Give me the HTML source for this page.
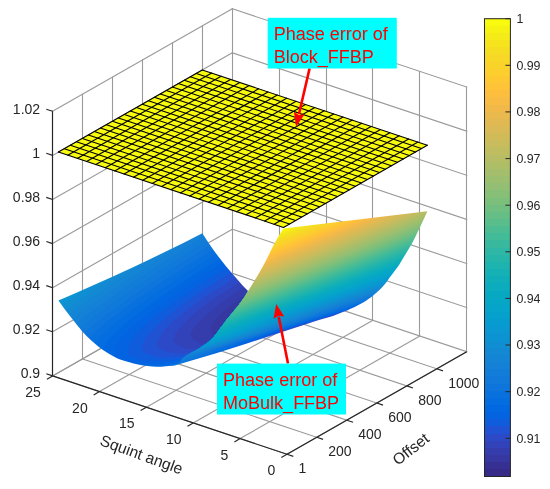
<!DOCTYPE html><html><head><meta charset="utf-8"><style>html,body{margin:0;padding:0;background:#fff;overflow:hidden}svg{display:block}text{font-family:"Liberation Sans",Arial,Helvetica,sans-serif}</style></head><body>
<svg width="550" height="489" viewBox="0 0 550 489">
<rect width="550" height="489" fill="#fff"/>
<g stroke-linecap="square"><line x1="52.5" y1="375.9" x2="52.5" y2="111.3" stroke="#999999" stroke-width="1.1"/><line x1="82.5" y1="358.9" x2="82.5" y2="94.3" stroke="#999999" stroke-width="1.1"/><line x1="112.5" y1="341.8" x2="112.5" y2="77.2" stroke="#999999" stroke-width="1.1"/><line x1="142.5" y1="324.6" x2="142.5" y2="60.1" stroke="#999999" stroke-width="1.1"/><line x1="172.5" y1="307.5" x2="172.5" y2="43" stroke="#999999" stroke-width="1.1"/><line x1="202.5" y1="290.4" x2="202.5" y2="25.9" stroke="#999999" stroke-width="1.1"/><line x1="52.6" y1="375.9" x2="232.3" y2="273.3" stroke="#999999" stroke-width="1.1"/><line x1="52.6" y1="331.8" x2="232.3" y2="229.2" stroke="#999999" stroke-width="1.1"/><line x1="52.6" y1="287.7" x2="232.3" y2="185.1" stroke="#999999" stroke-width="1.1"/><line x1="52.6" y1="243.6" x2="232.3" y2="141" stroke="#999999" stroke-width="1.1"/><line x1="52.6" y1="199.5" x2="232.3" y2="96.9" stroke="#999999" stroke-width="1.1"/><line x1="52.6" y1="155.4" x2="232.3" y2="52.8" stroke="#999999" stroke-width="1.1"/><line x1="52.6" y1="111.3" x2="232.3" y2="8.7" stroke="#999999" stroke-width="1.1"/><line x1="466.5" y1="351.7" x2="466.5" y2="87.1" stroke="#999999" stroke-width="1.1"/><line x1="419.5" y1="336" x2="419.5" y2="71.5" stroke="#999999" stroke-width="1.1"/><line x1="372.5" y1="320.3" x2="372.5" y2="55.8" stroke="#999999" stroke-width="1.1"/><line x1="326.5" y1="304.7" x2="326.5" y2="40.1" stroke="#999999" stroke-width="1.1"/><line x1="279.5" y1="289" x2="279.5" y2="24.4" stroke="#999999" stroke-width="1.1"/><line x1="232.5" y1="273.3" x2="232.5" y2="8.7" stroke="#999999" stroke-width="1.1"/><line x1="466.7" y1="351.7" x2="232.3" y2="273.3" stroke="#999999" stroke-width="1.1"/><line x1="466.7" y1="307.6" x2="232.3" y2="229.2" stroke="#999999" stroke-width="1.1"/><line x1="466.7" y1="263.5" x2="232.3" y2="185.1" stroke="#999999" stroke-width="1.1"/><line x1="466.7" y1="219.4" x2="232.3" y2="141" stroke="#999999" stroke-width="1.1"/><line x1="466.7" y1="175.3" x2="232.3" y2="96.9" stroke="#999999" stroke-width="1.1"/><line x1="466.7" y1="131.2" x2="232.3" y2="52.8" stroke="#999999" stroke-width="1.1"/><line x1="466.7" y1="87.1" x2="232.3" y2="8.7" stroke="#999999" stroke-width="1.1"/><line x1="287" y1="454.3" x2="466.7" y2="351.7" stroke="#999999" stroke-width="1.1"/><line x1="240.1" y1="438.6" x2="419.8" y2="336" stroke="#999999" stroke-width="1.1"/><line x1="193.2" y1="422.9" x2="372.9" y2="320.3" stroke="#999999" stroke-width="1.1"/><line x1="146.4" y1="407.3" x2="326.1" y2="304.7" stroke="#999999" stroke-width="1.1"/><line x1="99.5" y1="391.6" x2="279.2" y2="289" stroke="#999999" stroke-width="1.1"/><line x1="52.6" y1="375.9" x2="232.3" y2="273.3" stroke="#999999" stroke-width="1.1"/><line x1="287" y1="454.3" x2="52.6" y2="375.9" stroke="#999999" stroke-width="1.1"/><line x1="316.8" y1="437.3" x2="82.4" y2="358.9" stroke="#999999" stroke-width="1.1"/><line x1="346.8" y1="420.2" x2="112.4" y2="341.8" stroke="#999999" stroke-width="1.1"/><line x1="376.8" y1="403" x2="142.4" y2="324.6" stroke="#999999" stroke-width="1.1"/><line x1="406.8" y1="385.9" x2="172.4" y2="307.5" stroke="#999999" stroke-width="1.1"/><line x1="436.7" y1="368.8" x2="202.3" y2="290.4" stroke="#999999" stroke-width="1.1"/></g>
<defs><mask id="sil" maskUnits="userSpaceOnUse" x="0" y="0" width="550" height="489"><path d="M58.45 300.47 60.79 303.77 65.48 310.18 67.82 313.30 72.51 319.35 77.20 325.23 79.54 328.11 81.89 330.88 84.23 333.51 86.57 335.94 88.92 338.27 91.26 340.50 93.60 342.62 95.95 344.60 98.29 346.44 100.64 348.20 102.98 349.90 105.32 351.49 107.67 352.96 112.36 355.64 114.70 356.94 117.04 358.13 119.39 359.17 121.73 360.00 124.08 360.74 131.11 362.79 133.45 363.43 135.80 364.01 140.49 364.96 145.17 365.76 147.52 366.09 149.86 366.34 152.21 366.54 156.89 366.77 159.24 366.76 161.58 366.66 163.93 366.49 168.61 366.04 173.30 365.69 175.64 365.21 189.13 361.28 202.62 357.26 216.11 353.16 229.60 348.97 246.09 343.75 272.41 335.24 287.40 330.33 303.70 324.90 312.69 322.00 319.75 319.83 331.25 316.46 333.59 315.64 342.96 312.05 347.65 310.13 350.00 309.10 354.68 306.93 357.03 305.78 359.37 304.55 361.72 303.26 364.06 301.89 366.41 300.43 368.75 298.85 371.09 297.14 373.44 295.23 375.78 293.18 380.47 288.88 382.81 286.53 385.16 283.84 387.50 280.68 389.84 277.34 392.19 274.17 396.88 268.06 399.22 264.63 401.56 260.82 406.25 252.93 410.94 245.19 413.28 240.95 415.63 236.32 420.32 226.57 425.00 216.53 427.35 211.36 283.47 228.47 281.13 232.05 278.78 235.87 276.44 239.91 274.09 244.14 271.75 248.70 267.06 258.53 264.72 263.01 262.37 267.26 257.69 275.39 255.34 279.30 248.15 290.98 246.86 289.80 244.52 287.45 242.17 284.94 239.83 282.31 230.45 271.48 225.77 265.91 223.42 263.03 218.73 257.03 214.04 250.67 209.36 243.97 207.01 240.49 202.33 233.32 184.34 242.39 166.36 251.26 148.37 259.95 130.39 268.44 112.40 276.74 94.42 284.84 76.43 292.75Z" fill="#fff"/></mask></defs><g mask="url(#sil)"><rect x="54" y="204" width="378" height="170" fill="#352a87"/><path fill-rule="evenodd" fill="#363093" d="M431.6 373.6 54.0 373.6 54.0 204.0 431.6 204.0 431.6 373.6Z"/><path fill-rule="evenodd" fill="#3637a0" d="M431.6 373.6 54.0 373.6 54.0 204.0 431.6 204.0 431.6 373.6Z"/><path fill-rule="evenodd" fill="#353dad" d="M431.6 373.6 54.0 373.6 54.0 204.0 431.6 204.0 431.6 373.6ZM214.4 335.6 216.0 334.0 216.0 333.6 217.2 332.4 217.2 332.0 218.4 330.8 218.4 330.4 219.6 329.2 219.6 328.8 220.4 328.0 220.4 327.6 221.6 326.4 221.6 326.0 222.8 324.8 222.8 324.4 224.0 323.2 224.0 322.8 225.2 321.6 225.2 321.2 226.4 320.0 226.4 319.6 228.4 317.6 228.4 317.2 230.4 315.2 230.4 314.8 232.4 312.8 232.4 312.4 234.4 310.4 234.4 310.0 236.4 308.0 236.4 307.6 238.0 306.0 238.0 305.6 239.2 304.4 239.2 304.0 240.4 302.8 240.4 302.4 241.6 301.2 241.6 300.8 242.4 300.0 242.4 299.6 243.2 298.8 243.2 298.4 244.0 297.6 244.0 297.2 244.8 296.4 244.8 296.0 245.6 295.2 245.6 294.8 246.0 294.4 246.0 294.2 235.3 302.0 226.3 309.2 222.2 312.8 218.8 316.0 216.1 318.8 213.8 321.6 212.4 323.6 211.3 325.6 210.9 327.2 210.9 328.8 211.2 330.8 211.9 332.8 213.2 334.7 214.2 335.6 214.4 335.6Z"/><path fill-rule="evenodd" fill="#3243ba" d="M431.6 373.6 54.0 373.6 54.0 204.0 431.6 204.0 431.6 373.6ZM206.0 343.6 206.8 342.8 207.2 342.8 208.4 341.6 208.8 341.6 214.0 336.4 214.0 336.0 216.0 334.0 216.0 333.6 217.2 332.4 217.2 332.0 218.4 330.8 218.4 330.4 219.6 329.2 219.6 328.8 220.4 328.0 220.4 327.6 221.6 326.4 221.6 326.0 222.8 324.8 222.8 324.4 224.0 323.2 224.0 322.8 225.2 321.6 225.2 321.2 226.4 320.0 226.4 319.6 228.4 317.6 228.4 317.2 230.4 315.2 230.4 314.8 232.4 312.8 232.4 312.4 234.4 310.4 234.4 310.0 236.4 308.0 236.4 307.6 238.0 306.0 238.0 305.6 239.2 304.4 239.2 304.0 240.4 302.8 240.4 302.4 241.6 301.2 241.6 300.8 242.4 300.0 242.4 299.6 243.2 298.8 243.2 298.4 244.0 297.6 244.0 297.2 244.8 296.4 244.8 296.0 245.6 295.2 245.6 294.8 246.0 294.4 246.0 294.0 246.8 293.2 246.8 292.8 247.2 292.4 247.2 292.0 248.0 291.2 248.0 290.4 247.6 290.0 247.6 287.6 247.2 287.2 247.2 283.7 244.0 286.9 243.6 287.0 237.9 290.8 226.8 298.4 218.6 304.4 211.6 310.0 205.6 315.2 201.0 319.6 196.6 324.4 193.5 328.4 192.5 330.0 191.6 331.6 191.2 332.8 191.0 334.0 191.1 335.2 191.4 336.0 192.1 337.2 192.9 338.4 194.0 339.6 195.5 340.8 197.4 342.0 199.1 342.8 200.8 343.3 202.8 343.6 205.6 343.8 206.0 343.6Z"/><path fill-rule="evenodd" fill="#2c4ac7" d="M431.6 373.6 357.2 373.6 357.2 372.8 356.8 372.4 356.8 371.6 356.4 371.2 356.4 370.8 356.0 370.4 356.0 369.6 355.6 369.2 355.6 368.4 355.2 368.0 355.2 367.6 354.8 367.2 354.8 366.4 354.4 366.0 354.4 365.2 354.0 364.8 354.0 364.4 353.6 364.0 353.6 363.2 353.2 362.8 353.2 362.0 352.8 361.6 352.8 361.2 352.4 360.8 352.4 360.0 352.0 359.6 352.0 358.8 351.6 358.4 351.6 358.0 351.2 357.6 351.2 356.8 350.8 356.4 350.8 355.6 350.4 355.2 350.4 354.8 350.0 354.4 350.0 353.6 349.6 353.2 349.6 352.4 349.2 352.0 349.2 351.6 348.8 351.2 348.8 350.4 348.4 350.0 348.4 349.2 348.0 348.8 348.0 348.4 347.6 348.0 347.6 347.2 347.2 346.8 347.2 346.0 346.8 345.6 346.8 345.2 346.4 344.8 346.4 344.0 346.0 343.6 346.0 342.8 345.6 342.4 345.6 342.0 345.2 341.5 345.2 340.8 344.5 339.6 344.5 339.2 344.1 338.4 344.1 338.0 343.7 337.6 343.7 336.8 343.3 336.4 343.3 335.6 342.9 335.2 342.9 334.4 342.5 334.0 342.5 333.2 342.1 332.8 342.1 332.0 341.7 331.6 341.7 330.8 341.3 330.4 341.3 329.6 340.9 329.2 340.9 328.4 340.5 328.0 340.5 327.2 340.1 326.8 340.1 326.0 339.7 325.6 339.7 324.8 339.3 324.4 339.3 323.6 338.9 323.2 338.9 322.4 338.5 322.0 338.5 321.2 338.1 320.8 338.1 320.0 337.7 319.6 337.7 318.8 337.3 318.4 337.3 317.6 336.9 317.2 336.9 316.4 336.5 316.0 336.5 315.6 336.0 315.2 336.0 314.8 335.6 314.8 335.6 315.6 335.2 315.9 334.9 315.6 334.9 315.2 334.4 315.2 326.6 317.6 326.6 318.4 326.4 318.6 326.2 318.4 326.2 318.0 326.0 317.9 325.4 318.0 325.4 318.8 325.2 318.9 325.1 318.8 325.1 318.4 324.8 318.2 324.1 318.4 324.0 319.3 323.9 318.8 323.6 318.6 322.8 318.8 322.8 320.4 322.8 320.0 322.4 319.9 322.1 319.6 322.0 319.2 321.5 319.2 321.5 320.0 321.2 320.2 321.0 320.0 321.0 319.6 320.8 319.5 320.2 319.6 320.1 322.8 320.5 323.2 320.5 324.4 320.9 324.8 320.9 326.0 321.3 326.4 321.3 327.6 321.7 328.0 321.7 329.2 322.1 329.6 322.1 330.8 322.5 331.2 322.5 332.4 322.9 332.8 322.8 334.0 323.3 334.4 323.2 335.6 323.7 336.0 323.6 337.2 324.0 337.6 324.0 338.8 324.4 339.2 324.4 340.0 324.8 340.4 324.8 341.6 325.2 342.0 325.2 342.8 325.6 343.2 325.6 344.4 326.0 344.8 326.0 345.6 326.4 346.0 326.4 347.2 326.8 347.6 326.8 348.4 327.2 348.8 327.2 350.0 327.6 350.4 327.6 351.2 328.0 351.6 328.0 352.8 328.4 353.2 328.4 354.0 328.8 354.4 328.8 355.6 328.8 354.8 328.4 354.4 328.4 353.6 328.0 353.2 328.0 352.4 327.6 352.0 327.6 351.2 327.2 350.8 327.2 350.0 326.8 349.6 326.8 348.8 326.4 348.4 326.4 347.6 326.0 347.2 326.0 346.4 325.6 346.0 325.6 345.2 325.2 344.8 325.2 344.0 324.8 343.6 324.8 342.8 324.4 342.4 324.4 341.6 324.0 341.2 324.0 340.4 323.6 340.0 323.6 339.2 323.2 338.8 323.2 338.0 322.8 337.6 322.8 336.8 322.4 336.4 322.4 335.6 322.0 335.2 322.0 334.4 321.6 334.0 321.6 333.2 321.2 332.8 321.2 332.0 320.8 331.6 320.8 330.8 320.4 330.4 320.4 329.6 320.0 329.2 320.0 328.4 319.6 328.0 319.6 327.2 319.2 326.8 319.2 326.0 318.8 325.6 318.8 324.8 318.4 324.4 318.4 323.6 318.0 323.2 318.0 322.4 317.6 322.0 317.6 321.6 317.2 321.5 316.9 321.2 316.9 320.8 316.8 320.7 316.2 320.8 316.2 321.6 316.0 321.7 315.9 321.6 315.9 321.2 315.6 321.0 315.2 321.0 314.9 321.2 314.8 324.4 315.2 324.8 315.2 326.0 315.6 326.4 315.6 327.6 316.0 328.0 316.0 329.2 316.4 329.6 316.4 330.8 316.8 331.2 316.8 332.4 317.2 332.8 317.2 334.1 317.1 334.0 317.1 333.2 316.7 332.8 316.7 332.0 316.3 331.6 316.3 330.8 315.9 330.4 315.9 329.6 315.5 329.2 315.5 328.4 315.1 328.0 315.1 327.2 314.7 326.8 314.7 326.0 314.3 325.6 314.3 324.8 313.9 324.4 313.9 323.6 313.5 323.2 313.5 322.8 312.9 322.4 312.9 322.0 312.8 321.9 312.3 322.0 312.3 322.8 312.0 323.0 311.8 322.8 311.8 322.4 311.6 322.2 311.2 322.3 311.0 322.4 311.0 323.2 310.8 323.3 310.7 323.2 310.7 322.8 310.4 322.6 310.0 322.6 309.7 322.8 309.6 323.7 309.5 323.2 309.2 323.0 308.8 323.0 299.2 326.1 289.6 329.4 289.2 329.6 289.2 330.4 289.2 330.0 288.8 329.8 288.4 329.8 288.1 330.0 288.0 330.9 287.9 330.4 287.6 330.2 287.2 330.3 286.9 330.4 286.9 331.2 286.8 331.3 286.7 331.2 286.7 330.8 286.4 330.6 286.0 330.7 285.8 330.8 285.8 331.6 285.6 331.8 285.4 331.6 285.4 331.2 285.2 331.1 284.6 331.2 284.6 334.4 285.0 334.8 285.0 336.0 285.4 336.4 285.4 337.6 285.8 338.0 285.8 339.2 286.2 339.6 286.2 340.8 286.6 341.2 286.6 342.4 287.0 342.8 287.0 344.0 287.4 344.4 287.4 345.6 287.8 346.0 287.8 347.2 288.2 347.6 288.2 348.8 288.6 349.2 288.6 350.4 289.0 350.8 289.0 351.6 289.4 352.0 289.4 353.2 289.8 353.6 289.8 354.4 290.2 354.8 290.2 356.0 290.6 356.4 290.6 357.2 291.0 357.6 291.0 358.8 291.4 359.2 291.4 360.0 291.8 360.4 291.8 361.6 292.2 362.0 292.2 362.8 292.6 363.2 292.6 364.4 293.0 364.8 293.0 365.6 293.4 366.0 293.4 367.2 293.8 367.6 293.8 368.4 294.2 368.8 294.2 370.0 294.6 370.4 294.6 371.2 295.0 371.6 295.0 372.8 295.4 373.2 295.4 373.6 54.0 373.6 54.0 204.0 431.6 204.0 431.6 373.6ZM198.4 348.8 199.2 348.0 199.6 348.0 200.4 347.2 200.8 347.2 201.6 346.4 202.0 346.4 202.8 345.6 203.2 345.6 204.0 344.8 204.4 344.8 205.2 344.0 205.6 344.0 206.8 342.8 207.2 342.8 208.4 341.6 208.8 341.6 214.0 336.4 214.0 336.0 216.0 334.0 216.0 333.6 217.2 332.4 217.2 332.0 218.4 330.8 218.4 330.4 219.6 329.2 219.6 328.8 220.4 328.0 220.4 327.6 221.6 326.4 221.6 326.0 222.8 324.8 222.8 324.4 224.0 323.2 224.0 322.8 225.2 321.6 225.2 321.2 226.4 320.0 226.4 319.6 228.4 317.6 228.4 317.2 230.4 315.2 230.4 314.8 232.4 312.8 232.4 312.4 234.4 310.4 234.4 310.0 236.4 308.0 236.4 307.6 238.0 306.0 238.0 305.6 239.2 304.4 239.2 304.0 240.4 302.8 240.4 302.4 241.6 301.2 241.6 300.8 242.4 300.0 242.4 299.6 243.2 298.8 243.2 298.4 244.0 297.6 244.0 297.2 244.8 296.4 244.8 296.0 245.6 295.2 245.6 294.8 246.0 294.4 246.0 294.0 246.8 293.2 246.8 292.8 247.2 292.4 247.2 292.0 248.0 291.2 248.0 290.4 247.6 290.0 247.6 287.6 247.2 287.2 247.2 283.6 246.8 283.2 246.8 279.6 246.4 279.2 246.4 277.3 245.6 278.1 245.2 278.1 244.0 279.3 243.6 279.3 242.8 280.1 242.4 280.1 241.6 280.9 241.2 281.0 240.8 281.4 240.4 281.4 239.6 282.1 239.2 282.2 232.6 286.4 216.8 296.8 207.2 303.6 198.8 310.0 191.5 316.0 185.5 321.6 180.6 326.8 178.7 329.2 176.7 332.0 175.1 334.4 174.1 336.4 173.5 338.0 173.2 339.6 173.3 340.8 173.7 341.6 174.7 342.8 176.0 344.0 178.0 345.4 180.4 346.7 183.2 347.8 185.2 348.4 187.6 348.8 190.4 348.9 194.8 349.0 198.4 348.8ZM317.6 335.3 317.5 335.2 317.5 334.4 317.6 334.4 317.6 335.3ZM318.0 336.5 317.9 336.4 317.9 336.0 318.0 336.0 318.0 336.5ZM318.4 337.7 318.3 337.6 318.4 337.6 318.4 337.7ZM329.2 356.8 329.2 356.0 329.2 356.8ZM329.6 358.0 329.6 357.2 329.6 358.0ZM330.0 359.2 330.0 358.8 330.0 359.2ZM330.4 360.4 330.4 360.0 330.4 360.4Z"/><path fill-rule="evenodd" fill="#2053d4" d="M431.6 373.6 365.4 373.6 365.0 373.2 365.0 372.4 364.6 372.0 364.6 371.6 364.2 371.2 364.2 370.4 363.8 370.0 363.8 369.6 363.4 369.2 363.4 368.4 363.0 368.0 363.0 367.6 362.6 367.2 362.6 366.4 362.2 366.0 362.2 365.6 361.8 365.2 361.8 364.4 361.4 364.0 361.4 363.6 361.0 363.2 361.0 362.4 360.6 362.0 360.6 361.6 360.2 361.2 360.2 360.4 359.8 360.0 359.8 359.6 359.4 359.2 359.4 358.4 359.0 358.0 359.0 357.6 358.6 357.2 358.6 356.4 358.2 356.0 358.2 355.6 357.8 355.2 357.8 354.4 357.4 354.0 357.4 353.6 357.0 353.2 357.0 352.4 356.6 352.0 356.6 351.6 356.2 351.2 356.2 350.4 355.8 350.0 355.8 349.6 355.4 349.2 355.4 348.4 355.0 348.0 355.0 347.6 354.6 347.2 354.6 346.4 354.2 346.0 354.2 345.6 353.8 345.2 353.8 344.4 353.4 344.0 353.4 343.6 353.0 343.2 353.0 342.4 352.6 342.0 352.6 341.6 352.2 341.2 352.2 340.4 351.8 340.0 351.8 339.6 351.4 339.2 351.4 338.4 351.0 338.0 351.0 337.6 350.6 337.2 350.6 336.4 350.2 336.0 350.2 335.6 349.8 335.2 349.8 334.4 349.4 334.0 349.4 333.6 349.0 333.2 349.0 332.4 348.6 332.0 348.6 331.6 348.2 331.2 348.2 330.4 347.8 330.0 347.8 329.6 347.4 329.2 347.4 328.4 347.0 328.0 347.0 327.6 346.6 327.2 346.6 326.4 346.2 326.0 346.2 325.6 345.8 325.2 345.8 324.4 345.4 324.0 345.4 323.6 345.0 323.2 345.0 322.4 344.6 322.0 344.6 321.6 344.2 321.2 344.2 320.4 343.8 320.0 343.8 319.6 343.5 319.2 343.4 318.8 343.1 318.4 343.1 318.0 342.7 317.6 342.7 317.2 342.3 316.8 342.3 316.4 341.9 316.0 341.9 315.6 341.5 315.2 341.5 314.8 341.1 314.4 341.1 314.0 340.7 313.6 340.7 313.2 340.4 313.0 339.7 313.2 339.6 314.0 339.6 313.6 339.2 313.4 338.8 313.5 301.6 325.0 289.9 328.8 273.6 334.7 273.3 334.8 273.2 335.7 273.1 335.2 272.8 335.0 272.4 335.1 272.2 335.2 272.2 336.0 272.0 336.2 271.8 336.0 271.8 335.6 271.2 335.5 271.1 335.6 271.1 336.4 270.8 336.7 270.5 336.4 270.5 336.0 270.0 336.0 269.8 337.6 270.2 338.0 270.2 338.8 270.6 339.2 270.6 340.0 271.0 340.4 271.0 341.2 271.4 341.6 271.4 342.4 271.8 342.8 271.8 343.6 272.2 344.0 272.2 344.8 272.6 345.2 272.6 346.0 273.0 346.4 273.0 347.2 273.4 347.6 273.4 348.4 273.8 348.8 273.8 349.6 274.2 350.0 274.2 350.8 274.6 351.2 274.6 352.0 275.0 352.4 275.0 353.2 275.4 353.6 275.4 354.4 275.8 354.8 275.8 355.6 276.2 356.0 276.2 356.8 276.6 357.2 276.6 358.0 277.0 358.4 277.0 359.2 277.4 359.6 277.4 360.4 277.8 360.8 277.8 361.6 278.2 362.0 278.2 362.8 278.6 363.2 278.6 364.0 279.0 364.4 279.0 365.2 279.4 365.6 279.4 366.4 279.8 366.8 279.8 367.6 280.2 368.0 280.2 368.8 280.6 369.2 280.6 370.0 281.0 370.4 281.0 371.2 281.4 371.6 281.4 372.4 281.8 372.8 281.8 373.6 54.0 373.6 54.0 204.0 431.6 204.0 431.6 373.6ZM188.8 353.2 190.0 353.1 190.4 352.8 190.8 352.8 191.2 352.4 191.6 352.4 192.0 352.0 192.4 352.0 192.8 351.6 193.2 351.6 193.6 351.2 194.0 351.2 194.4 350.8 194.8 350.8 195.2 350.4 195.6 350.4 196.0 350.0 196.4 350.0 197.2 349.2 197.6 349.2 198.0 348.8 198.4 348.8 199.2 348.0 199.6 348.0 200.4 347.2 200.8 347.2 201.6 346.4 202.0 346.4 202.8 345.6 203.2 345.6 204.0 344.8 204.4 344.8 205.2 344.0 205.6 344.0 206.8 342.8 207.2 342.8 208.4 341.6 208.8 341.7 214.1 336.4 214.1 336.0 216.1 334.0 216.1 333.6 217.3 332.4 217.3 332.0 218.5 330.8 218.5 330.4 219.7 329.2 219.7 328.8 220.5 328.0 220.5 327.6 221.7 326.4 221.7 326.0 222.9 324.8 222.9 324.4 224.1 323.2 224.1 322.8 225.3 321.6 225.3 321.2 226.5 320.0 226.5 319.6 228.5 317.6 228.4 317.2 230.4 315.2 230.4 314.8 232.4 312.8 232.4 312.4 234.4 310.4 234.4 310.0 236.4 308.0 236.4 307.6 238.0 306.0 238.0 305.6 239.2 304.4 239.2 304.0 240.4 302.8 240.4 302.4 241.6 301.2 241.6 300.8 242.4 300.0 242.4 299.6 243.2 298.8 243.2 298.4 244.0 297.6 244.0 297.2 244.8 296.4 244.8 296.0 245.6 295.2 245.6 294.8 246.0 294.4 246.0 294.0 246.8 293.2 246.8 292.8 247.2 292.4 247.2 292.0 248.0 291.2 248.0 290.4 247.6 290.0 247.6 287.6 247.2 287.2 247.2 283.6 246.8 283.2 246.8 279.6 246.4 279.2 246.4 274.4 246.0 274.0 246.0 269.6 245.6 269.2 245.6 267.9 244.0 269.5 243.6 269.5 242.0 271.1 241.7 271.2 235.6 277.3 235.2 277.4 224.0 284.4 207.5 295.2 194.9 304.0 183.7 312.4 175.9 318.8 169.8 324.4 167.1 327.2 164.9 329.6 163.0 332.0 161.2 334.4 159.8 336.8 158.4 339.6 157.6 341.6 157.1 343.6 157.0 344.8 157.2 346.0 158.0 347.2 159.0 348.0 161.6 349.5 164.4 350.8 169.0 352.4 171.6 353.0 174.4 353.3 178.4 353.5 183.2 353.4 188.8 353.2Z"/><path fill-rule="evenodd" fill="#0f5cdd" d="M431.6 373.6 370.0 373.6 370.0 372.8 369.6 372.4 369.6 372.0 369.2 371.6 369.2 370.8 368.8 370.4 368.8 370.0 368.4 369.6 368.4 368.8 368.0 368.4 368.0 368.0 367.6 367.6 367.6 366.8 367.2 366.4 367.2 366.0 366.8 365.6 366.8 364.8 366.4 364.4 366.4 364.0 366.0 363.6 366.0 362.8 365.6 362.4 365.6 362.0 365.2 361.6 365.2 360.8 364.8 360.4 364.8 360.0 364.4 359.6 364.4 358.8 364.0 358.4 364.0 358.0 363.6 357.6 363.6 356.8 363.2 356.4 363.2 356.0 362.8 355.6 362.8 354.8 362.4 354.4 362.4 354.0 362.0 353.6 362.0 352.8 361.6 352.4 361.6 352.0 361.2 351.6 361.2 350.8 360.8 350.4 360.8 350.0 360.4 349.6 360.4 348.8 360.0 348.4 360.0 348.0 359.6 347.6 359.6 346.8 359.2 346.4 359.2 346.0 358.8 345.6 358.8 344.8 358.4 344.4 358.4 344.0 358.0 343.6 358.0 342.8 357.6 342.4 357.6 342.0 357.2 341.6 357.2 340.8 356.8 340.4 356.8 340.0 356.4 339.6 356.4 338.8 356.0 338.4 356.0 338.0 355.6 337.6 355.6 336.8 355.2 336.4 355.2 336.0 354.8 335.6 354.8 334.8 354.4 334.4 354.4 334.0 354.0 333.6 354.0 332.8 353.6 332.4 353.6 332.0 353.2 331.6 353.2 330.8 352.8 330.4 352.8 330.0 352.4 329.6 352.4 328.8 352.0 328.4 352.0 328.0 351.6 327.6 351.6 326.8 351.2 326.4 351.2 326.0 350.8 325.6 350.8 324.8 350.4 324.4 350.4 324.0 350.0 323.6 350.0 322.8 349.6 322.4 349.6 322.0 349.2 321.6 349.2 320.8 348.8 320.4 348.8 320.0 348.4 319.6 348.4 318.8 348.0 318.4 348.0 318.0 347.3 316.8 347.3 316.4 346.9 316.0 346.9 315.2 346.5 314.8 346.5 314.0 346.1 313.6 346.1 312.8 345.7 312.4 345.7 312.0 345.2 311.6 345.2 311.2 344.0 311.4 319.6 319.0 282.3 330.8 273.2 334.0 257.6 339.9 257.3 340.0 257.2 340.9 257.1 340.8 257.1 340.4 256.8 340.3 256.4 340.3 256.2 340.4 256.2 341.2 256.0 341.5 255.7 341.2 255.7 340.8 255.1 340.8 255.1 341.6 254.9 342.0 254.9 342.4 255.3 342.8 255.3 343.6 255.7 344.0 255.7 344.8 256.1 345.2 256.1 346.0 256.5 346.4 256.5 347.2 256.9 347.6 256.9 348.4 257.3 348.8 257.3 349.6 257.7 350.0 257.7 350.8 258.1 351.2 258.1 352.0 258.5 352.4 258.5 353.2 258.9 353.6 258.9 354.4 259.3 354.8 259.3 355.6 259.7 356.0 259.7 356.8 260.1 357.2 260.1 358.0 260.5 358.4 260.5 359.2 260.9 359.6 260.9 360.4 261.3 360.8 261.3 361.6 261.7 362.0 261.7 362.8 262.1 363.2 262.1 364.0 262.5 364.4 262.5 365.2 262.9 365.6 262.9 366.4 263.3 366.8 263.3 367.6 263.7 368.0 263.7 368.8 264.1 369.2 264.1 370.0 264.5 370.4 264.5 371.2 264.9 371.6 264.9 372.4 265.3 372.8 265.3 373.6 54.0 373.6 54.0 204.0 431.6 204.0 431.6 373.6ZM177.4 357.2 184.4 356.5 184.8 356.4 185.2 356.0 185.6 356.0 186.4 355.2 186.8 355.2 187.6 354.4 188.0 354.4 188.4 354.0 188.8 354.0 189.2 353.6 189.6 353.6 190.4 352.8 190.8 352.8 191.2 352.4 191.6 352.4 192.0 352.0 192.4 352.0 192.8 351.6 193.2 351.6 193.6 351.2 194.0 351.2 194.4 350.8 194.8 350.8 195.2 350.4 195.6 350.5 196.0 350.1 196.4 350.1 197.2 349.3 197.6 349.3 198.0 348.9 198.4 348.9 199.2 348.1 199.6 348.1 200.4 347.3 200.8 347.3 201.6 346.5 202.0 346.5 202.8 345.7 203.2 345.7 204.0 344.9 204.4 344.9 205.2 344.1 205.6 344.1 206.8 342.9 207.2 342.9 208.4 341.7 208.8 341.7 214.1 336.4 214.1 336.0 216.1 334.0 216.1 333.6 217.3 332.4 217.3 332.0 218.5 330.8 218.5 330.4 219.7 329.2 219.7 328.8 220.5 328.0 220.5 327.6 221.7 326.4 221.7 326.0 222.9 324.8 222.9 324.4 224.1 323.2 224.1 322.8 225.3 321.6 225.3 321.2 226.5 320.0 226.5 319.6 228.5 317.6 228.5 317.2 230.5 315.2 230.5 314.8 232.5 312.8 232.5 312.4 234.5 310.4 234.5 310.0 236.5 308.0 236.5 307.6 238.1 306.0 238.1 305.6 239.3 304.4 239.3 304.0 240.5 302.8 240.5 302.4 241.6 301.2 241.6 300.8 242.4 300.0 242.4 299.6 243.2 298.8 243.2 298.4 244.0 297.6 244.0 297.2 244.8 296.4 244.8 296.0 245.6 295.2 245.6 294.8 246.0 294.4 246.0 294.0 246.8 293.2 246.8 292.8 247.2 292.4 247.2 292.0 248.0 291.2 248.0 290.4 247.6 290.0 247.6 287.6 247.2 287.2 247.2 283.6 246.8 283.2 246.8 279.6 246.4 279.2 246.4 274.4 246.0 274.0 246.0 269.6 245.6 269.2 245.6 265.2 245.2 264.8 245.2 262.4 243.2 264.4 242.8 264.4 241.2 266.0 240.8 266.0 239.2 267.6 238.8 267.6 237.6 268.8 237.2 268.8 236.0 270.0 235.6 270.0 234.8 270.8 234.4 270.8 233.6 271.6 233.2 271.6 232.8 272.0 232.4 272.0 232.0 272.4 231.2 272.5 226.8 275.2 214.8 282.8 203.7 290.0 186.8 301.6 179.0 307.2 172.1 312.4 167.1 316.4 162.3 320.4 157.8 324.4 154.0 328.0 151.0 331.2 148.3 334.4 145.9 337.6 144.3 340.4 143.6 342.0 142.6 344.8 142.1 346.8 142.0 348.4 142.1 349.6 142.5 350.8 143.2 351.7 144.4 352.6 147.7 354.0 151.2 355.2 156.0 356.5 158.8 357.1 162.0 357.4 166.4 357.5 172.4 357.4 177.4 357.2Z"/><path fill-rule="evenodd" fill="#0363e1" d="M431.6 373.6 379.4 373.6 379.4 373.2 379.0 372.8 379.0 372.4 378.6 372.0 378.6 371.6 378.2 371.2 378.2 370.8 377.8 370.4 377.8 369.6 377.4 369.2 377.4 368.8 377.0 368.4 377.0 368.0 376.6 367.6 376.6 367.2 376.2 366.8 376.2 366.0 375.8 365.6 375.8 365.2 375.4 364.8 375.4 364.4 375.0 364.0 375.0 363.6 374.6 363.2 374.6 362.4 374.2 362.0 374.2 361.6 373.8 361.2 373.8 360.8 373.4 360.4 373.4 360.0 373.0 359.6 373.0 358.8 372.6 358.4 372.6 358.0 372.2 357.6 372.2 357.2 371.8 356.8 371.8 356.4 371.4 356.0 371.4 355.2 371.0 354.8 371.0 354.4 370.6 354.0 370.6 353.6 370.2 353.2 370.2 352.8 369.8 352.4 369.8 351.6 369.4 351.2 369.4 350.8 369.0 350.4 369.0 350.0 368.6 349.6 368.6 349.2 368.2 348.8 368.2 348.0 367.8 347.6 367.8 347.2 367.4 346.8 367.4 346.4 367.0 346.0 367.0 345.6 366.6 345.2 366.6 344.4 366.2 344.0 366.2 343.6 365.8 343.2 365.8 342.8 365.4 342.4 365.4 342.0 365.0 341.6 365.0 340.8 364.6 340.4 364.6 340.0 364.2 339.6 364.2 339.2 363.8 338.8 363.6 338.0 362.6 336.0 362.4 335.2 362.0 334.8 362.0 334.4 361.6 334.0 361.6 333.6 361.2 333.2 361.2 332.4 360.8 332.0 360.8 331.6 360.4 331.2 360.4 330.8 360.0 330.4 360.0 329.6 359.6 329.2 359.6 328.8 359.2 328.4 359.2 328.0 358.8 327.6 358.8 326.8 358.4 326.4 358.4 326.0 358.0 325.6 358.0 325.2 357.6 324.8 357.6 324.3 357.3 324.0 357.2 323.5 356.9 323.2 356.8 322.7 356.5 322.4 356.5 322.0 356.1 321.6 356.1 321.2 355.7 320.8 355.7 320.4 355.3 320.0 355.3 319.6 354.9 319.2 354.9 318.8 354.5 318.4 354.5 318.0 354.1 317.6 354.1 317.2 353.7 316.8 353.7 316.4 353.3 316.0 353.3 315.6 352.9 315.2 352.9 314.8 352.5 314.4 352.5 314.0 352.1 313.6 352.1 313.2 351.7 312.8 351.7 312.4 351.3 312.0 351.3 311.6 350.9 311.2 350.9 310.8 350.5 310.4 350.5 310.0 350.1 309.6 350.1 309.2 350.0 309.1 348.8 309.4 306.4 322.7 272.2 333.6 262.0 337.2 241.6 345.0 241.3 345.2 241.2 346.1 241.1 345.6 240.8 345.4 240.1 345.6 240.2 348.8 240.6 349.2 240.6 350.4 241.0 350.8 241.0 352.0 241.4 352.4 241.4 353.6 241.8 354.0 241.8 355.2 242.2 355.6 242.2 356.8 242.6 357.2 242.6 358.4 243.0 358.8 243.0 360.0 243.4 360.4 243.4 361.6 243.8 362.0 243.8 363.2 244.2 363.6 244.2 364.8 244.6 365.2 244.6 366.0 245.0 366.4 245.0 367.6 245.4 368.0 245.4 368.8 245.8 369.2 245.8 370.4 246.2 370.8 246.2 371.6 246.6 372.0 246.6 373.2 247.0 373.6 54.0 373.6 54.0 204.0 431.6 204.0 431.6 373.6ZM167.2 360.8 174.0 360.1 181.6 359.1 183.6 357.2 184.0 357.2 185.2 356.1 185.6 356.1 186.4 355.3 186.8 355.3 187.6 354.5 188.0 354.5 188.4 354.1 188.8 354.1 189.2 353.7 189.6 353.7 190.4 352.9 190.8 352.9 191.2 352.5 191.6 352.5 192.0 352.1 192.4 352.1 192.8 351.7 193.2 351.7 193.6 351.3 194.0 351.3 194.4 350.9 194.8 350.9 195.2 350.5 195.6 350.5 196.0 350.1 196.4 350.1 197.2 349.3 197.6 349.3 198.0 348.9 198.4 348.9 199.2 348.1 199.6 348.1 200.4 347.3 200.8 347.3 201.6 346.5 202.0 346.5 202.8 345.7 203.2 345.7 204.0 344.9 204.4 344.9 205.2 344.1 205.6 344.1 206.8 342.9 207.2 342.9 208.4 341.7 208.8 341.7 214.1 336.4 214.1 336.0 216.1 334.0 216.1 333.6 217.3 332.4 217.3 332.0 218.5 330.8 218.5 330.4 219.7 329.2 219.7 328.8 220.5 328.0 220.5 327.6 221.7 326.4 221.7 326.0 222.9 324.8 222.9 324.4 224.1 323.2 224.1 322.8 225.3 321.6 225.3 321.2 226.5 320.0 226.5 319.6 228.5 317.6 228.5 317.2 230.5 315.2 230.5 314.8 232.5 312.8 232.5 312.4 234.5 310.4 234.5 310.0 236.5 308.0 236.5 307.6 238.1 306.0 238.1 305.6 239.3 304.4 239.3 304.0 240.5 302.8 240.5 302.4 241.7 301.2 241.7 300.8 242.5 300.0 242.5 299.6 243.3 298.8 243.3 298.4 244.1 297.6 244.1 297.2 244.9 296.4 244.9 296.0 245.7 295.2 245.7 294.8 246.1 294.4 246.1 294.0 246.9 293.2 246.9 292.8 247.3 292.4 247.3 292.0 248.1 291.2 248.0 290.4 247.6 290.0 247.6 287.6 247.2 287.2 247.2 283.6 246.8 283.2 246.8 279.6 246.4 279.2 246.4 274.4 246.0 274.0 246.0 269.6 245.6 269.2 245.6 265.2 245.2 264.8 245.2 260.8 244.8 260.4 244.8 256.4 244.4 256.0 244.4 254.5 243.6 255.3 243.2 255.3 241.2 257.3 240.8 257.3 238.8 259.3 238.4 259.3 236.8 260.9 236.4 260.9 234.8 262.5 234.4 262.5 233.2 263.7 232.8 263.7 231.6 264.9 231.2 265.0 230.4 265.8 230.0 265.8 229.2 266.6 228.8 266.7 228.4 267.1 228.0 267.1 227.2 267.9 221.0 271.6 208.9 279.2 189.9 291.6 181.2 297.6 172.7 303.6 165.1 309.2 158.3 314.4 152.3 319.2 147.2 323.6 142.8 327.6 139.1 331.2 135.5 335.2 132.6 338.8 130.5 342.0 129.1 344.8 128.4 346.8 128.0 349.2 127.8 351.6 128.0 353.2 128.4 354.4 129.2 355.6 130.0 356.2 131.2 356.8 134.7 358.0 138.4 359.0 144.0 360.3 147.2 360.7 151.2 361.0 156.4 361.1 162.0 361.1 167.2 360.8Z"/><path fill-rule="evenodd" fill="#0268e1" d="M431.6 373.6 387.7 373.6 387.3 373.2 387.3 372.8 386.9 372.4 386.9 372.0 386.5 371.6 386.5 371.2 386.1 370.8 386.1 370.4 385.7 370.0 385.7 369.6 385.3 369.2 385.3 368.8 384.9 368.4 384.9 368.0 384.5 367.6 384.5 367.2 384.1 366.8 384.1 366.4 383.7 366.0 383.7 365.6 383.3 365.2 383.3 364.8 382.9 364.4 382.9 364.0 382.5 363.6 382.5 363.2 382.1 362.8 382.1 362.4 381.7 362.0 381.7 361.6 381.3 361.2 381.3 360.8 380.9 360.4 380.9 360.0 380.5 359.6 380.5 359.2 380.1 358.8 380.1 358.4 379.7 358.0 379.7 357.6 379.3 357.2 379.3 356.8 378.9 356.4 378.9 356.0 378.5 355.6 378.5 355.2 378.1 354.8 378.1 354.4 377.7 354.0 377.7 353.6 377.3 353.2 377.3 352.8 376.9 352.4 376.9 352.0 376.5 351.6 376.5 351.2 376.1 350.8 376.1 350.4 375.7 350.0 375.7 349.6 375.3 349.2 375.3 348.8 374.9 348.4 374.9 348.0 374.5 347.6 374.5 347.2 374.1 346.8 374.1 346.4 373.7 346.0 373.7 345.6 373.3 345.2 373.3 344.8 372.9 344.4 372.9 344.0 372.5 343.6 372.5 343.2 372.1 342.8 372.1 342.4 371.7 342.0 371.7 341.6 371.3 341.2 371.3 340.8 370.9 340.4 370.9 340.0 370.5 339.6 370.5 339.2 370.1 338.8 370.1 338.4 369.7 338.0 369.7 337.6 369.3 337.2 369.3 336.8 368.9 336.4 368.9 336.0 368.5 335.6 368.5 335.2 368.1 334.8 368.1 334.4 367.7 334.0 367.7 333.6 367.3 333.2 367.3 332.8 366.9 332.4 366.9 332.0 366.5 331.6 366.5 331.2 366.1 330.8 366.1 330.4 365.7 330.0 365.7 329.6 365.3 329.2 365.3 328.8 364.9 328.4 364.9 328.0 364.5 327.6 364.5 327.2 364.1 326.8 364.1 326.4 363.7 326.0 363.7 325.6 363.3 325.2 363.3 324.8 362.9 324.4 362.9 324.0 362.5 323.6 362.5 323.2 362.1 322.8 362.1 322.4 361.7 322.0 361.7 321.6 361.3 321.2 361.3 320.8 360.9 320.4 360.9 320.0 360.5 319.6 360.5 319.2 360.1 318.8 360.1 318.4 359.7 318.0 359.7 317.6 359.3 317.2 359.3 316.8 358.9 316.4 358.9 316.0 358.5 315.6 358.5 315.2 358.1 314.8 358.1 314.4 357.7 314.0 357.7 313.6 357.3 313.2 357.3 312.8 356.9 312.4 356.9 312.0 356.5 311.6 356.5 311.2 356.1 310.8 356.1 310.4 355.7 310.0 355.7 309.6 355.3 309.2 355.3 308.8 354.9 308.4 354.9 308.0 354.5 307.6 354.5 307.2 354.4 307.1 354.0 307.1 352.0 307.8 318.8 318.2 286.4 328.5 263.1 336.0 251.7 340.0 229.2 348.9 227.6 349.4 227.2 349.6 227.2 350.4 227.2 350.0 226.8 349.8 226.1 350.0 226.1 353.2 226.5 353.6 226.5 354.8 226.9 355.2 226.9 356.4 227.3 356.8 227.3 358.0 227.7 358.4 227.7 359.6 228.1 360.0 228.1 361.2 228.5 361.6 228.5 362.8 228.9 363.2 229.0 364.4 229.3 364.8 229.4 366.0 229.7 366.4 229.8 367.6 230.2 368.0 230.2 369.2 230.6 369.6 230.6 370.4 231.0 370.8 231.0 372.0 231.4 372.4 231.4 373.2 231.8 373.6 134.4 373.6 134.4 372.4 134.8 372.0 134.8 370.8 135.2 370.4 135.2 369.2 135.6 368.8 135.6 367.6 136.0 367.2 136.0 366.4 136.5 366.0 136.5 365.2 137.6 364.1 142.4 364.4 148.8 364.5 152.8 364.4 157.2 364.1 162.7 363.6 169.2 362.8 174.7 362.0 180.4 360.9 180.4 360.8 181.6 359.6 181.7 359.2 183.6 357.3 184.0 357.3 185.2 356.1 185.6 356.1 186.4 355.3 186.8 355.3 187.6 354.5 188.0 354.5 188.4 354.1 188.8 354.1 189.2 353.7 189.6 353.7 190.4 352.9 190.8 352.9 191.2 352.5 191.6 352.5 192.0 352.1 192.4 352.1 192.8 351.7 193.2 351.7 193.6 351.3 194.0 351.3 194.4 350.9 194.8 350.9 195.2 350.5 195.6 350.5 196.0 350.1 196.4 350.1 197.2 349.3 197.6 349.3 198.0 348.9 198.4 348.9 199.2 348.1 199.6 348.1 200.4 347.3 200.8 347.3 201.6 346.5 202.0 346.5 202.8 345.7 203.2 345.7 204.0 344.9 204.4 344.9 205.2 344.1 205.6 344.1 206.8 342.9 207.2 342.9 208.4 341.7 208.8 341.7 214.1 336.4 214.1 336.0 216.1 334.0 216.1 333.6 217.3 332.4 217.3 332.0 218.5 330.8 218.5 330.4 219.7 329.2 219.7 328.8 220.5 328.0 220.5 327.6 221.7 326.4 221.7 326.0 222.9 324.8 222.9 324.4 224.1 323.2 224.1 322.8 225.3 321.6 225.3 321.2 226.5 320.0 226.5 319.6 228.5 317.6 228.5 317.2 230.5 315.2 230.5 314.8 232.5 312.8 232.5 312.4 234.5 310.4 234.5 310.0 236.5 308.0 236.5 307.6 238.1 306.0 238.1 305.6 239.3 304.4 239.3 304.0 240.5 302.8 240.5 302.4 241.7 301.2 241.7 300.8 242.5 300.0 242.5 299.6 243.3 298.8 243.3 298.4 244.1 297.6 244.1 297.2 244.9 296.4 244.9 296.0 245.7 295.2 245.7 294.8 246.1 294.4 246.1 294.0 246.9 293.2 246.9 292.8 247.3 292.4 247.3 292.0 248.1 291.2 248.1 290.4 247.7 290.0 247.7 287.6 247.3 287.2 247.3 283.6 246.8 283.2 246.8 279.6 246.4 279.2 246.4 274.4 246.0 274.0 246.0 269.6 245.6 269.2 245.6 265.2 245.2 264.8 245.2 260.8 244.8 260.4 244.8 256.4 244.4 256.0 244.4 253.2 244.0 252.8 244.0 248.8 243.6 248.4 243.6 248.1 243.2 248.5 242.8 248.5 241.2 250.1 240.8 250.1 239.2 251.7 238.8 251.7 237.2 253.3 236.8 253.3 235.2 254.9 234.8 254.9 233.2 256.5 232.8 256.5 231.2 258.1 230.8 258.1 229.6 259.3 229.2 259.3 228.0 260.5 227.6 260.5 226.8 261.3 226.4 261.3 225.6 262.1 225.2 262.2 224.8 262.6 224.4 262.6 223.6 263.2 223.2 263.2 219.3 265.6 197.1 279.6 180.7 290.4 166.2 300.4 156.3 307.6 146.9 314.8 138.9 321.2 132.0 327.2 126.9 332.0 123.2 336.0 119.6 340.4 116.9 344.4 115.2 347.6 114.4 350.4 114.2 351.6 114.3 353.6 114.4 355.2 114.8 356.8 114.0 357.6 114.0 358.0 113.6 358.4 113.5 358.8 112.7 359.6 112.7 360.0 111.9 360.8 111.9 361.2 111.1 362.0 111.1 362.4 110.4 363.1 110.3 363.6 109.5 364.4 109.5 364.8 109.1 365.2 109.1 365.6 108.3 366.4 108.3 366.8 107.9 367.2 107.9 367.6 107.1 368.4 107.1 368.8 106.7 369.2 106.7 369.6 105.9 370.4 105.9 370.8 105.5 371.2 105.5 371.6 104.8 372.4 104.7 372.8 104.4 373.2 104.3 373.6 54.0 373.6 54.0 204.0 431.6 204.0 431.6 373.6Z"/><path fill-rule="evenodd" fill="#046de0" d="M431.6 373.6 392.6 373.6 392.6 373.2 392.2 372.8 392.2 372.4 391.8 372.0 391.8 371.6 391.4 371.2 391.4 370.8 391.0 370.4 391.0 370.0 390.6 369.6 390.6 369.2 390.2 368.8 390.2 368.4 389.8 368.0 389.8 367.6 389.4 367.2 389.4 366.8 389.0 366.4 389.0 366.0 388.6 365.6 388.6 365.2 388.2 364.8 388.2 364.4 387.8 364.0 387.8 363.6 387.4 363.2 387.4 362.8 387.0 362.4 387.0 362.0 386.6 361.6 386.6 361.2 386.2 360.8 386.2 360.4 385.8 360.0 385.8 359.6 385.4 359.2 385.4 358.8 385.0 358.4 385.0 358.0 384.6 357.6 384.6 357.2 384.2 356.8 384.2 356.4 383.8 356.0 383.8 355.6 383.4 355.2 383.4 354.8 383.0 354.4 383.0 354.0 382.6 353.6 382.6 353.2 382.2 352.8 382.2 352.4 381.8 352.0 381.8 351.6 381.4 351.2 381.4 350.8 381.0 350.4 381.0 350.0 380.6 349.6 380.6 349.2 380.2 348.8 380.2 348.4 379.8 348.0 379.8 347.6 379.4 347.2 379.4 346.8 379.0 346.4 379.0 346.0 378.6 345.6 378.6 345.2 378.2 344.8 378.2 344.4 377.8 344.0 377.8 343.6 377.4 343.2 377.4 342.8 377.0 342.4 377.0 342.0 376.6 341.6 376.6 341.2 376.2 340.8 376.2 340.4 375.8 340.0 375.8 339.6 375.4 339.2 375.4 338.8 375.0 338.4 375.0 338.0 374.6 337.6 374.6 337.2 374.2 336.8 374.2 336.4 373.8 336.0 373.8 335.6 373.4 335.2 373.4 334.8 373.0 334.4 373.0 334.0 372.6 333.6 372.6 333.2 372.2 332.8 372.2 332.4 371.8 332.0 371.8 331.6 371.4 331.2 371.4 330.8 371.0 330.4 371.0 330.0 370.6 329.6 370.6 329.2 370.2 328.8 370.2 328.4 369.8 328.0 369.8 327.6 369.4 327.2 369.4 326.8 369.0 326.4 369.0 326.0 368.6 325.6 368.6 325.2 368.2 324.8 368.2 324.4 367.8 324.0 367.8 323.6 367.4 323.2 367.4 322.8 367.0 322.4 367.0 322.0 366.6 321.6 366.6 321.2 366.2 320.8 366.2 320.4 365.8 320.0 365.8 319.6 365.4 319.2 365.4 318.8 365.0 318.4 365.0 318.0 364.6 317.6 364.6 317.2 364.2 316.8 364.2 316.4 363.8 316.0 363.8 315.6 363.4 315.2 363.4 314.8 363.0 314.4 363.0 314.0 362.6 313.6 362.6 313.2 362.2 312.8 362.2 312.4 361.8 312.0 361.8 311.6 361.4 311.2 361.4 310.8 361.0 310.4 361.0 310.0 360.6 309.6 360.6 309.2 360.2 308.8 360.2 308.4 359.8 308.0 359.8 307.6 359.4 307.2 359.4 306.8 359.0 306.4 359.0 306.0 358.6 305.6 358.6 305.2 358.4 305.1 358.0 305.1 354.4 306.3 329.2 314.2 274.8 331.6 252.7 338.8 240.3 343.2 216.0 352.9 215.3 353.2 215.2 354.1 215.1 353.6 214.8 353.5 214.4 353.5 214.2 353.6 214.2 354.4 214.0 354.6 213.8 354.4 213.8 354.0 213.2 353.9 213.1 354.0 213.1 354.8 212.8 355.1 212.5 354.8 212.5 354.4 211.9 354.4 211.9 357.6 212.3 358.0 212.3 359.2 212.7 359.6 212.7 360.8 213.1 361.2 213.1 362.4 213.5 362.8 213.5 364.0 213.9 364.4 213.9 365.6 214.3 366.0 214.3 367.2 214.7 367.6 214.8 368.8 215.1 369.2 215.2 370.4 215.5 370.8 215.6 372.0 216.0 372.4 216.0 373.6 155.8 373.6 155.8 366.4 161.9 365.6 166.7 364.8 179.2 362.3 180.5 361.2 180.5 360.8 181.7 359.6 181.7 359.2 183.6 357.3 184.0 357.3 185.2 356.1 185.6 356.1 186.4 355.3 186.8 355.3 187.6 354.5 188.0 354.5 188.4 354.1 188.8 354.1 189.2 353.7 189.6 353.7 190.4 352.9 190.8 352.9 191.2 352.5 191.6 352.5 192.0 352.1 192.4 352.1 192.8 351.7 193.2 351.7 193.6 351.3 194.0 351.3 194.4 350.9 194.8 350.9 195.2 350.5 195.6 350.5 196.0 350.1 196.4 350.1 197.2 349.3 197.6 349.3 198.0 348.9 198.4 348.9 199.2 348.1 199.6 348.1 200.4 347.3 200.8 347.3 201.6 346.5 202.0 346.5 202.8 345.7 203.2 345.7 204.0 344.9 204.4 344.9 205.2 344.1 205.6 344.1 206.8 342.9 207.2 342.9 208.4 341.7 208.8 341.7 214.1 336.4 214.1 336.0 216.1 334.0 216.1 333.6 217.3 332.4 217.3 332.0 218.5 330.8 218.5 330.4 219.7 329.2 219.7 328.8 220.5 328.0 220.5 327.6 221.7 326.4 221.7 326.0 222.9 324.8 222.9 324.4 224.1 323.2 224.1 322.8 225.3 321.6 225.3 321.2 226.5 320.0 226.5 319.6 228.5 317.6 228.5 317.2 230.5 315.2 230.5 314.8 232.5 312.8 232.5 312.4 234.5 310.4 234.5 310.0 236.5 308.0 236.5 307.6 238.1 306.0 238.1 305.6 239.3 304.4 239.3 304.0 240.5 302.8 240.5 302.4 241.7 301.2 241.7 300.8 242.5 300.0 242.5 299.6 243.3 298.8 243.3 298.4 244.1 297.6 244.1 297.2 244.9 296.4 244.9 296.0 245.7 295.2 245.7 294.8 246.1 294.4 246.1 294.0 246.9 293.2 246.9 292.8 247.3 292.4 247.3 292.0 248.1 291.2 248.1 290.4 247.7 290.0 247.7 287.6 247.3 287.2 247.3 283.6 246.9 283.2 246.9 279.6 246.5 279.2 246.4 274.4 246.0 274.0 246.0 269.6 245.6 269.2 245.6 265.2 245.2 264.8 245.2 260.8 244.8 260.4 244.8 256.4 244.4 256.0 244.4 253.2 244.0 252.8 244.0 248.8 243.6 248.4 243.6 245.2 243.2 244.8 243.2 241.6 242.8 241.2 242.8 240.7 242.4 240.7 241.2 241.9 240.8 241.9 239.6 243.1 239.2 243.1 238.0 244.3 237.6 244.3 236.4 245.5 236.0 245.5 234.8 246.7 234.4 246.7 233.2 247.9 232.8 247.9 231.6 249.1 231.2 249.1 230.0 250.3 229.6 250.3 228.4 251.5 228.0 251.5 226.8 252.7 226.4 252.7 225.2 253.9 224.8 253.9 223.6 255.1 223.3 255.2 220.0 258.5 219.6 258.6 212.2 263.2 193.8 274.8 179.7 284.0 166.0 293.2 154.6 301.2 144.1 308.8 135.2 315.6 126.8 322.4 121.2 327.2 116.0 332.0 111.6 336.4 108.4 340.0 106.6 342.4 104.4 345.6 102.9 348.4 102.5 349.2 102.5 349.6 101.2 350.9 101.1 351.2 100.3 352.0 100.3 352.4 99.5 353.2 99.4 353.6 98.2 354.8 98.2 355.2 97.0 356.4 97.0 356.8 95.8 358.0 95.8 358.4 94.6 359.6 94.6 360.0 93.4 361.2 93.4 361.6 92.2 362.8 92.2 363.2 91.0 364.4 91.0 364.8 89.8 366.0 89.8 366.4 88.6 367.6 88.6 368.0 87.4 369.2 87.4 369.6 86.4 370.6 86.2 371.2 85.1 372.4 85.0 372.8 84.3 373.6 54.0 373.6 54.0 204.0 431.6 204.0 431.6 373.6Z"/><path fill-rule="evenodd" fill="#0871de" d="M431.6 373.6 401.2 373.6 400.8 373.2 400.8 372.8 400.4 372.4 400.4 372.0 400.0 371.6 400.0 371.2 399.2 370.4 399.2 370.0 398.8 369.6 398.8 369.2 398.4 368.8 398.4 368.4 397.6 367.6 397.6 367.2 397.2 366.8 397.2 366.4 396.8 366.0 396.8 365.6 396.0 364.8 396.0 364.4 395.6 364.0 395.6 363.6 395.2 363.2 395.2 362.8 394.4 362.0 394.4 361.6 394.0 361.2 394.0 360.8 393.6 360.4 393.6 360.0 392.8 359.2 392.8 358.8 392.4 358.4 392.4 358.0 392.0 357.6 392.0 357.2 391.2 356.4 391.2 356.0 390.8 355.6 390.8 355.2 390.4 354.8 390.4 354.4 389.6 353.6 389.6 353.2 389.2 352.8 389.2 352.4 388.8 352.0 388.8 351.6 388.0 350.8 388.0 350.4 387.6 350.0 387.6 349.6 387.2 349.2 387.2 348.8 386.4 348.0 386.4 347.6 386.0 347.2 386.0 346.8 385.6 346.4 385.6 346.0 384.8 345.2 384.8 344.8 384.4 344.4 384.4 344.0 384.0 343.6 384.0 343.2 383.2 342.4 383.2 342.0 382.8 341.6 382.8 341.2 382.4 340.8 382.4 340.4 381.6 339.6 381.6 339.2 381.2 338.8 381.2 338.4 380.8 338.0 380.8 337.6 380.0 336.8 380.0 336.4 379.6 336.0 379.6 335.6 379.2 335.2 379.2 334.8 378.4 334.0 378.4 333.6 378.0 333.2 378.0 332.8 377.6 332.4 377.6 332.0 376.8 331.2 376.8 330.8 376.4 330.4 376.4 330.0 376.0 329.6 376.0 329.2 375.2 328.4 375.2 328.0 374.8 327.6 374.8 327.2 374.4 326.8 374.4 326.4 373.6 325.6 373.6 325.2 373.2 324.8 373.2 324.4 372.8 324.0 372.8 323.6 372.0 322.8 372.0 322.4 371.6 322.0 371.6 321.6 371.2 321.2 371.2 320.8 370.8 320.4 370.7 320.0 370.4 319.7 370.3 319.2 370.0 318.9 369.9 318.4 369.5 318.0 369.5 317.6 369.1 317.2 369.1 316.8 368.7 316.4 368.7 316.0 368.3 315.6 368.3 315.2 367.9 314.8 367.9 314.4 367.5 314.0 367.5 313.6 367.1 313.2 367.1 312.8 366.7 312.4 366.7 312.0 366.3 311.6 366.3 311.2 365.9 310.8 365.9 310.4 365.5 310.0 365.5 309.6 365.1 309.2 365.1 308.8 364.7 308.4 364.7 308.0 364.3 307.6 364.3 307.2 363.9 306.8 363.9 306.4 363.5 306.0 363.5 305.6 363.1 305.2 363.1 304.8 362.7 304.4 362.7 304.0 362.3 303.6 362.3 303.2 362.0 303.0 345.6 308.2 259.1 336.0 242.1 341.6 234.0 344.4 228.7 346.4 202.8 356.9 202.1 357.2 202.0 358.1 201.9 358.0 201.9 357.6 201.6 357.5 201.2 357.5 201.0 357.6 201.0 358.4 200.8 358.6 200.6 358.4 200.6 358.0 200.4 357.9 199.9 358.0 199.9 358.8 199.6 359.0 199.4 358.8 199.4 358.4 199.2 358.3 198.8 358.3 198.6 358.4 198.7 361.6 199.1 362.0 199.1 363.2 199.5 363.6 199.5 364.8 199.9 365.2 199.9 366.4 200.3 366.8 200.3 368.0 200.7 368.4 200.7 369.6 201.1 370.0 201.1 371.2 201.5 371.6 201.5 372.8 201.9 373.2 201.9 373.6 164.1 373.6 164.1 366.4 165.2 366.2 165.4 366.4 165.4 366.8 166.0 367.2 166.0 367.6 166.0 366.0 178.0 363.5 178.4 363.2 180.5 361.2 180.6 360.8 181.8 359.6 181.8 359.2 183.6 357.4 184.0 357.4 185.2 356.2 185.6 356.2 186.4 355.4 186.8 355.4 187.6 354.6 188.0 354.6 188.4 354.2 188.8 354.2 189.2 353.8 189.6 353.8 190.4 353.0 190.8 353.0 191.2 352.6 191.6 352.6 192.0 352.2 192.4 352.2 192.8 351.8 193.2 351.8 193.6 351.4 194.0 351.4 194.4 351.0 194.8 351.0 195.2 350.6 195.6 350.6 196.0 350.2 196.4 350.2 197.2 349.4 197.6 349.4 198.0 349.0 198.4 349.0 199.2 348.2 199.6 348.2 200.4 347.4 200.8 347.4 201.6 346.6 202.0 346.6 202.8 345.8 203.2 345.8 204.0 345.0 204.4 345.0 205.2 344.2 205.6 344.2 206.8 343.0 207.2 343.0 208.4 341.8 208.8 341.8 214.1 336.4 214.1 336.0 216.1 334.0 216.1 333.6 217.3 332.4 217.3 332.0 218.5 330.8 218.5 330.4 219.7 329.2 219.7 328.8 220.5 328.0 220.5 327.6 221.7 326.4 221.7 326.0 222.9 324.8 222.9 324.4 224.1 323.2 224.1 322.8 225.3 321.6 225.3 321.2 226.5 320.0 226.5 319.6 228.5 317.6 228.5 317.2 230.5 315.2 230.5 314.8 232.5 312.8 232.5 312.4 234.5 310.4 234.5 310.0 236.5 308.0 236.5 307.6 238.1 306.0 238.1 305.6 239.3 304.4 239.3 304.0 240.5 302.8 240.5 302.4 241.7 301.2 241.7 300.8 242.5 300.0 242.5 299.6 243.3 298.8 243.3 298.4 244.1 297.6 244.1 297.2 244.9 296.4 244.9 296.0 245.7 295.2 245.7 294.8 246.1 294.4 246.1 294.0 246.9 293.2 246.9 292.8 247.3 292.4 247.3 292.0 248.1 291.2 248.1 290.4 247.7 290.0 247.7 287.6 247.3 287.2 247.3 283.6 246.9 283.2 246.9 279.6 246.5 279.2 246.5 274.4 246.1 274.0 246.1 269.6 245.7 269.2 245.6 265.2 245.2 264.8 245.2 260.8 244.8 260.4 244.8 256.4 244.4 256.0 244.4 253.2 244.0 252.8 244.0 248.8 243.6 248.4 243.6 245.2 243.2 244.8 243.2 241.6 242.8 241.2 242.8 238.0 242.4 237.6 242.4 233.6 242.0 234.0 241.6 234.0 240.8 234.8 240.4 234.8 239.2 236.0 238.8 236.0 237.6 237.2 237.2 237.2 236.0 238.4 235.6 238.4 234.4 239.6 234.0 239.6 232.8 240.8 232.4 240.8 231.2 242.0 230.8 242.0 229.6 243.2 229.2 243.2 228.0 244.4 227.6 244.4 226.4 245.6 226.0 245.6 224.8 246.8 224.4 246.8 223.2 248.0 222.8 248.0 221.6 249.2 221.2 249.2 216.4 254.0 202.2 262.8 188.4 271.6 174.8 280.4 162.3 288.8 150.0 297.2 139.3 304.8 129.6 312.0 121.3 318.4 115.9 322.8 110.7 327.2 105.9 331.6 101.7 335.6 97.2 340.4 94.8 343.2 94.6 343.6 75.2 363.0 75.2 363.2 72.4 366.0 72.4 366.4 69.6 369.2 69.6 369.6 66.8 372.4 66.8 372.8 66.0 373.6 54.0 373.6 54.0 204.0 431.6 204.0 431.6 373.6Z"/><path fill-rule="evenodd" fill="#0d75dc" d="M431.6 373.6 409.1 373.6 408.7 373.2 408.7 372.8 408.3 372.4 408.3 372.0 407.5 371.2 407.5 370.8 407.1 370.4 407.1 370.0 406.3 369.2 406.3 368.8 405.9 368.4 405.9 368.0 405.1 367.2 405.1 366.8 404.7 366.4 404.7 366.0 403.9 365.2 403.9 364.8 403.5 364.4 403.5 364.0 402.7 363.2 402.7 362.8 402.3 362.4 402.3 362.0 401.5 361.2 401.5 360.8 401.1 360.4 401.1 360.0 400.3 359.2 400.3 358.8 399.9 358.4 399.9 358.0 399.1 357.2 399.1 356.8 398.7 356.4 398.7 356.0 397.9 355.2 397.9 354.8 397.5 354.4 397.5 354.0 396.7 353.2 396.7 352.8 396.3 352.4 396.3 352.0 395.5 351.2 395.5 350.8 395.1 350.4 395.1 350.0 394.3 349.2 394.3 348.8 393.9 348.4 393.9 348.0 393.1 347.2 393.1 346.8 392.7 346.4 392.7 346.0 391.9 345.2 391.9 344.8 391.5 344.4 391.5 344.0 390.7 343.2 390.7 342.8 390.3 342.4 390.3 342.0 389.5 341.2 389.5 340.8 389.1 340.4 389.1 340.0 388.3 339.2 388.3 338.8 387.9 338.4 387.9 338.0 387.1 337.2 387.1 336.8 386.7 336.4 386.7 336.0 385.9 335.2 385.9 334.8 385.5 334.4 385.5 334.0 384.7 333.2 384.7 332.8 384.3 332.4 384.3 332.0 383.5 331.2 383.5 330.8 383.1 330.4 383.1 330.0 382.3 329.2 382.3 328.8 381.9 328.4 381.9 328.0 381.1 327.2 381.1 326.8 380.7 326.4 380.7 326.0 379.9 325.2 379.9 324.8 379.5 324.4 379.5 324.0 378.7 323.2 378.7 322.8 378.3 322.4 378.3 322.0 377.5 321.2 377.5 320.8 377.1 320.4 377.1 320.0 376.3 319.2 376.3 318.8 375.9 318.4 375.9 318.0 375.1 317.2 375.1 316.8 374.7 316.4 374.7 316.0 373.9 315.2 373.9 314.8 373.5 314.4 373.5 314.0 372.7 313.2 372.7 312.8 372.3 312.4 372.3 312.0 371.5 311.2 371.5 310.8 371.1 310.4 371.1 310.0 370.3 309.2 370.3 308.8 369.6 308.0 369.2 307.2 368.8 306.8 368.8 306.4 368.4 306.0 368.4 305.6 368.0 305.2 368.0 304.8 367.6 304.4 367.6 304.0 367.2 303.6 367.2 303.2 366.8 302.8 366.8 302.4 366.4 302.0 366.4 301.6 366.0 301.2 366.0 300.8 364.8 301.0 348.4 306.2 277.0 329.6 244.6 340.0 231.4 344.4 221.2 348.0 213.2 351.2 193.9 359.2 187.6 361.6 187.7 364.8 188.1 365.2 188.1 366.4 188.5 366.8 188.5 368.0 188.9 368.4 188.9 369.6 189.3 370.0 189.3 371.2 189.7 371.6 189.7 372.8 190.1 373.2 190.1 373.6 172.8 373.6 172.8 365.6 174.0 365.4 174.3 365.6 174.3 366.0 174.4 366.1 174.7 366.0 174.7 365.2 176.0 364.9 176.4 365.2 176.4 365.6 176.5 365.6 176.5 364.8 177.2 364.7 177.3 364.4 180.6 361.2 180.6 360.8 181.8 359.6 181.8 359.2 183.6 357.4 184.0 357.4 185.2 356.2 185.6 356.2 186.4 355.4 186.8 355.4 187.6 354.6 188.0 354.6 188.4 354.2 188.8 354.2 189.2 353.8 189.6 353.8 190.4 353.0 190.8 353.0 191.2 352.6 191.6 352.6 192.0 352.2 192.4 352.2 192.8 351.8 193.2 351.8 193.6 351.4 194.0 351.4 194.4 351.0 194.8 351.0 195.2 350.6 195.6 350.6 196.0 350.2 196.4 350.2 197.2 349.4 197.6 349.4 198.0 349.0 198.4 349.0 199.2 348.2 199.6 348.2 200.4 347.4 200.8 347.4 201.6 346.6 202.0 346.6 202.8 345.8 203.2 345.8 204.0 345.0 204.4 345.0 205.2 344.2 205.6 344.2 206.8 343.0 207.2 343.0 208.4 341.8 208.8 341.8 214.2 336.4 214.2 336.0 216.2 334.0 216.2 333.6 217.4 332.4 217.4 332.0 218.6 330.8 218.6 330.4 219.8 329.2 219.7 328.8 220.5 328.0 220.5 327.6 221.7 326.4 221.7 326.0 222.9 324.8 222.9 324.4 224.1 323.2 224.1 322.8 225.3 321.6 225.3 321.2 226.5 320.0 226.5 319.6 228.5 317.6 228.5 317.2 230.5 315.2 230.5 314.8 232.5 312.8 232.5 312.4 234.5 310.4 234.5 310.0 236.5 308.0 236.5 307.6 238.1 306.0 238.1 305.6 239.3 304.4 239.3 304.0 240.5 302.8 240.5 302.4 241.7 301.2 241.7 300.8 242.5 300.0 242.5 299.6 243.3 298.8 243.3 298.4 244.1 297.6 244.1 297.2 244.9 296.4 244.9 296.0 245.7 295.2 245.7 294.8 246.1 294.4 246.1 294.0 246.9 293.2 246.9 292.8 247.3 292.4 247.3 292.0 248.1 291.2 248.1 290.4 247.7 290.0 247.7 287.6 247.3 287.2 247.3 283.6 246.9 283.2 246.9 279.6 246.5 279.2 246.5 274.4 246.1 274.0 246.1 269.6 245.7 269.2 245.7 265.2 245.3 264.8 245.2 260.8 244.8 260.4 244.8 256.4 244.4 256.0 244.4 253.2 244.0 252.8 244.0 248.8 243.6 248.4 243.6 245.2 243.2 244.8 243.2 241.6 242.8 241.2 242.8 238.0 242.4 237.6 242.4 233.6 242.0 233.2 242.0 229.4 241.6 229.8 241.2 229.8 240.0 231.0 239.6 231.0 238.8 231.8 238.4 231.8 237.6 232.6 236.8 233.0 235.6 234.0 234.8 234.4 234.0 235.2 233.6 235.2 232.8 236.0 232.4 236.0 231.6 236.8 231.2 236.8 230.4 237.6 230.0 237.6 229.2 238.4 228.8 238.4 228.0 239.2 227.6 239.2 226.8 240.0 226.4 240.0 225.6 240.8 225.2 240.8 224.4 241.6 224.0 241.6 223.2 242.4 222.8 242.4 222.0 243.2 221.6 243.2 220.8 244.0 220.4 244.0 219.6 244.8 219.2 244.8 218.4 245.6 218.0 245.6 217.2 246.4 216.8 246.4 216.0 247.2 215.6 247.2 213.2 249.5 199.5 258.0 183.1 268.4 168.4 278.0 154.6 287.2 143.5 294.8 133.3 302.0 124.0 308.8 115.5 315.2 108.8 320.4 102.9 325.2 98.2 329.2 93.9 333.2 89.0 338.0 88.9 338.4 54.0 373.3 54.0 204.0 431.6 204.0 431.6 373.6Z"/><path fill-rule="evenodd" fill="#1079da" d="M431.6 373.6 426.1 373.6 425.3 372.8 425.3 372.4 424.1 371.2 424.1 370.8 422.9 369.6 422.9 369.2 421.7 368.0 421.7 367.6 420.5 366.4 420.5 366.0 419.3 364.8 419.3 364.4 418.1 363.2 418.1 362.8 416.9 361.6 416.9 361.2 415.7 360.0 415.7 359.6 414.5 358.4 414.5 358.0 413.3 356.8 413.3 356.4 412.1 355.2 412.1 354.8 410.9 353.6 410.9 353.2 409.7 352.0 409.7 351.6 408.5 350.4 408.5 350.0 407.3 348.8 407.3 348.4 406.1 347.2 406.1 346.8 404.9 345.6 404.9 345.2 403.7 344.0 403.7 343.6 402.5 342.4 402.5 342.0 401.3 340.8 401.3 340.4 400.1 339.2 400.1 338.8 398.9 337.6 398.9 337.2 397.7 336.0 397.7 335.6 396.5 334.4 396.5 334.0 395.3 332.8 395.3 332.4 394.1 331.2 394.1 330.8 392.9 329.6 392.9 329.2 391.7 328.0 391.7 327.6 390.5 326.4 390.5 326.0 389.3 324.8 389.3 324.4 388.1 323.2 388.1 322.8 386.9 321.6 386.9 321.2 385.7 320.0 385.7 319.6 384.5 318.4 384.5 318.0 383.3 316.8 383.3 316.4 382.1 315.2 382.1 314.8 380.9 313.6 380.9 313.2 379.7 312.0 379.7 311.6 378.5 310.4 378.5 310.0 377.3 308.8 377.3 308.4 376.1 307.2 376.1 306.8 374.9 305.6 374.9 305.2 373.7 304.0 373.7 303.6 372.5 302.4 372.5 302.0 371.7 301.2 371.6 300.9 369.2 298.5 345.2 306.1 295.3 322.8 263.6 333.2 233.8 342.8 220.6 347.2 211.6 350.4 206.4 352.4 183.5 362.0 178.0 364.2 178.0 364.0 180.7 361.2 180.7 360.8 181.9 359.6 181.9 359.2 183.6 357.5 184.0 357.5 185.2 356.3 185.6 356.3 186.4 355.5 186.8 355.5 187.6 354.7 188.0 354.7 188.4 354.3 188.8 354.3 189.2 353.9 189.6 353.9 190.4 353.0 190.8 353.0 191.2 352.6 191.6 352.6 192.0 352.2 192.4 352.2 192.8 351.8 193.2 351.8 193.6 351.4 194.0 351.4 194.4 351.0 194.8 351.0 195.2 350.6 195.6 350.6 196.0 350.2 196.4 350.2 197.2 349.4 197.6 349.4 198.0 349.0 198.4 349.0 199.2 348.2 199.6 348.2 200.4 347.4 200.8 347.4 201.6 346.6 202.0 346.6 202.8 345.8 203.2 345.8 204.0 345.0 204.4 345.0 205.2 344.2 205.6 344.2 206.8 343.0 207.2 343.0 208.4 341.8 208.8 341.8 214.2 336.4 214.2 336.0 216.2 334.0 216.2 333.6 217.4 332.4 217.4 332.0 218.6 330.8 218.6 330.4 219.8 329.2 219.8 328.8 220.6 328.0 220.6 327.6 221.8 326.4 221.8 326.0 223.0 324.8 223.0 324.4 224.2 323.2 224.2 322.8 225.4 321.6 225.4 321.2 226.5 320.0 226.5 319.6 228.5 317.6 228.5 317.2 230.5 315.2 230.5 314.8 232.5 312.8 232.5 312.4 234.5 310.4 234.5 310.0 236.5 308.0 236.5 307.6 238.1 306.0 238.1 305.6 239.3 304.4 239.3 304.0 240.5 302.8 240.5 302.4 241.7 301.2 241.7 300.8 242.5 300.0 242.5 299.6 243.3 298.8 243.3 298.4 244.1 297.6 244.1 297.2 244.9 296.4 244.9 296.0 245.7 295.2 245.7 294.8 246.1 294.4 246.1 294.0 246.9 293.2 246.9 292.8 247.3 292.4 247.3 292.0 248.1 291.2 248.1 290.4 247.7 290.0 247.7 287.6 247.3 287.2 247.3 283.6 246.9 283.2 246.9 279.6 246.5 279.2 246.5 274.4 246.1 274.0 246.1 269.6 245.7 269.2 245.7 265.2 245.3 264.8 245.3 260.8 244.9 260.4 244.8 256.4 244.4 256.0 244.4 253.2 244.0 252.8 244.0 248.8 243.6 248.4 243.6 245.2 243.2 244.8 243.2 241.6 242.8 241.2 242.8 238.0 242.4 237.6 242.4 233.6 242.0 233.2 242.0 228.0 241.6 227.6 241.6 223.8 240.8 224.6 240.4 224.6 239.6 225.4 239.2 225.4 238.4 226.2 238.0 226.2 237.2 227.0 236.8 227.0 236.0 227.8 235.6 227.8 234.8 228.6 234.4 228.6 233.6 229.4 233.2 229.4 232.4 230.2 232.0 230.2 231.2 231.0 230.8 231.0 230.0 231.8 229.6 231.8 228.8 232.6 228.4 232.6 227.6 233.4 227.2 233.4 226.4 234.2 226.0 234.2 225.2 235.0 224.8 235.0 224.0 235.8 223.6 235.8 222.8 236.6 222.4 236.6 221.6 237.4 221.2 237.4 220.4 238.2 220.0 238.2 219.2 239.0 218.8 239.0 218.0 239.8 217.6 239.8 216.8 240.6 216.4 240.6 215.6 241.4 215.2 241.4 214.4 242.2 214.0 242.2 213.2 243.0 212.8 243.0 212.0 243.8 211.6 244.0 211.2 244.4 210.8 244.4 210.0 245.2 181.2 263.2 167.6 272.0 154.3 280.8 133.2 295.2 113.7 309.2 104.7 316.0 97.1 322.0 90.2 327.6 84.2 332.8 54.0 363.1 54.0 204.0 431.6 204.0 431.6 373.6Z"/><path fill-rule="evenodd" fill="#127dd8" d="M431.6 363.1 429.7 361.2 429.7 360.8 427.3 358.4 427.3 358.0 424.9 355.6 424.9 355.2 422.5 352.8 422.5 352.4 420.1 350.0 420.1 349.6 417.7 347.2 417.7 346.8 415.3 344.4 415.3 344.0 412.9 341.6 412.9 341.2 410.5 338.8 410.5 338.4 408.1 336.0 408.1 335.6 405.7 333.2 405.7 332.8 403.3 330.4 403.3 330.0 400.9 327.6 400.9 327.2 398.5 324.8 398.5 324.4 396.1 322.0 396.1 321.6 393.7 319.2 393.7 318.8 391.3 316.4 391.3 316.0 388.9 313.6 388.9 313.2 386.5 310.8 386.5 310.4 384.5 308.4 384.4 308.1 372.4 296.1 338.8 307.0 302.0 319.6 281.7 326.4 253.9 335.6 226.5 344.4 213.2 348.8 198.7 354.0 191.8 356.8 180.8 361.5 180.8 360.8 182.0 359.6 181.9 359.2 183.6 357.5 184.0 357.5 185.2 356.3 185.6 356.3 186.4 355.5 186.8 355.5 187.6 354.7 188.0 354.7 188.4 354.3 188.8 354.3 189.2 353.9 189.6 353.9 190.4 353.1 190.8 353.1 191.2 352.7 191.6 352.7 192.0 352.3 192.4 352.3 192.8 351.9 193.2 351.9 193.6 351.5 194.0 351.5 194.4 351.1 194.8 351.1 195.2 350.7 195.6 350.7 196.0 350.3 196.4 350.3 197.2 349.5 197.6 349.5 198.0 349.0 198.4 349.1 199.2 348.2 199.6 348.2 200.4 347.4 200.8 347.4 201.6 346.6 202.0 346.6 202.8 345.8 203.2 345.8 204.0 345.0 204.4 345.0 205.2 344.2 205.6 344.2 206.8 343.0 207.2 343.0 208.4 341.8 208.8 341.8 214.2 336.4 214.2 336.0 216.2 334.0 216.2 333.6 217.4 332.4 217.4 332.0 218.6 330.8 218.6 330.4 219.8 329.2 219.8 328.8 220.6 328.0 220.6 327.6 221.8 326.4 221.8 326.0 223.0 324.8 223.0 324.4 224.2 323.2 224.2 322.8 225.4 321.6 225.4 321.2 226.6 320.0 226.6 319.6 228.6 317.6 228.6 317.2 230.6 315.2 230.6 314.8 232.5 312.8 232.5 312.4 234.5 310.4 234.5 310.0 236.5 308.0 236.5 307.6 238.1 306.0 238.1 305.6 239.3 304.4 239.3 304.0 240.5 302.8 240.5 302.4 241.7 301.2 241.7 300.8 242.5 300.0 242.5 299.6 243.3 298.8 243.3 298.4 244.1 297.6 244.1 297.2 244.9 296.4 244.9 296.0 245.7 295.2 245.7 294.8 246.1 294.4 246.1 294.0 246.9 293.2 246.9 292.8 247.3 292.4 247.3 292.0 248.1 291.2 248.1 290.4 247.7 290.0 247.7 287.6 247.3 287.2 247.3 283.6 246.9 283.2 246.9 279.6 246.5 279.2 246.5 274.4 246.1 274.0 246.1 269.6 245.7 269.2 245.7 265.2 245.3 264.8 245.3 260.8 244.9 260.4 244.9 256.4 244.5 256.0 244.5 253.2 244.1 252.8 244.0 248.8 243.6 248.4 243.6 245.2 243.2 244.8 243.2 241.6 242.8 241.2 242.8 238.0 242.4 237.6 242.4 233.6 242.0 233.2 242.0 228.0 241.6 227.6 241.6 220.8 241.2 220.4 241.2 217.6 240.8 217.6 240.0 218.4 239.6 218.4 238.8 219.2 238.4 219.2 237.6 220.0 237.2 220.0 236.4 220.8 236.0 220.8 235.2 221.6 234.8 221.6 234.0 222.4 233.6 222.4 232.8 223.2 232.4 223.2 231.6 224.0 231.2 224.0 230.4 224.8 230.0 224.8 229.2 225.6 228.8 225.6 228.0 226.4 227.6 226.4 226.8 227.2 226.4 227.2 225.6 228.0 225.2 228.0 224.4 228.8 224.0 228.8 223.2 229.6 222.8 229.6 222.0 230.4 221.6 230.4 220.8 231.2 220.4 231.2 219.6 232.0 219.2 232.0 218.4 232.8 218.0 232.8 217.2 233.6 216.8 233.6 216.0 234.4 215.6 234.4 214.8 235.2 214.4 235.2 213.6 236.0 213.2 236.0 212.4 236.8 212.0 236.8 211.2 237.6 210.8 237.6 210.0 238.4 209.6 238.4 207.2 240.7 183.9 255.2 160.3 270.4 139.8 284.0 121.2 296.8 105.2 308.4 90.1 320.0 80.0 328.2 77.5 330.8 77.2 330.9 76.4 331.7 76.0 331.7 74.8 332.9 74.4 332.9 73.2 334.1 72.8 334.1 71.2 335.7 70.8 335.8 69.2 337.4 68.8 337.4 66.8 339.4 66.4 339.4 64.4 341.4 64.0 341.4 62.0 343.4 61.6 343.4 59.6 345.4 59.2 345.4 57.2 347.4 56.8 347.4 54.8 349.4 54.4 349.4 54.0 349.8 54.0 204.0 431.6 204.0 431.6 363.1ZM180.4 361.6 180.5 361.6 180.4 361.6Z"/><path fill-rule="evenodd" fill="#1481d6" d="M182.8 358.9 182.4 359.0 182.4 358.8 183.6 357.6 184.0 357.6 185.2 356.4 185.6 356.4 186.4 355.5 186.8 355.5 187.6 354.7 188.0 354.7 188.4 354.3 188.8 354.3 189.2 353.9 189.6 353.9 190.4 353.1 190.8 353.1 191.2 352.7 191.6 352.7 192.0 352.3 192.4 352.3 192.8 351.9 193.2 351.9 193.6 351.5 194.0 351.5 194.4 351.1 194.8 351.1 195.2 350.7 195.6 350.7 196.0 350.3 196.4 350.3 197.2 349.5 197.6 349.5 198.0 349.1 198.4 349.1 199.2 348.3 199.6 348.3 200.4 347.5 200.8 347.5 201.6 346.7 202.0 346.7 202.8 345.9 203.2 345.9 204.0 345.1 204.4 345.1 205.2 344.2 205.6 344.3 206.8 343.0 207.2 343.0 208.4 341.8 208.8 341.8 214.2 336.4 214.2 336.0 216.2 334.0 216.2 333.6 217.4 332.4 217.4 332.0 218.6 330.8 218.6 330.4 219.8 329.2 219.8 328.8 220.6 328.0 220.6 327.6 221.8 326.4 221.8 326.0 223.0 324.8 223.0 324.4 224.2 323.2 224.2 322.8 225.4 321.6 225.4 321.2 226.6 320.0 226.6 319.6 228.6 317.6 228.6 317.2 230.6 315.2 230.6 314.8 232.6 312.8 232.6 312.4 234.6 310.4 234.6 310.0 236.6 308.0 236.6 307.6 238.1 306.0 238.1 305.6 239.3 304.4 239.3 304.0 240.5 302.8 240.5 302.4 241.7 301.2 241.7 300.8 242.5 300.0 242.5 299.6 243.3 298.8 243.3 298.4 244.1 297.6 244.1 297.2 244.9 296.4 244.9 296.0 245.7 295.2 245.7 294.8 246.1 294.4 246.1 294.0 246.9 293.2 246.9 292.8 247.3 292.4 247.3 292.0 248.1 291.2 248.1 290.4 247.7 290.0 247.7 287.6 247.3 287.2 247.3 283.6 246.9 283.2 246.9 279.6 246.5 279.2 246.5 274.4 246.1 274.0 246.1 269.6 245.7 269.2 245.7 265.2 245.3 264.8 245.3 260.8 244.9 260.4 244.9 256.4 244.5 256.0 244.5 253.2 244.1 252.8 244.1 248.8 243.7 248.4 243.7 245.2 243.2 244.8 243.2 241.6 242.8 241.2 242.8 238.0 242.4 237.6 242.4 233.6 242.0 233.2 242.0 228.0 241.6 227.6 241.6 220.8 241.2 220.4 241.2 212.1 240.8 212.1 240.0 212.9 239.6 212.9 238.8 213.7 238.4 213.7 237.6 214.5 237.2 214.5 236.4 215.3 236.0 215.3 235.2 216.1 234.8 216.1 234.0 216.9 233.6 216.9 232.8 217.7 232.4 217.7 231.6 218.5 231.2 218.5 230.4 219.3 230.0 219.3 229.2 220.1 228.8 220.1 228.0 220.9 227.6 220.9 226.8 221.7 226.4 221.7 225.6 222.5 225.2 222.5 224.4 223.3 224.0 223.3 223.2 224.1 222.8 224.1 222.0 224.9 221.6 224.9 220.8 225.7 220.4 225.7 219.6 226.5 219.2 226.5 218.4 227.3 218.0 227.3 217.2 228.1 216.8 228.1 216.0 228.9 215.6 228.9 214.8 229.7 214.4 229.7 213.6 230.5 213.2 230.5 212.4 231.3 212.0 231.3 211.2 232.1 210.8 232.1 210.0 232.9 209.6 232.9 208.8 233.7 208.4 233.7 207.6 234.5 207.2 234.5 206.4 235.3 206.0 235.4 205.6 235.8 205.2 235.8 204.4 236.5 204.0 236.5 187.6 246.8 170.5 257.6 154.9 267.6 136.2 280.0 119.1 291.6 101.7 304.0 86.2 315.6 76.1 323.6 76.1 324.0 72.8 327.2 72.4 327.2 71.2 328.4 70.8 328.5 69.6 329.7 69.2 329.7 67.6 331.3 67.2 331.3 65.6 332.9 65.2 332.9 63.6 334.5 63.2 334.5 61.6 336.1 61.2 336.1 59.6 337.7 59.2 337.7 57.6 339.3 57.2 339.3 55.6 340.9 55.2 340.9 54.0 342.1 54.0 204.0 431.6 204.0 431.6 354.3 429.3 352.0 429.3 351.6 426.1 348.4 426.1 348.0 422.9 344.8 422.9 344.4 419.7 341.2 419.7 340.8 416.5 337.6 416.5 337.2 413.3 334.0 413.3 333.6 410.1 330.4 410.1 330.0 406.9 326.8 406.9 326.4 403.7 323.2 403.7 322.8 400.5 319.6 400.5 319.2 397.7 316.4 397.6 316.0 375.2 293.6 332.8 307.8 294.1 321.2 275.3 327.6 242.8 338.4 204.6 350.8 191.0 355.6 182.8 358.9Z"/><path fill-rule="evenodd" fill="#1485d4" d="M54.0 332.0 54.0 204.0 166.3 204.0 166.3 204.4 166.7 204.8 166.7 205.2 167.1 205.6 167.1 206.0 167.5 206.4 167.5 206.8 167.9 207.2 167.9 207.6 168.3 208.0 168.3 208.4 168.7 208.8 168.7 209.2 169.1 209.6 169.1 210.0 169.5 210.4 169.5 210.8 169.9 211.2 169.9 211.6 170.3 212.0 170.3 212.4 170.7 212.8 170.7 213.2 171.1 213.6 171.1 214.0 171.5 214.4 171.5 214.8 171.9 215.2 171.9 215.6 172.3 216.0 172.3 216.4 172.7 216.8 172.7 217.2 173.1 217.6 173.1 218.0 173.5 218.4 173.5 218.8 173.9 219.2 173.9 219.6 174.3 220.0 174.3 220.4 174.7 220.8 174.7 221.2 175.1 221.6 175.1 222.0 175.5 222.4 175.5 222.8 175.9 223.2 175.9 223.6 176.3 224.0 176.3 224.4 176.7 224.8 176.7 225.2 177.1 225.6 177.1 226.0 177.5 226.4 177.5 226.8 177.9 227.2 177.9 227.6 178.3 228.0 178.3 228.4 178.7 228.8 178.7 229.2 179.1 229.6 179.1 230.0 179.5 230.4 179.5 230.8 179.9 231.2 179.9 231.6 180.3 232.0 180.3 232.4 180.7 232.8 180.7 233.2 181.1 233.6 181.1 234.0 181.5 234.4 181.5 234.8 181.9 235.2 181.9 235.6 182.3 236.0 182.3 236.4 182.7 236.8 182.7 237.2 183.1 237.6 183.1 238.0 183.5 238.4 183.5 238.8 183.9 239.2 183.9 239.6 184.3 240.0 184.3 240.4 184.7 240.8 184.7 241.2 185.1 241.6 184.9 242.4 184.6 242.4 184.4 242.2 184.3 242.4 184.3 242.8 183.6 243.2 183.2 242.8 183.0 243.2 183.0 243.6 164.7 255.2 147.3 266.4 131.5 276.8 116.6 286.8 104.0 295.6 92.2 304.0 82.0 311.6 72.4 319.1 71.6 319.1 71.2 319.5 70.8 319.6 70.4 320.0 70.0 320.0 69.2 320.8 68.8 320.8 68.0 321.6 67.6 321.6 66.4 322.8 66.0 322.8 64.8 324.0 64.4 324.0 63.2 325.2 62.8 325.2 61.6 326.4 61.2 326.4 60.0 327.6 59.6 327.6 58.4 328.8 58.0 328.8 56.8 330.0 56.4 330.0 55.2 331.2 54.8 331.2 54.0 332.0ZM186.4 356.1 186.0 356.2 186.0 356.0 186.4 355.6 186.8 355.6 187.6 354.8 188.0 354.8 188.4 354.4 188.8 354.4 189.2 354.0 189.6 354.0 190.4 353.1 190.8 353.1 191.2 352.7 191.6 352.7 192.0 352.3 192.4 352.3 192.8 351.9 193.2 351.9 193.6 351.5 194.0 351.5 194.4 351.1 194.8 351.1 195.2 350.7 195.6 350.7 196.0 350.3 196.4 350.3 197.2 349.5 197.6 349.5 198.0 349.1 198.4 349.1 199.2 348.3 199.6 348.3 200.4 347.5 200.8 347.5 201.6 346.7 202.0 346.7 202.8 345.9 203.2 345.9 204.0 345.1 204.4 345.1 205.2 344.3 205.6 344.3 206.8 343.1 207.2 343.1 208.4 341.9 208.8 341.9 214.2 336.4 214.2 336.0 216.2 334.0 216.2 333.6 217.4 332.4 217.4 332.0 218.6 330.8 218.6 330.4 219.8 329.2 219.8 328.8 220.6 328.0 220.6 327.6 221.8 326.4 221.8 326.0 223.0 324.8 223.0 324.4 224.2 323.2 224.2 322.8 225.4 321.6 225.4 321.2 226.6 320.0 226.6 319.6 228.6 317.6 228.6 317.2 230.6 315.2 230.6 314.8 232.6 312.8 232.6 312.4 234.6 310.4 234.6 310.0 236.6 308.0 236.6 307.6 238.2 306.0 238.2 305.6 239.4 304.4 239.4 304.0 240.6 302.8 240.6 302.4 241.8 301.2 241.8 300.8 242.5 300.0 242.5 299.6 243.3 298.8 243.3 298.4 244.1 297.6 244.1 297.2 244.9 296.4 244.9 296.0 245.7 295.2 245.7 294.8 246.1 294.4 246.1 294.0 246.9 293.2 246.9 292.8 247.3 292.4 247.3 292.0 248.1 291.2 248.1 290.4 247.7 290.0 247.7 287.6 247.3 287.2 247.3 283.6 246.9 283.2 246.9 279.6 246.5 279.2 246.5 274.4 246.1 274.0 246.1 269.6 245.7 269.2 245.7 265.2 245.3 264.8 245.3 260.8 244.9 260.4 244.9 256.4 244.5 256.0 244.5 253.2 244.1 252.8 244.1 248.8 243.7 248.4 243.7 245.2 243.3 244.8 243.3 241.6 242.9 241.2 242.9 238.0 242.4 237.6 242.4 233.6 242.0 233.2 242.0 228.0 241.6 227.6 241.6 220.8 241.2 220.4 241.2 204.0 431.6 204.0 431.6 354.0 429.6 352.0 429.6 351.6 426.4 348.4 426.4 348.0 423.2 344.8 423.2 344.4 420.0 341.2 420.0 340.8 416.8 337.6 416.8 337.2 413.6 334.0 413.6 333.6 410.4 330.4 410.4 330.0 407.2 326.8 407.2 326.4 404.0 323.2 404.0 322.8 400.8 319.6 400.8 319.2 398.0 316.4 398.0 316.0 395.2 313.2 395.2 312.8 392.8 310.4 392.7 310.0 390.3 307.6 390.3 307.2 388.3 305.2 388.3 304.8 386.3 302.8 386.3 302.4 384.7 300.8 384.7 300.4 383.1 298.8 383.1 298.4 381.9 297.2 381.9 296.8 380.7 295.6 380.7 295.2 379.9 294.4 379.8 294.0 379.0 293.2 379.0 292.8 377.6 291.3 327.6 308.2 285.0 323.2 267.6 329.2 231.7 341.2 199.5 351.6 186.4 356.1ZM185.2 356.5 185.2 356.4 185.6 356.4 185.2 356.5Z"/><path fill-rule="evenodd" fill="#1389d3" d="M54.0 326.1 54.0 204.0 117.3 204.0 117.7 204.4 117.7 204.8 118.1 205.2 118.1 205.6 118.5 206.0 118.5 206.4 118.9 206.8 118.9 207.2 119.3 207.6 119.3 208.0 119.7 208.4 119.7 208.8 120.1 209.2 120.1 209.6 120.5 210.0 120.5 210.4 120.9 210.8 120.9 211.2 121.3 211.6 121.3 212.0 121.7 212.4 121.7 212.8 122.1 213.2 122.1 213.6 122.5 214.0 122.5 214.4 122.9 214.8 122.9 215.2 123.3 215.6 123.3 216.0 123.7 216.4 123.7 216.8 124.1 217.2 124.1 217.6 124.5 218.0 124.5 218.4 124.9 218.8 124.9 219.2 125.3 219.6 125.3 220.0 125.7 220.4 125.7 220.8 126.1 221.2 126.1 221.6 126.5 222.0 126.5 222.4 126.9 222.8 126.9 223.2 127.3 223.6 127.3 224.0 127.7 224.4 127.7 224.8 128.1 225.2 128.1 225.6 128.5 226.0 128.5 226.4 128.9 226.8 128.9 227.2 129.3 227.6 129.3 228.0 129.7 228.4 129.7 228.8 130.1 229.2 130.1 229.6 130.5 230.0 130.5 230.4 130.9 230.8 130.9 231.2 131.3 231.6 131.3 232.0 131.7 232.4 131.7 232.8 132.1 233.2 132.1 233.6 132.5 234.0 132.5 234.4 132.9 234.8 132.9 235.2 133.3 235.6 133.3 236.0 133.7 236.4 133.7 236.8 134.1 237.2 134.1 237.6 134.5 238.0 134.5 238.4 134.9 238.8 134.9 239.2 135.3 239.6 135.3 240.0 135.7 240.4 135.7 240.8 136.1 241.2 136.1 241.6 136.5 242.0 136.5 242.4 136.9 242.8 136.9 243.2 137.3 243.6 137.3 244.0 137.7 244.4 137.7 244.8 138.1 245.2 138.1 245.6 138.5 246.0 138.5 246.4 138.9 246.8 138.9 247.2 139.3 247.6 139.3 248.0 139.7 248.4 139.7 248.8 140.1 249.2 140.1 249.6 140.5 250.0 140.5 250.4 140.9 250.8 140.9 251.2 141.3 251.6 141.3 252.0 141.7 252.4 141.7 252.8 142.1 253.2 142.1 253.6 142.5 254.0 142.5 254.4 142.9 254.8 142.9 255.2 143.3 255.6 143.3 256.0 143.7 256.4 143.7 256.8 144.1 257.2 144.1 257.6 144.5 258.0 144.5 258.4 144.9 258.8 144.9 259.2 145.3 259.6 145.3 261.6 145.1 261.6 144.0 260.5 143.9 261.2 144.0 261.6 144.0 262.4 116.1 280.8 103.8 289.2 92.9 296.8 82.8 304.0 73.7 310.8 69.0 314.4 68.9 314.8 67.6 316.0 67.2 316.0 66.4 316.8 66.0 316.9 65.2 317.7 64.8 317.7 63.6 318.9 63.2 318.9 62.0 320.1 61.6 320.1 60.4 321.3 60.0 321.3 58.8 322.5 58.4 322.5 57.2 323.7 56.8 323.7 55.6 324.9 55.2 324.9 54.0 326.1ZM190.4 353.7 190.0 353.8 190.0 353.6 190.4 353.2 190.8 353.2 191.2 352.8 191.6 352.8 192.0 352.4 192.4 352.4 192.8 352.0 193.2 352.0 193.6 351.6 194.0 351.6 194.4 351.2 194.8 351.2 195.2 350.7 195.6 350.8 196.0 350.3 196.4 350.3 197.2 349.5 197.6 349.5 198.0 349.1 198.4 349.1 199.2 348.3 199.6 348.3 200.4 347.5 200.8 347.5 201.6 346.7 202.0 346.7 202.8 345.9 203.2 345.9 204.0 345.1 204.4 345.1 205.2 344.3 205.6 344.3 206.8 343.1 207.2 343.1 208.4 341.9 208.8 341.9 214.3 336.4 214.3 336.0 216.2 334.0 216.2 333.6 217.4 332.4 217.4 332.0 218.6 330.8 218.6 330.4 219.8 329.2 219.8 328.8 220.6 328.0 220.6 327.6 221.8 326.4 221.8 326.0 223.0 324.8 223.0 324.4 224.2 323.2 224.2 322.8 225.4 321.6 225.4 321.2 226.6 320.0 226.6 319.6 228.6 317.6 228.6 317.2 230.6 315.2 230.6 314.8 232.6 312.8 232.6 312.4 234.6 310.4 234.6 310.0 236.6 308.0 236.6 307.6 238.2 306.0 238.2 305.6 239.4 304.4 239.4 304.0 240.6 302.8 240.6 302.4 241.8 301.2 241.8 300.8 242.6 300.0 242.6 299.6 243.4 298.8 243.4 298.4 244.2 297.6 244.2 297.2 245.0 296.4 245.0 296.0 245.8 295.2 245.8 294.8 246.1 294.4 246.1 294.0 246.9 293.2 246.9 292.8 247.3 292.4 247.3 292.0 248.1 291.2 248.1 290.4 247.7 290.0 247.7 287.6 247.3 287.2 247.3 283.6 246.9 283.2 246.9 279.6 246.5 279.2 246.5 274.4 246.1 274.0 246.1 269.6 245.7 269.2 245.7 265.2 245.3 264.8 245.3 260.8 244.9 260.4 244.9 256.4 244.5 256.0 244.5 253.2 244.1 252.8 244.1 248.8 243.7 248.4 243.7 245.2 243.3 244.8 243.3 241.6 242.9 241.2 242.9 238.0 242.5 237.6 242.5 233.6 242.0 233.2 242.0 228.0 241.6 227.6 241.6 220.8 241.2 220.4 241.2 204.0 431.6 204.0 431.6 339.5 380.8 288.7 380.4 288.7 323.2 308.2 275.9 325.2 257.4 331.6 221.8 343.6 190.4 353.7ZM189.2 354.1 189.2 354.0 189.5 354.0 189.2 354.1Z"/><path fill-rule="evenodd" fill="#108ed2" d="M54.0 318.6 54.0 204.0 79.8 204.0 80.2 204.4 80.2 204.8 80.6 205.2 80.6 205.6 81.0 206.0 81.0 206.4 81.4 206.8 81.4 207.2 81.8 207.6 81.8 208.0 82.2 208.4 82.2 209.2 82.6 209.6 82.6 210.0 83.0 210.4 83.0 210.8 83.4 211.2 83.4 211.6 83.8 212.0 83.8 212.4 84.2 212.8 84.2 213.2 84.6 213.6 84.6 214.4 85.0 214.8 85.0 215.2 85.4 215.6 85.4 216.0 85.8 216.4 85.8 216.8 86.2 217.2 86.2 217.6 86.6 218.0 86.6 218.4 87.0 218.8 87.1 219.6 87.4 220.0 87.5 220.4 87.8 220.8 87.9 221.2 88.2 221.6 88.3 222.0 88.6 222.4 88.7 223.2 89.1 223.6 89.1 224.0 89.5 224.4 89.5 224.8 89.9 225.2 89.9 225.6 90.3 226.0 90.3 226.8 90.7 227.2 90.7 227.6 91.1 228.0 91.1 228.4 91.5 228.8 91.5 229.2 91.9 229.6 91.9 230.4 92.3 230.8 92.3 231.2 92.7 231.6 92.7 232.0 93.1 232.4 93.1 232.8 93.5 233.2 93.5 234.0 93.9 234.4 93.9 234.8 94.3 235.2 94.3 235.6 94.7 236.0 94.7 236.4 95.1 236.8 95.1 237.6 95.5 238.0 95.5 238.4 95.9 238.8 95.9 239.2 96.3 239.6 96.3 240.0 96.7 240.4 96.7 241.2 97.1 241.6 97.1 242.0 97.5 242.4 97.5 242.8 97.9 243.2 97.9 243.6 98.3 244.0 98.3 244.8 98.7 245.2 98.7 245.6 99.1 246.0 99.1 246.4 99.5 246.8 99.5 247.2 99.9 247.6 99.9 248.4 100.3 248.8 100.3 249.2 100.7 249.6 100.7 250.0 101.1 250.4 101.1 250.8 101.5 251.2 101.5 252.0 101.9 252.4 101.9 252.8 102.3 253.2 102.3 253.6 102.7 254.0 102.7 254.4 103.1 254.8 103.2 255.6 103.9 256.8 104.0 257.6 104.4 258.0 104.4 258.4 104.8 258.8 104.8 259.6 105.2 260.0 105.2 260.4 105.6 260.8 105.6 261.6 106.0 262.0 106.0 262.4 106.4 262.8 106.4 263.6 106.8 264.0 106.8 264.4 107.2 264.8 107.2 265.6 107.6 266.0 107.6 266.4 108.0 266.8 108.0 267.6 108.4 268.0 108.4 268.4 108.8 268.8 108.8 269.6 109.2 270.0 109.2 270.4 109.6 270.8 109.6 271.3 109.9 271.6 110.0 272.1 110.3 272.4 110.3 272.8 110.7 273.2 110.7 273.6 111.1 274.0 111.1 274.4 111.5 274.8 111.5 275.2 111.9 275.6 111.9 276.0 112.3 276.4 112.2 277.2 112.0 277.3 111.6 277.1 111.6 277.6 95.0 288.8 80.7 298.8 65.9 309.6 64.7 310.8 64.4 310.9 64.0 311.3 63.6 311.3 62.8 312.1 62.4 312.2 61.6 313.0 61.2 313.0 60.0 314.2 59.6 314.2 58.4 315.4 58.0 315.4 56.8 316.6 56.4 316.6 55.2 317.8 54.8 317.8 54.0 318.6ZM195.6 351.2 194.4 351.6 194.4 351.2 194.8 351.2 195.2 350.8 195.6 350.8 196.0 350.4 196.4 350.4 197.2 349.6 197.6 349.6 198.0 349.2 198.4 349.2 199.2 348.4 199.6 348.4 200.4 347.5 200.8 347.5 201.6 346.7 202.0 346.7 202.8 345.9 203.2 345.9 204.0 345.1 204.4 345.1 205.2 344.3 205.6 344.3 206.8 343.1 207.2 343.1 208.4 341.9 208.8 341.9 214.3 336.4 214.3 336.0 216.3 334.0 216.3 333.6 217.5 332.4 217.5 332.0 218.7 330.8 218.7 330.4 219.8 329.2 219.8 328.8 220.6 328.0 220.6 327.6 221.8 326.4 221.8 326.0 223.0 324.8 223.0 324.4 224.2 323.2 224.2 322.8 225.4 321.6 225.4 321.2 226.6 320.0 226.6 319.6 228.6 317.6 228.6 317.2 230.6 315.2 230.6 314.8 232.6 312.8 232.6 312.4 234.6 310.4 234.6 310.0 236.6 308.0 236.6 307.6 238.2 306.0 238.2 305.6 239.4 304.4 239.4 304.0 240.6 302.8 240.6 302.4 241.8 301.2 241.8 300.8 242.6 300.0 242.6 299.6 243.4 298.8 243.4 298.4 244.2 297.6 244.2 297.2 245.0 296.4 245.0 296.0 245.8 295.2 245.8 294.8 246.2 294.4 246.2 294.0 247.0 293.2 247.0 292.8 247.4 292.4 247.4 292.0 248.2 291.2 248.2 290.4 247.8 290.0 247.7 287.6 247.3 287.2 247.3 283.6 246.9 283.2 246.9 279.6 246.5 279.2 246.5 274.4 246.1 274.0 246.1 269.6 245.7 269.2 245.7 265.2 245.3 264.8 245.3 260.8 244.9 260.4 244.9 256.4 244.5 256.0 244.5 253.2 244.1 252.8 244.1 248.8 243.7 248.4 243.7 245.2 243.3 244.8 243.3 241.6 242.9 241.2 242.9 238.0 242.5 237.6 242.5 233.6 242.1 233.2 242.0 228.0 241.6 227.6 241.6 220.8 241.2 220.4 241.2 204.0 431.6 204.0 431.6 334.5 383.2 286.1 315.6 309.4 267.8 326.8 251.9 332.4 214.2 345.2 195.6 351.2ZM194.0 351.7 193.6 351.9 193.6 351.6 194.4 351.6 194.0 351.7ZM192.8 352.1 192.8 352.0 193.1 352.0 192.8 352.1Z"/><path fill-rule="evenodd" fill="#0c93d2" d="M198.0 349.6 197.2 349.9 197.2 349.6 197.6 349.6 198.0 349.2 198.4 349.2 199.2 348.4 199.6 348.4 200.4 347.6 200.8 347.6 201.6 346.8 202.0 346.8 202.8 346.0 203.2 346.0 204.0 345.1 204.4 345.1 205.2 344.3 205.6 344.3 206.8 343.1 207.2 343.1 208.4 341.9 208.8 341.9 214.3 336.4 214.3 336.0 216.3 334.0 216.3 333.6 217.5 332.4 217.5 332.0 218.7 330.8 218.7 330.4 219.9 329.2 219.9 328.8 220.7 328.0 220.7 327.6 221.9 326.4 221.9 326.0 223.0 324.8 223.0 324.4 224.2 323.2 224.2 322.8 225.4 321.6 225.4 321.2 226.6 320.0 226.6 319.6 228.6 317.6 228.6 317.2 230.6 315.2 230.6 314.8 232.6 312.8 232.6 312.4 234.6 310.4 234.6 310.0 236.6 308.0 236.6 307.6 238.2 306.0 238.2 305.6 239.4 304.4 239.4 304.0 240.6 302.8 240.6 302.4 241.8 301.2 241.8 300.8 242.6 300.0 242.6 299.6 243.4 298.8 243.4 298.4 244.2 297.6 244.2 297.2 245.0 296.4 245.0 296.0 245.8 295.2 245.8 294.8 246.2 294.4 246.2 294.0 247.0 293.2 247.0 292.8 247.4 292.4 247.4 292.0 248.2 291.2 248.2 290.4 247.8 290.0 247.8 287.6 247.4 287.2 247.4 283.6 247.0 283.2 246.9 279.6 246.5 279.2 246.5 274.4 246.1 274.0 246.1 269.6 245.7 269.2 245.7 265.2 245.3 264.8 245.3 260.8 244.9 260.4 244.9 256.4 244.5 256.0 244.5 253.2 244.1 252.8 244.1 248.8 243.7 248.4 243.7 245.2 243.3 244.8 243.3 241.6 242.9 241.2 242.9 238.0 242.5 237.6 242.5 233.6 242.1 233.2 242.1 228.0 241.7 227.6 241.6 220.8 241.2 220.4 241.2 204.0 431.6 204.0 431.6 321.7 430.0 320.1 429.6 320.1 428.0 318.5 427.6 318.5 426.0 316.9 425.6 316.9 424.0 315.3 423.6 315.3 422.0 313.7 421.6 313.7 420.0 312.1 419.6 312.1 418.0 310.5 417.6 310.5 416.0 308.9 415.6 308.9 414.0 307.3 413.6 307.3 412.0 305.7 411.6 305.7 410.0 304.1 409.6 304.1 408.0 302.5 407.6 302.5 406.0 300.9 405.6 300.9 404.0 299.3 403.6 299.3 402.0 297.7 401.6 297.7 400.0 296.1 399.6 296.1 398.0 294.5 397.6 294.5 396.0 292.9 395.6 292.9 394.0 291.3 393.6 291.3 392.0 289.7 391.7 289.6 385.6 283.5 385.2 283.5 369.5 289.2 308.0 310.6 291.2 316.7 259.6 328.4 246.2 333.2 228.9 339.2 198.0 349.6ZM54.4 310.6 54.0 310.6 54.0 217.9 54.1 218.0 54.1 218.4 54.5 218.8 54.5 219.2 54.9 219.6 54.9 220.0 55.3 220.4 55.3 221.2 55.7 221.6 55.7 222.0 56.1 222.4 56.1 222.8 56.5 223.2 56.5 223.6 56.9 224.0 56.9 224.4 57.3 224.8 57.3 225.2 57.7 225.6 57.7 226.4 58.1 226.8 58.1 227.2 58.5 227.6 58.5 228.0 58.9 228.4 58.9 228.8 59.3 229.2 59.3 229.6 59.7 230.0 59.7 230.4 60.1 230.8 60.2 231.6 60.5 232.0 60.6 232.4 60.9 232.8 61.0 233.2 61.3 233.6 61.4 234.0 61.7 234.4 61.8 235.2 62.2 235.6 62.2 236.0 62.6 236.4 62.6 236.8 63.0 237.2 63.0 237.6 63.4 238.0 63.4 238.8 63.8 239.2 63.8 239.6 64.2 240.0 64.2 240.4 64.6 240.8 64.6 241.2 65.0 241.6 65.0 242.4 65.4 242.8 65.4 243.2 65.8 243.6 65.8 244.0 66.2 244.4 66.2 244.8 66.6 245.2 66.6 246.0 67.0 246.4 67.0 246.8 67.4 247.2 67.4 247.6 67.8 248.0 67.8 248.4 68.2 248.8 68.2 249.6 68.6 250.0 68.6 250.4 69.0 250.8 69.0 251.2 69.4 251.6 69.4 252.0 69.8 252.4 69.8 253.2 70.2 253.6 70.2 254.0 70.6 254.4 70.6 254.8 71.0 255.2 71.0 255.6 71.4 256.0 71.4 256.8 71.8 257.2 71.8 257.6 72.2 258.0 72.2 258.4 72.6 258.8 72.6 259.2 73.0 259.6 73.0 260.4 73.4 260.8 73.4 261.2 73.8 261.6 73.8 262.0 74.2 262.4 74.2 262.8 74.6 263.2 74.6 264.0 75.0 264.4 75.0 264.8 75.4 265.2 75.4 265.6 75.8 266.0 75.8 266.4 76.2 266.8 76.3 267.6 77.0 268.8 77.1 269.6 77.5 270.0 77.5 270.4 77.9 270.8 77.9 271.6 78.3 272.0 78.3 272.4 78.7 272.8 78.7 273.6 79.1 274.0 79.1 274.4 79.5 274.8 79.5 275.6 79.9 276.0 79.9 276.4 80.3 276.8 80.3 277.6 80.7 278.0 80.7 278.4 81.1 278.8 81.1 279.6 81.5 280.0 81.5 280.4 81.9 280.8 81.9 281.6 82.3 282.0 82.3 282.4 82.7 282.8 82.8 283.6 83.1 284.0 83.2 284.8 83.6 285.2 83.6 286.0 84.0 286.4 84.0 287.2 84.4 287.6 84.4 288.4 84.7 288.8 84.6 289.6 68.6 300.8 62.4 305.3 62.2 305.6 62.0 305.7 61.6 305.7 60.4 306.6 60.0 306.6 59.2 307.4 58.8 307.4 58.0 308.2 57.6 308.2 56.8 309.0 56.4 309.0 55.6 309.8 55.2 309.8 54.4 310.6Z"/><path fill-rule="evenodd" fill="#0998d1" d="M202.0 347.3 201.2 347.5 201.2 347.2 201.6 346.8 202.0 346.8 202.8 346.0 203.2 346.0 204.0 345.2 204.4 345.2 205.2 344.4 205.6 344.4 206.8 343.2 207.2 343.2 208.4 341.9 208.8 341.9 214.3 336.4 214.3 336.0 216.3 334.0 216.3 333.6 217.5 332.4 217.5 332.0 218.7 330.8 218.7 330.4 219.9 329.2 219.9 328.8 220.7 328.0 220.7 327.6 221.9 326.4 221.9 326.0 223.1 324.8 223.1 324.4 224.3 323.2 224.3 322.8 225.5 321.6 225.5 321.2 226.6 320.0 226.6 319.6 228.6 317.6 228.6 317.2 230.6 315.2 230.6 314.8 232.6 312.8 232.6 312.4 234.6 310.4 234.6 310.0 236.6 308.0 236.6 307.6 238.2 306.0 238.2 305.6 239.4 304.4 239.4 304.0 240.6 302.8 240.6 302.4 241.8 301.2 241.8 300.8 242.6 300.0 242.6 299.6 243.4 298.8 243.4 298.4 244.2 297.6 244.2 297.2 245.0 296.4 245.0 296.0 245.8 295.2 245.8 294.8 246.2 294.4 246.2 294.0 247.0 293.2 247.0 292.8 247.4 292.4 247.4 292.0 248.2 291.2 248.2 290.4 247.8 290.0 247.8 287.6 247.4 287.2 247.4 283.6 247.0 283.2 247.0 279.6 246.6 279.2 246.5 274.4 246.1 274.0 246.1 269.6 245.7 269.2 245.7 265.2 245.3 264.8 245.3 260.8 244.9 260.4 244.9 256.4 244.5 256.0 244.5 253.2 244.1 252.8 244.1 248.8 243.7 248.4 243.7 245.2 243.3 244.8 243.3 241.6 242.9 241.2 242.9 238.0 242.5 237.6 242.5 233.6 242.1 233.2 242.1 228.0 241.7 227.6 241.7 220.8 241.3 220.4 241.2 204.0 431.6 204.0 431.6 311.5 431.2 311.1 430.8 311.1 430.0 310.3 429.6 310.3 428.4 309.1 428.0 309.1 427.2 308.3 426.8 308.3 425.6 307.1 425.2 307.1 424.4 306.3 424.0 306.3 422.8 305.1 422.4 305.1 421.6 304.3 421.2 304.3 420.0 303.1 419.6 303.1 418.8 302.3 418.4 302.3 417.2 301.1 416.8 301.1 416.0 300.3 415.6 300.3 414.4 299.1 414.0 299.1 413.2 298.3 412.8 298.3 412.0 297.5 410.4 296.5 409.9 296.0 409.2 295.7 408.4 294.9 408.0 294.9 407.2 294.1 406.8 294.1 406.0 293.3 405.6 293.3 404.8 292.5 404.4 292.5 403.6 291.7 403.2 291.7 402.4 290.9 402.0 290.9 401.2 290.1 400.8 290.1 400.0 289.3 399.6 289.3 398.8 288.5 398.4 288.5 397.6 287.7 397.2 287.7 396.4 286.9 396.0 286.9 395.2 286.1 394.8 286.1 394.0 285.3 393.6 285.3 392.8 284.5 392.4 284.5 391.6 283.7 391.2 283.7 390.4 282.9 390.0 282.9 389.2 282.1 388.8 282.0 388.4 281.6 388.0 281.6 387.2 280.8 375.7 285.2 365.8 288.8 316.0 306.2 300.0 311.8 239.3 334.4 223.4 340.0 202.0 347.3ZM54.0 304.9 54.0 279.9 54.1 280.4 54.5 280.8 54.5 281.6 54.9 282.0 54.9 282.4 55.3 282.8 55.3 283.6 55.7 284.0 55.7 284.4 56.1 284.8 56.1 285.6 56.5 286.0 56.5 286.4 56.9 286.8 56.9 287.6 57.3 288.0 57.3 288.4 57.7 288.8 57.7 289.6 58.1 290.0 58.1 290.4 58.5 290.8 58.5 291.6 58.9 292.0 58.9 292.4 59.3 292.8 59.3 293.6 59.7 294.0 59.7 294.4 60.1 294.8 60.1 295.6 60.5 296.0 60.5 296.4 60.9 296.8 61.0 297.6 61.0 299.6 60.8 299.7 60.4 299.6 59.6 298.8 59.6 299.2 60.0 299.6 59.8 300.4 59.2 300.9 59.0 301.2 57.6 302.5 57.2 302.5 56.4 303.3 56.0 303.3 55.2 304.1 54.8 304.1 54.0 304.9ZM200.8 347.7 200.4 347.8 200.4 347.6 201.0 347.6 200.8 347.7Z"/><path fill-rule="evenodd" fill="#079ccf" d="M204.8 345.2 204.0 345.5 204.0 345.2 204.4 345.2 205.2 344.4 205.6 344.4 206.8 343.2 207.2 343.2 208.4 342.0 208.8 342.0 214.3 336.4 214.3 336.0 216.3 334.0 216.3 333.6 217.5 332.4 217.5 332.0 218.7 330.8 218.7 330.4 219.9 329.2 219.9 328.8 220.7 328.0 220.7 327.6 221.9 326.4 221.9 326.0 223.1 324.8 223.1 324.4 224.3 323.2 224.3 322.8 225.5 321.6 225.5 321.2 226.7 320.0 226.7 319.6 228.7 317.6 228.7 317.2 230.6 315.2 230.6 314.8 232.6 312.8 232.6 312.4 234.6 310.4 234.6 310.0 236.6 308.0 236.6 307.6 238.2 306.0 238.2 305.6 239.4 304.4 239.4 304.0 240.6 302.8 240.6 302.4 241.8 301.2 241.8 300.8 242.6 300.0 242.6 299.6 243.4 298.8 243.4 298.4 244.2 297.6 244.2 297.2 245.0 296.4 245.0 296.0 245.8 295.2 245.8 294.8 246.2 294.4 246.2 294.0 247.0 293.2 247.0 292.8 247.4 292.4 247.4 292.0 248.2 291.2 248.2 290.4 247.8 290.0 247.8 287.6 247.4 287.2 247.4 283.6 247.0 283.2 247.0 279.6 246.6 279.2 246.6 274.4 246.2 274.0 246.1 269.6 245.7 269.2 245.7 265.2 245.3 264.8 245.3 260.8 244.9 260.4 244.9 256.4 244.5 256.0 244.5 253.2 244.1 252.8 244.1 248.8 243.7 248.4 243.7 245.2 243.3 244.8 243.3 241.6 242.9 241.2 242.9 238.0 242.5 237.6 242.5 233.6 242.1 233.2 242.1 228.0 241.7 227.6 241.7 220.8 241.3 220.4 241.2 204.0 431.6 204.0 431.6 307.5 430.4 306.3 430.0 306.3 429.2 305.5 428.8 305.5 427.6 304.3 427.2 304.3 426.4 303.5 426.0 303.5 424.8 302.3 424.4 302.3 423.6 301.5 423.2 301.5 422.0 300.3 421.6 300.3 420.8 299.5 420.4 299.5 419.2 298.3 418.8 298.3 418.0 297.5 417.6 297.5 416.4 296.3 416.0 296.3 415.2 295.5 414.8 295.5 414.0 294.7 412.4 293.7 411.9 293.2 411.2 292.9 410.4 292.1 410.0 292.1 409.2 291.3 408.8 291.3 408.0 290.5 407.6 290.5 406.8 289.7 406.4 289.7 405.6 288.9 405.2 288.9 404.4 288.1 404.0 288.1 403.2 287.3 402.8 287.3 402.0 286.5 401.6 286.5 400.8 285.7 400.4 285.7 399.6 284.9 399.2 284.9 398.4 284.1 398.0 284.1 397.2 283.3 396.8 283.3 396.0 282.5 395.6 282.5 394.8 281.7 394.4 281.7 393.6 280.9 393.2 280.9 392.4 280.1 392.0 280.1 391.2 279.3 390.8 279.2 390.4 278.8 390.0 278.8 389.2 278.1 364.2 287.6 297.6 311.1 278.4 318.2 235.6 334.4 221.1 339.6 204.8 345.2ZM203.6 345.7 203.8 345.6 203.6 345.7Z"/><path fill-rule="evenodd" fill="#06a0cd" d="M208.4 342.8 207.6 343.1 207.6 342.8 208.4 342.0 208.8 342.0 214.3 336.4 214.3 336.0 216.3 334.0 216.3 333.6 217.5 332.4 217.5 332.0 218.7 330.8 218.7 330.4 219.9 329.2 219.9 328.8 220.7 328.0 220.7 327.6 221.9 326.4 221.9 326.0 223.1 324.8 223.1 324.4 224.3 323.2 224.3 322.8 225.5 321.6 225.5 321.2 226.7 320.0 226.7 319.6 228.7 317.6 228.7 317.2 230.7 315.2 230.7 314.8 232.7 312.8 232.6 312.4 234.6 310.4 234.6 310.0 236.6 308.0 236.6 307.6 238.2 306.0 238.2 305.6 239.4 304.4 239.4 304.0 240.6 302.8 240.6 302.4 241.8 301.2 241.8 300.8 242.6 300.0 242.6 299.6 243.4 298.8 243.4 298.4 244.2 297.6 244.2 297.2 245.0 296.4 245.0 296.0 245.8 295.2 245.8 294.8 246.2 294.4 246.2 294.0 247.0 293.2 247.0 292.8 247.4 292.4 247.4 292.0 248.2 291.2 248.2 290.4 247.8 290.0 247.8 287.6 247.4 287.2 247.4 283.6 247.0 283.2 247.0 279.6 246.6 279.2 246.6 274.4 246.2 274.0 246.2 269.6 245.8 269.2 245.7 265.2 245.3 264.8 245.3 260.8 244.9 260.4 244.9 256.4 244.5 256.0 244.5 253.2 244.1 252.8 244.1 248.8 243.7 248.4 243.7 245.2 243.3 244.8 243.3 241.6 242.9 241.2 242.9 238.0 242.5 237.6 242.5 233.6 242.1 233.2 242.1 228.0 241.7 227.6 241.7 220.8 241.3 220.4 241.3 204.0 431.6 204.0 431.6 305.4 430.8 304.6 430.4 304.6 429.2 303.4 428.8 303.4 427.6 302.2 427.2 302.2 426.0 301.0 425.6 301.0 424.4 299.8 424.0 299.8 422.8 298.6 422.4 298.6 421.2 297.4 420.8 297.4 419.6 296.2 419.2 296.2 418.0 295.0 417.6 295.0 416.4 293.8 416.0 293.8 414.8 292.6 414.4 292.6 413.2 291.4 412.8 291.4 411.6 290.2 411.2 290.2 410.0 289.0 409.6 289.0 408.4 287.8 408.0 287.8 406.8 286.6 406.4 286.6 405.2 285.4 404.8 285.4 403.6 284.2 403.2 284.2 402.0 283.0 401.6 283.0 400.4 281.8 400.0 281.8 398.8 280.6 398.4 280.6 397.2 279.4 396.8 279.4 395.6 278.2 395.2 278.2 394.4 277.4 394.0 277.4 393.2 276.6 392.8 276.5 392.4 276.1 392.0 276.1 391.2 275.4 354.8 289.2 304.4 307.0 285.6 313.8 267.6 320.6 230.5 334.8 208.4 342.8ZM207.2 343.3 206.8 343.4 206.8 343.2 207.4 343.2 207.2 343.3Z"/><path fill-rule="evenodd" fill="#06a4ca" d="M210.4 340.8 210.0 341.0 210.0 340.8 214.4 336.4 214.4 336.0 216.4 334.0 216.3 333.6 217.5 332.4 217.5 332.0 218.7 330.8 218.7 330.4 219.9 329.2 219.9 328.8 220.7 328.0 220.7 327.6 221.9 326.4 221.9 326.0 223.1 324.8 223.1 324.4 224.3 323.2 224.3 322.8 225.5 321.6 225.5 321.2 226.7 320.0 226.7 319.6 228.7 317.6 228.7 317.2 230.7 315.2 230.7 314.8 232.7 312.8 232.7 312.4 234.7 310.4 234.7 310.0 236.6 308.0 236.6 307.6 238.2 306.0 238.2 305.6 239.4 304.4 239.4 304.0 240.6 302.8 240.6 302.4 241.8 301.2 241.8 300.8 242.6 300.0 242.6 299.6 243.4 298.8 243.4 298.4 244.2 297.6 244.2 297.2 245.0 296.4 245.0 296.0 245.8 295.2 245.8 294.8 246.2 294.4 246.2 294.0 247.0 293.2 247.0 292.8 247.4 292.4 247.4 292.0 248.2 291.2 248.2 290.4 247.8 290.0 247.8 287.6 247.4 287.2 247.4 283.6 247.0 283.2 247.0 279.6 246.6 279.2 246.6 274.4 246.2 274.0 246.2 269.6 245.8 269.2 245.8 265.2 245.4 264.8 245.4 260.8 245.0 260.4 244.9 256.4 244.5 256.0 244.5 253.2 244.1 252.8 244.1 248.8 243.7 248.4 243.7 245.2 243.3 244.8 243.3 241.6 242.9 241.2 242.9 238.0 242.5 237.6 242.5 233.6 242.1 233.2 242.1 228.0 241.7 227.6 241.7 220.8 241.3 220.4 241.3 204.0 431.6 204.0 431.6 302.0 431.2 301.6 430.8 301.6 429.2 300.0 428.8 300.0 427.2 298.4 426.8 298.4 425.2 296.8 424.8 296.8 423.2 295.2 422.8 295.2 421.2 293.6 420.8 293.6 419.2 292.0 418.8 292.0 417.2 290.4 416.8 290.4 415.2 288.8 414.8 288.8 413.2 287.2 412.8 287.2 411.2 285.6 410.8 285.6 409.2 284.0 408.8 284.0 407.2 282.4 406.8 282.4 405.2 280.8 404.8 280.8 403.2 279.2 402.8 279.2 401.2 277.6 400.8 277.5 399.6 276.3 399.2 276.3 398.0 275.1 397.6 275.1 396.8 274.3 396.4 274.3 395.6 273.5 395.2 273.5 394.8 273.1 394.4 273.1 394.0 272.7 393.2 272.7 348.7 289.6 297.6 307.8 277.6 315.1 259.6 321.9 224.3 335.6 210.4 340.8Z"/><path fill-rule="evenodd" fill="#06a7c6" d="M212.8 338.4 212.4 338.6 212.4 338.4 214.4 336.4 214.4 336.0 216.4 334.0 216.4 333.6 217.6 332.4 217.6 332.0 218.8 330.8 218.7 330.4 219.9 329.2 219.9 328.8 220.7 328.0 220.7 327.6 221.9 326.4 221.9 326.0 223.1 324.8 223.1 324.4 224.3 323.2 224.3 322.8 225.5 321.6 225.5 321.2 226.7 320.0 226.7 319.6 228.7 317.6 228.7 317.2 230.7 315.2 230.7 314.8 232.7 312.8 232.7 312.4 234.7 310.4 234.7 310.0 236.7 308.0 236.7 307.6 238.3 306.0 238.3 305.6 239.5 304.4 239.4 304.0 240.6 302.8 240.6 302.4 241.8 301.2 241.8 300.8 242.6 300.0 242.6 299.6 243.4 298.8 243.4 298.4 244.2 297.6 244.2 297.2 245.0 296.4 245.0 296.0 245.8 295.2 245.8 294.8 246.2 294.4 246.2 294.0 247.0 293.2 247.0 292.8 247.4 292.4 247.4 292.0 248.2 291.2 248.2 290.4 247.8 290.0 247.8 287.6 247.4 287.2 247.4 283.6 247.0 283.2 247.0 279.6 246.6 279.2 246.6 274.4 246.2 274.0 246.2 269.6 245.8 269.2 245.8 265.2 245.4 264.8 245.4 260.8 245.0 260.4 245.0 256.4 244.6 256.0 244.5 253.2 244.1 252.8 244.1 248.8 243.7 248.4 243.7 245.2 243.3 244.8 243.3 241.6 242.9 241.2 242.9 238.0 242.5 237.6 242.5 233.6 242.1 233.2 242.1 228.0 241.7 227.6 241.7 220.8 241.3 220.4 241.3 204.0 431.6 204.0 431.6 297.0 431.2 297.0 430.0 295.8 429.6 295.8 428.4 294.6 428.0 294.6 426.8 293.4 426.4 293.4 425.2 292.2 424.8 292.2 423.6 291.0 423.2 291.0 422.0 289.8 421.6 289.8 420.4 288.6 420.0 288.6 418.8 287.4 418.4 287.4 417.2 286.2 416.8 286.2 415.6 285.0 415.2 285.0 414.0 283.8 413.6 283.8 412.4 282.6 412.0 282.6 410.8 281.4 410.4 281.4 409.2 280.2 408.8 280.2 407.6 279.0 407.2 279.0 406.0 277.8 405.6 277.8 404.4 276.6 404.0 276.6 402.8 275.4 402.4 275.4 401.2 274.2 400.8 274.2 399.6 273.0 399.2 272.9 398.4 272.1 398.0 272.1 397.2 271.3 396.8 271.2 395.6 270.0 395.2 270.0 375.9 277.2 341.6 290.4 291.6 308.3 271.2 315.7 252.4 322.9 212.8 338.4Z"/><path fill-rule="evenodd" fill="#07a9c2" d="M215.6 335.6 214.8 335.9 214.8 335.6 216.4 334.0 216.4 333.6 217.6 332.4 217.6 332.0 218.8 330.8 218.8 330.4 220.0 329.2 220.0 328.8 220.8 328.0 220.8 327.6 221.9 326.4 221.9 326.0 223.1 324.8 223.1 324.4 224.3 323.2 224.3 322.8 225.5 321.6 225.5 321.2 226.7 320.0 226.7 319.6 228.7 317.6 228.7 317.2 230.7 315.2 230.7 314.8 232.7 312.8 232.7 312.4 234.7 310.4 234.7 310.0 236.7 308.0 236.7 307.6 238.3 306.0 238.3 305.6 239.5 304.4 239.5 304.0 240.7 302.8 240.7 302.4 241.9 301.2 241.9 300.8 242.6 300.0 242.6 299.6 243.4 298.8 243.4 298.4 244.2 297.6 244.2 297.2 245.0 296.4 245.0 296.0 245.8 295.2 245.8 294.8 246.2 294.4 246.2 294.0 247.0 293.2 247.0 292.8 247.4 292.4 247.4 292.0 248.2 291.2 248.2 290.4 247.8 290.0 247.8 287.6 247.4 287.2 247.4 283.6 247.0 283.2 247.0 279.6 246.6 279.2 246.6 274.4 246.2 274.0 246.2 269.6 245.8 269.2 245.8 265.2 245.4 264.8 245.4 260.8 245.0 260.4 245.0 256.4 244.6 256.0 244.6 253.2 244.2 252.8 244.1 248.8 243.7 248.4 243.7 245.2 243.3 244.8 243.3 241.6 242.9 241.2 242.9 238.0 242.5 237.6 242.5 233.6 242.1 233.2 242.1 228.0 241.7 227.6 241.7 220.8 241.3 220.4 241.3 204.0 431.6 204.0 431.6 289.9 430.8 289.1 430.4 289.1 429.6 288.3 429.2 288.3 428.4 287.5 428.0 287.5 427.2 286.7 426.8 286.7 426.0 285.9 425.6 285.9 424.8 285.1 424.4 285.1 423.6 284.3 423.2 284.3 422.4 283.5 422.0 283.5 421.2 282.7 420.8 282.7 420.0 281.9 419.6 281.9 418.8 281.1 418.4 281.1 417.6 280.3 417.2 280.3 416.4 279.5 416.0 279.5 415.2 278.7 414.8 278.7 414.0 277.9 413.6 277.9 412.8 277.1 412.4 277.1 411.6 276.3 411.2 276.3 410.4 275.5 410.0 275.5 409.2 274.7 408.8 274.7 408.0 273.9 407.6 273.9 406.8 273.1 406.4 273.1 405.6 272.3 405.2 272.3 404.4 271.5 404.0 271.5 403.2 270.7 402.8 270.7 402.0 269.9 401.6 269.9 400.8 269.1 400.4 269.1 399.6 268.3 399.2 268.2 398.8 267.8 398.4 267.8 398.0 267.4 397.2 267.3 369.7 277.6 334.4 291.2 284.8 309.0 265.2 316.2 245.6 323.7 215.6 335.6ZM214.4 336.1 214.4 336.0 214.6 336.0 214.4 336.1Z"/><path fill-rule="evenodd" fill="#0aacbe" d="M218.0 332.9 217.2 333.2 217.2 332.8 217.6 332.4 217.6 332.0 218.8 330.8 218.8 330.4 220.0 329.2 220.0 328.8 220.8 328.0 220.8 327.6 222.0 326.4 222.0 326.0 223.2 324.8 223.2 324.4 224.3 323.2 224.3 322.8 225.5 321.6 225.5 321.2 226.7 320.0 226.7 319.6 228.7 317.6 228.7 317.2 230.7 315.2 230.7 314.8 232.7 312.8 232.7 312.4 234.7 310.4 234.7 310.0 236.7 308.0 236.7 307.6 238.3 306.0 238.3 305.6 239.5 304.4 239.5 304.0 240.7 302.8 240.7 302.4 241.9 301.2 241.9 300.8 242.7 300.0 242.7 299.6 243.5 298.8 243.5 298.4 244.3 297.6 244.3 297.2 245.1 296.4 245.0 296.0 245.8 295.2 245.8 294.8 246.2 294.4 246.2 294.0 247.0 293.2 247.0 292.8 247.4 292.4 247.4 292.0 248.2 291.2 248.2 290.4 247.8 290.0 247.8 287.6 247.4 287.2 247.4 283.6 247.0 283.2 247.0 279.6 246.6 279.2 246.6 274.4 246.2 274.0 246.2 269.6 245.8 269.2 245.8 265.2 245.4 264.8 245.4 260.8 245.0 260.4 245.0 256.4 244.6 256.0 244.6 253.2 244.2 252.8 244.2 248.8 243.8 248.4 243.8 245.2 243.3 244.8 243.3 241.6 242.9 241.2 242.9 238.0 242.5 237.6 242.5 233.6 242.1 233.2 242.1 228.0 241.7 227.6 241.7 220.8 241.3 220.4 241.3 204.0 431.6 204.0 431.6 286.1 431.2 285.7 430.8 285.7 430.0 284.9 429.6 284.9 428.8 284.1 428.4 284.1 427.6 283.3 427.2 283.3 426.4 282.5 426.0 282.5 425.2 281.7 424.8 281.7 424.0 280.9 423.6 280.9 422.8 280.1 422.4 280.1 421.6 279.3 421.2 279.3 420.4 278.5 420.0 278.5 419.2 277.7 418.8 277.7 418.0 276.9 417.6 276.9 416.8 276.1 416.4 276.1 415.6 275.3 415.2 275.3 414.4 274.5 414.0 274.5 413.2 273.7 412.8 273.7 412.0 272.9 411.6 272.9 410.8 272.1 410.4 272.1 409.6 271.3 409.2 271.3 408.4 270.5 408.0 270.5 407.2 269.7 406.8 269.7 406.0 268.9 405.6 268.9 404.8 268.1 404.4 268.1 403.6 267.3 403.2 267.3 402.4 266.5 402.0 266.5 401.2 265.7 400.8 265.6 400.4 265.2 400.0 265.2 399.2 264.5 363.5 278.0 327.2 292.0 278.8 309.5 259.6 316.5 241.6 323.5 218.0 332.9ZM216.8 333.3 216.8 333.2 217.1 333.2 216.8 333.3Z"/><path fill-rule="evenodd" fill="#0faeb9" d="M219.2 330.5 218.8 330.7 218.8 330.4 220.0 329.2 220.0 328.8 220.8 328.0 220.8 327.6 222.0 326.4 222.0 326.0 223.2 324.8 223.2 324.4 224.4 323.2 224.4 322.8 225.6 321.6 225.6 321.2 226.7 320.0 226.7 319.6 228.7 317.6 228.7 317.2 230.7 315.2 230.7 314.8 232.7 312.8 232.7 312.4 234.7 310.4 234.7 310.0 236.7 308.0 236.7 307.6 238.3 306.0 238.3 305.6 239.5 304.4 239.5 304.0 240.7 302.8 240.7 302.4 241.9 301.2 241.9 300.8 242.7 300.0 242.7 299.6 243.5 298.8 243.5 298.4 244.3 297.6 244.3 297.2 245.1 296.4 245.1 296.0 245.9 295.2 245.9 294.8 246.3 294.4 246.3 294.0 247.1 293.2 247.1 292.8 247.5 292.4 247.4 292.0 248.2 291.2 248.2 290.4 247.8 290.0 247.8 287.6 247.4 287.2 247.4 283.6 247.0 283.2 247.0 279.6 246.6 279.2 246.6 274.4 246.2 274.0 246.2 269.6 245.8 269.2 245.8 265.2 245.4 264.8 245.4 260.8 245.0 260.4 245.0 256.4 244.6 256.0 244.6 253.2 244.2 252.8 244.2 248.8 243.8 248.4 243.8 245.2 243.4 244.8 243.4 241.6 243.0 241.2 242.9 238.0 242.5 237.6 242.5 233.6 242.1 233.2 242.1 228.0 241.7 227.6 241.7 220.8 241.3 220.4 241.3 204.0 431.6 204.0 431.6 279.1 431.2 279.1 430.4 278.3 430.0 278.3 429.6 277.9 429.2 277.9 428.4 277.1 428.0 277.1 427.6 276.7 427.2 276.7 426.4 275.9 426.0 275.9 425.6 275.5 425.2 275.5 424.4 274.7 424.0 274.7 423.6 274.3 423.2 274.3 422.4 273.5 422.0 273.5 421.6 273.1 421.2 273.1 420.4 272.3 420.0 272.3 419.6 271.9 419.2 271.9 418.4 271.1 418.0 271.1 417.6 270.7 417.2 270.7 416.4 269.9 416.0 269.9 415.6 269.5 415.2 269.5 414.4 268.7 414.0 268.7 413.6 268.3 413.2 268.3 412.4 267.5 412.0 267.5 411.6 267.1 411.2 267.1 410.4 266.3 410.0 266.3 409.6 265.9 409.2 265.9 408.8 265.5 407.6 265.0 407.2 264.6 406.8 264.6 406.4 264.2 406.0 264.2 405.6 263.8 405.2 263.8 404.8 263.4 404.4 263.4 404.0 263.0 403.6 263.0 403.2 262.6 402.8 262.6 402.4 262.2 402.0 262.2 401.6 261.8 400.8 261.7 385.8 267.6 355.2 279.2 324.3 291.2 257.3 315.6 240.0 322.2 219.2 330.5Z"/><path fill-rule="evenodd" fill="#15b1b4" d="M221.6 327.6 220.8 327.9 220.8 327.6 222.0 326.4 222.0 326.0 223.2 324.8 223.2 324.4 224.4 323.2 224.4 322.8 225.6 321.6 225.6 321.2 226.8 320.0 226.8 319.6 228.7 317.6 228.7 317.2 230.7 315.2 230.7 314.8 232.7 312.8 232.7 312.4 234.7 310.4 234.7 310.0 236.7 308.0 236.7 307.6 238.3 306.0 238.3 305.6 239.5 304.4 239.5 304.0 240.7 302.8 240.7 302.4 241.9 301.2 241.9 300.8 242.7 300.0 242.7 299.6 243.5 298.8 243.5 298.4 244.3 297.6 244.3 297.2 245.1 296.4 245.1 296.0 245.9 295.2 245.9 294.8 246.3 294.4 246.3 294.0 247.1 293.2 247.1 292.8 247.5 292.4 247.5 292.0 248.3 291.2 248.3 290.4 247.9 290.0 247.9 287.6 247.4 287.2 247.4 283.6 247.0 283.2 247.0 279.6 246.6 279.2 246.6 274.4 246.2 274.0 246.2 269.6 245.8 269.2 245.8 265.2 245.4 264.8 245.4 260.8 245.0 260.4 245.0 256.4 244.6 256.0 244.6 253.2 244.2 252.8 244.2 248.8 243.8 248.4 243.8 245.2 243.4 244.8 243.4 241.6 243.0 241.2 243.0 238.0 242.6 237.6 242.5 233.6 242.1 233.2 242.1 228.0 241.7 227.6 241.7 220.8 241.3 220.4 241.3 204.0 431.6 204.0 431.6 276.2 431.2 276.2 430.8 275.8 430.4 275.8 429.6 275.0 429.2 275.0 428.8 274.6 428.4 274.6 427.6 273.8 427.2 273.8 426.8 273.4 426.4 273.4 425.6 272.6 425.2 272.6 424.8 272.2 424.4 272.2 423.6 271.4 423.2 271.4 422.8 271.0 422.4 271.0 421.6 270.2 421.2 270.2 420.8 269.8 420.4 269.8 419.6 269.0 419.2 269.0 418.8 268.6 418.4 268.6 417.6 267.8 417.2 267.8 416.8 267.4 416.4 267.4 415.6 266.6 415.2 266.6 414.8 266.2 414.4 266.2 413.6 265.4 413.2 265.4 412.8 265.0 412.4 265.0 411.6 264.2 411.2 264.2 410.8 263.8 410.4 263.8 409.6 263.1 408.9 262.8 408.4 262.3 408.0 262.3 407.2 261.5 406.8 261.5 406.0 260.7 405.6 260.7 404.8 259.9 404.4 259.8 404.0 259.4 403.6 259.4 403.2 259.0 402.4 258.9 380.5 267.6 349.0 279.6 317.1 292.0 303.1 297.2 252.5 315.6 237.8 321.2 221.6 327.6Z"/><path fill-rule="evenodd" fill="#1db3af" d="M223.6 324.9 223.2 325.0 223.2 324.4 224.4 323.2 224.4 322.8 225.6 321.6 225.6 321.2 226.8 320.0 226.8 319.6 228.8 317.6 228.8 317.2 230.8 315.2 230.7 314.8 232.7 312.8 232.7 312.4 234.7 310.4 234.7 310.0 236.7 308.0 236.7 307.6 238.3 306.0 238.3 305.6 239.5 304.4 239.5 304.0 240.7 302.8 240.7 302.4 241.9 301.2 241.9 300.8 242.7 300.0 242.7 299.6 243.5 298.8 243.5 298.4 244.3 297.6 244.3 297.2 245.1 296.4 245.1 296.0 245.9 295.2 245.9 294.8 246.3 294.4 246.3 294.0 247.1 293.2 247.1 292.8 247.5 292.4 247.5 292.0 248.3 291.2 248.3 290.4 247.9 290.0 247.9 287.6 247.5 287.2 247.5 283.6 247.1 283.2 247.0 279.6 246.6 279.2 246.6 274.4 246.2 274.0 246.2 269.6 245.8 269.2 245.8 265.2 245.4 264.8 245.4 260.8 245.0 260.4 245.0 256.4 244.6 256.0 244.6 253.2 244.2 252.8 244.2 248.8 243.8 248.4 243.8 245.2 243.4 244.8 243.4 241.6 243.0 241.2 243.0 238.0 242.6 237.6 242.6 233.6 242.2 233.2 242.1 228.0 241.7 227.6 241.7 220.8 241.3 220.4 241.3 204.0 431.6 204.0 431.6 271.2 431.2 270.8 430.8 270.8 430.0 270.0 429.6 270.0 429.2 269.6 428.8 269.6 428.0 268.8 427.6 268.8 427.2 268.4 426.8 268.4 426.0 267.6 425.6 267.6 425.2 267.2 424.8 267.2 424.0 266.4 423.6 266.4 423.2 266.0 422.8 266.0 422.0 265.2 421.6 265.2 421.2 264.8 420.8 264.8 420.0 264.0 419.6 264.0 419.2 263.6 418.8 263.6 418.0 262.8 417.6 262.8 417.2 262.4 416.8 262.4 416.0 261.6 415.6 261.6 415.2 261.2 414.8 261.2 414.0 260.4 413.6 260.4 413.2 260.0 412.8 260.0 412.4 259.6 412.0 259.6 411.6 259.2 411.2 259.2 410.8 258.8 410.4 258.8 410.0 258.4 409.6 258.4 409.2 258.0 408.8 258.0 408.4 257.6 408.0 257.6 407.6 257.2 407.2 257.2 406.8 256.8 406.4 256.8 406.0 256.4 405.6 256.4 405.2 256.0 404.4 256.0 374.2 268.0 341.7 280.4 309.9 292.8 294.8 298.4 249.2 315.0 223.6 324.9Z"/><path fill-rule="evenodd" fill="#25b5a9" d="M226.0 322.0 225.2 322.3 225.2 322.0 225.6 321.6 225.6 321.2 226.8 320.0 226.8 319.6 228.8 317.6 228.8 317.2 230.8 315.2 230.8 314.8 232.8 312.8 232.8 312.4 234.7 310.4 234.7 310.0 236.7 308.0 236.7 307.6 238.3 306.0 238.3 305.6 239.5 304.4 239.5 304.0 240.7 302.8 240.7 302.4 241.9 301.2 241.9 300.8 242.7 300.0 242.7 299.6 243.5 298.8 243.5 298.4 244.3 297.6 244.3 297.2 245.1 296.4 245.1 296.0 245.9 295.2 245.9 294.8 246.3 294.4 246.3 294.0 247.1 293.2 247.1 292.8 247.5 292.4 247.5 292.0 248.3 291.2 248.3 290.4 247.9 290.0 247.9 287.6 247.5 287.2 247.5 283.6 247.1 283.2 247.1 279.6 246.7 279.2 246.6 274.4 246.2 274.0 246.2 269.6 245.8 269.2 245.8 265.2 245.4 264.8 245.4 260.8 245.0 260.4 245.0 256.4 244.6 256.0 244.6 253.2 244.2 252.8 244.2 248.8 243.8 248.4 243.8 245.2 243.4 244.8 243.4 241.6 243.0 241.2 243.0 238.0 242.6 237.6 242.6 233.6 242.2 233.2 242.2 228.0 241.8 227.6 241.7 220.8 241.3 220.4 241.3 204.0 431.6 204.0 431.6 268.2 431.2 267.8 430.8 267.8 430.4 267.4 430.0 267.4 429.2 266.6 428.8 266.6 428.4 266.2 428.0 266.2 427.2 265.4 426.8 265.4 426.4 265.0 426.0 265.0 425.2 264.2 424.8 264.2 424.4 263.8 424.0 263.8 423.2 263.0 422.8 263.0 422.4 262.6 422.0 262.6 421.2 261.8 420.8 261.8 420.4 261.4 420.0 261.4 419.2 260.6 418.8 260.6 418.4 260.2 418.0 260.2 417.2 259.4 416.8 259.4 416.4 259.0 416.0 259.0 415.2 258.2 414.8 258.2 414.4 257.8 414.0 257.8 413.6 257.4 412.4 256.8 412.0 256.4 411.6 256.4 410.8 255.6 410.4 255.6 409.6 254.8 409.2 254.8 408.4 254.0 408.0 254.0 407.6 253.6 407.2 253.6 406.8 253.2 406.0 253.2 367.8 268.4 334.4 281.2 303.7 293.2 287.7 299.2 246.1 314.4 226.0 322.0ZM224.8 322.5 224.8 322.4 225.0 322.4 224.8 322.5Z"/><path fill-rule="evenodd" fill="#2eb7a4" d="M227.2 319.7 226.8 319.8 226.8 319.6 228.8 317.6 228.8 317.2 230.8 315.2 230.8 314.8 232.8 312.8 232.8 312.4 234.8 310.4 234.8 310.0 236.7 308.0 236.7 307.6 238.3 306.0 238.3 305.6 239.5 304.4 239.5 304.0 240.7 302.8 240.7 302.4 241.9 301.2 241.9 300.8 242.7 300.0 242.7 299.6 243.5 298.8 243.5 298.4 244.3 297.6 244.3 297.2 245.1 296.4 245.1 296.0 245.9 295.2 245.9 294.8 246.3 294.4 246.3 294.0 247.1 293.2 247.1 292.8 247.5 292.4 247.5 292.0 248.3 291.2 248.3 290.4 247.9 290.0 247.9 287.6 247.5 287.2 247.5 283.6 247.1 283.2 247.1 279.6 246.7 279.2 246.7 274.4 246.3 274.0 246.2 269.6 245.8 269.2 245.8 265.2 245.4 264.8 245.4 260.8 245.0 260.4 245.0 256.4 244.6 256.0 244.6 253.2 244.2 252.8 244.2 248.8 243.8 248.4 243.8 245.2 243.4 244.8 243.4 241.6 243.0 241.2 243.0 238.0 242.6 237.6 242.6 233.6 242.2 233.2 242.2 228.0 241.8 227.6 241.8 220.8 241.4 220.4 241.3 204.0 431.6 204.0 431.6 265.3 431.2 265.3 430.4 264.5 430.0 264.5 429.6 264.1 429.2 264.1 428.4 263.3 428.0 263.3 427.6 262.9 427.2 262.9 426.4 262.1 426.0 262.1 425.6 261.7 425.2 261.7 424.4 260.9 424.0 260.9 423.6 260.5 423.2 260.5 422.4 259.7 422.0 259.7 421.6 259.3 421.2 259.3 420.4 258.5 420.0 258.5 419.6 258.1 419.2 258.1 418.4 257.3 418.0 257.3 417.6 256.9 417.2 256.9 416.4 256.1 416.0 256.1 415.6 255.7 415.2 255.7 414.4 254.9 413.9 254.8 413.2 254.1 412.8 254.1 412.0 253.3 411.6 253.3 410.8 252.5 410.4 252.5 409.6 251.7 409.2 251.6 408.8 251.2 408.4 251.2 407.6 250.4 361.5 268.8 327.1 282.0 296.5 294.0 227.2 319.7Z"/><path fill-rule="evenodd" fill="#38b99e" d="M229.6 316.9 229.2 317.1 229.2 316.8 230.8 315.2 230.8 314.8 232.8 312.8 232.8 312.4 234.8 310.4 234.8 310.0 236.8 308.0 236.8 307.6 238.4 306.0 238.3 305.6 239.5 304.4 239.5 304.0 240.7 302.8 240.7 302.4 241.9 301.2 241.9 300.8 242.7 300.0 242.7 299.6 243.5 298.8 243.5 298.4 244.3 297.6 244.3 297.2 245.1 296.4 245.1 296.0 245.9 295.2 245.9 294.8 246.3 294.4 246.3 294.0 247.1 293.2 247.1 292.8 247.5 292.4 247.5 292.0 248.3 291.2 248.3 290.4 247.9 290.0 247.9 287.6 247.5 287.2 247.5 283.6 247.1 283.2 247.1 279.6 246.7 279.2 246.7 274.4 246.3 274.0 246.3 269.6 245.9 269.2 245.8 265.2 245.4 264.8 245.4 260.8 245.0 260.4 245.0 256.4 244.6 256.0 244.6 253.2 244.2 252.8 244.2 248.8 243.8 248.4 243.8 245.2 243.4 244.8 243.4 241.6 243.0 241.2 243.0 238.0 242.6 237.6 242.6 233.6 242.2 233.2 242.2 228.0 241.8 227.6 241.8 220.8 241.4 220.4 241.3 204.0 431.6 204.0 431.6 260.3 430.8 259.5 430.4 259.5 430.0 259.1 429.6 259.1 428.8 258.3 428.4 258.3 428.0 257.9 427.6 257.9 426.8 257.1 426.4 257.1 426.0 256.7 425.6 256.7 424.8 255.9 424.4 255.9 424.0 255.5 423.6 255.5 422.8 254.7 422.4 254.7 422.0 254.3 421.6 254.3 420.8 253.5 420.4 253.5 420.0 253.1 419.6 253.1 418.8 252.3 418.4 252.3 418.0 251.9 417.6 251.9 417.2 251.5 416.0 251.0 415.6 250.6 415.2 250.6 414.8 250.2 414.4 250.2 414.0 249.8 413.6 249.8 413.2 249.4 412.8 249.4 412.4 249.0 412.0 249.0 411.6 248.6 411.2 248.6 410.8 248.2 410.4 248.2 410.0 247.8 409.2 247.7 355.1 269.2 320.9 282.4 291.4 294.0 274.4 300.4 229.6 316.9ZM228.8 317.2 228.9 317.2 228.8 317.2Z"/><path fill-rule="evenodd" fill="#42bb98" d="M232.4 314.1 231.6 314.4 231.6 314.0 232.8 312.8 232.8 312.4 234.8 310.4 234.8 310.0 236.8 308.0 236.8 307.6 238.4 306.0 238.4 305.6 239.6 304.4 239.6 304.0 240.7 302.8 240.7 302.4 241.9 301.2 241.9 300.8 242.7 300.0 242.7 299.6 243.5 298.8 243.5 298.4 244.3 297.6 244.3 297.2 245.1 296.4 245.1 296.0 245.9 295.2 245.9 294.8 246.3 294.4 246.3 294.0 247.1 293.2 247.1 292.8 247.5 292.4 247.5 292.0 248.3 291.2 248.3 290.4 247.9 290.0 247.9 287.6 247.5 287.2 247.5 283.6 247.1 283.2 247.1 279.6 246.7 279.2 246.7 274.4 246.3 274.0 246.3 269.6 245.9 269.2 245.9 265.2 245.5 264.8 245.4 260.8 245.0 260.4 245.0 256.4 244.6 256.0 244.6 253.2 244.2 252.8 244.2 248.8 243.8 248.4 243.8 245.2 243.4 244.8 243.4 241.6 243.0 241.2 243.0 238.0 242.6 237.6 242.6 233.6 242.2 233.2 242.2 228.0 241.8 227.6 241.8 220.8 241.4 220.4 241.3 204.0 431.6 204.0 431.6 257.3 431.2 256.9 430.8 256.9 430.0 256.1 429.6 256.1 429.2 255.7 428.8 255.7 428.0 254.9 427.6 254.9 427.2 254.5 426.8 254.5 426.0 253.7 425.6 253.7 425.2 253.3 424.8 253.3 424.0 252.5 423.6 252.5 423.2 252.1 422.8 252.1 422.0 251.3 421.6 251.3 421.2 250.9 420.8 250.9 420.0 250.1 419.6 250.1 419.2 249.7 418.8 249.7 418.0 249.0 417.4 248.8 416.8 248.2 416.4 248.2 415.6 247.4 415.2 247.4 414.4 246.6 414.0 246.6 413.2 245.8 412.8 245.8 412.4 245.4 412.0 245.4 411.6 245.0 410.8 244.9 349.8 269.2 313.6 283.2 285.2 294.4 267.3 301.2 232.4 314.1ZM231.2 314.5 231.2 314.4 231.5 314.4 231.2 314.5Z"/><path fill-rule="evenodd" fill="#4dbc92" d="M234.0 311.7 233.6 311.8 233.6 311.6 234.8 310.4 234.8 310.0 236.8 308.0 236.8 307.6 238.4 306.0 238.4 305.6 239.6 304.4 239.6 304.0 240.8 302.8 240.8 302.4 242.0 301.2 242.0 300.8 242.8 300.0 242.7 299.6 243.5 298.8 243.5 298.4 244.3 297.6 244.3 297.2 245.1 296.4 245.1 296.0 245.9 295.2 245.9 294.8 246.3 294.4 246.3 294.0 247.1 293.2 247.1 292.8 247.5 292.4 247.5 292.0 248.3 291.2 248.3 290.4 247.9 290.0 247.9 287.6 247.5 287.2 247.5 283.6 247.1 283.2 247.1 279.6 246.7 279.2 246.7 274.4 246.3 274.0 246.3 269.6 245.9 269.2 245.9 265.2 245.5 264.8 245.5 260.8 245.1 260.4 245.0 256.4 244.6 256.0 244.6 253.2 244.2 252.8 244.2 248.8 243.8 248.4 243.8 245.2 243.4 244.8 243.4 241.6 243.0 241.2 243.0 238.0 242.6 237.6 242.6 233.6 242.2 233.2 242.2 228.0 241.8 227.6 241.8 220.8 241.4 220.4 241.4 204.0 431.6 204.0 431.6 251.4 431.2 251.4 430.8 251.0 430.4 251.0 430.0 250.6 429.6 250.6 429.2 250.2 428.8 250.2 428.4 249.8 428.0 249.8 427.6 249.4 427.2 249.4 426.8 249.0 426.4 249.0 426.0 248.6 425.6 248.6 425.2 248.2 424.8 248.2 424.4 247.8 424.0 247.8 423.6 247.4 423.2 247.4 422.8 247.0 422.4 247.0 422.0 246.6 421.6 246.6 421.2 246.2 420.8 246.2 420.4 245.8 420.0 245.8 419.6 245.4 419.2 245.4 418.8 245.0 418.4 245.0 418.0 244.6 417.6 244.6 417.2 244.2 416.8 244.2 416.4 243.8 416.0 243.8 415.6 243.4 415.2 243.4 414.8 243.0 414.4 243.0 414.0 242.6 413.6 242.6 413.2 242.2 412.4 242.0 344.4 269.2 306.3 284.0 279.0 294.8 261.2 301.6 234.0 311.7Z"/><path fill-rule="evenodd" fill="#59bd8c" d="M236.8 308.8 236.0 309.1 236.0 308.8 236.8 308.0 236.8 307.6 238.4 306.0 238.4 305.6 239.6 304.4 239.6 304.0 240.8 302.8 240.8 302.4 242.0 301.2 242.0 300.8 242.8 300.0 242.8 299.6 243.6 298.8 243.6 298.4 244.4 297.6 244.4 297.2 245.1 296.4 245.1 296.0 245.9 295.2 245.9 294.8 246.3 294.4 246.3 294.0 247.1 293.2 247.1 292.8 247.5 292.4 247.5 292.0 248.3 291.2 248.3 290.4 247.9 290.0 247.9 287.6 247.5 287.2 247.5 283.6 247.1 283.2 247.1 279.6 246.7 279.2 246.7 274.4 246.3 274.0 246.3 269.6 245.9 269.2 245.9 265.2 245.5 264.8 245.5 260.8 245.1 260.4 245.1 256.4 244.7 256.0 244.6 253.2 244.2 252.8 244.2 248.8 243.8 248.4 243.8 245.2 243.4 244.8 243.4 241.6 243.0 241.2 243.0 238.0 242.6 237.6 242.6 233.6 242.2 233.2 242.2 228.0 241.8 227.6 241.8 220.8 241.4 220.4 241.4 204.0 431.6 204.0 431.6 247.5 431.2 247.5 430.8 247.1 430.4 247.1 430.0 246.7 429.6 246.7 429.2 246.3 428.8 246.3 428.4 245.9 428.0 245.9 427.6 245.5 427.2 245.5 426.8 245.1 426.4 245.1 426.0 244.7 425.6 244.7 425.2 244.3 424.8 244.3 424.4 243.9 424.0 243.9 423.6 243.5 423.2 243.5 422.8 243.1 422.4 243.1 422.0 242.7 421.6 242.7 421.2 242.3 420.8 242.3 420.4 241.9 420.0 241.9 419.6 241.5 419.2 241.5 418.8 241.1 418.4 241.1 418.0 240.7 417.6 240.7 417.2 240.3 416.8 240.3 416.4 239.9 416.0 239.9 415.6 239.5 415.2 239.5 414.8 239.1 414.0 239.1 393.1 247.6 333.0 271.6 300.1 284.4 268.7 296.8 236.8 308.8ZM235.6 309.3 235.7 309.2 235.6 309.3Z"/><path fill-rule="evenodd" fill="#65be86" d="M239.2 306.1 238.4 306.4 238.4 305.6 239.6 304.4 239.6 304.0 240.8 302.8 240.8 302.4 242.0 301.2 242.0 300.8 242.8 300.0 242.8 299.6 243.6 298.8 243.6 298.4 244.4 297.6 244.4 297.2 245.2 296.4 245.2 296.0 246.0 295.2 246.0 294.8 246.4 294.4 246.4 294.0 247.1 293.2 247.1 292.8 247.5 292.4 247.5 292.0 248.3 291.2 248.3 290.4 247.9 290.0 247.9 287.6 247.5 287.2 247.5 283.6 247.1 283.2 247.1 279.6 246.7 279.2 246.7 274.4 246.3 274.0 246.3 269.6 245.9 269.2 245.9 265.2 245.5 264.8 245.5 260.8 245.1 260.4 245.1 256.4 244.7 256.0 244.7 253.2 244.3 252.8 244.2 248.8 243.8 248.4 243.8 245.2 243.4 244.8 243.4 241.6 243.0 241.2 243.0 238.0 242.6 237.6 242.6 233.6 242.2 233.2 242.2 228.0 241.8 227.6 241.8 220.8 241.4 220.4 241.4 204.0 431.6 204.0 431.6 244.5 431.2 244.1 430.8 244.1 430.4 243.7 430.0 243.7 429.6 243.3 429.2 243.3 428.8 242.9 428.4 242.9 428.0 242.5 427.6 242.5 427.2 242.1 426.8 242.1 426.4 241.7 426.0 241.7 425.6 241.3 425.2 241.3 424.8 240.9 424.4 240.9 424.0 240.5 423.6 240.5 423.2 240.1 422.8 240.1 422.4 239.7 422.0 239.7 421.6 239.3 421.2 239.3 420.8 238.9 420.4 238.9 420.0 238.5 419.6 238.5 419.2 238.1 418.8 238.1 418.4 237.7 418.0 237.7 417.6 237.3 417.2 237.3 416.8 236.9 416.4 236.9 415.6 236.2 415.2 236.3 388.7 247.2 329.7 270.8 292.8 285.2 263.5 296.8 239.2 306.1ZM238.0 306.5 238.0 306.4 238.3 306.4 238.0 306.5Z"/><path fill-rule="evenodd" fill="#71bf80" d="M240.4 303.7 240.0 303.9 240.0 303.6 240.8 302.8 240.8 302.4 242.0 301.2 242.0 300.8 242.8 300.0 242.8 299.6 243.6 298.8 243.6 298.4 244.4 297.6 244.4 297.2 245.2 296.4 245.2 296.0 246.0 295.2 246.0 294.8 246.4 294.4 246.4 294.0 247.2 293.2 247.2 292.8 247.6 292.4 247.6 292.0 248.4 291.2 248.4 290.4 247.9 290.0 247.9 287.6 247.5 287.2 247.5 283.6 247.1 283.2 247.1 279.6 246.7 279.2 246.7 274.4 246.3 274.0 246.3 269.6 245.9 269.2 245.9 265.2 245.5 264.8 245.5 260.8 245.1 260.4 245.1 256.4 244.7 256.0 244.7 253.2 244.3 252.8 244.3 248.8 243.9 248.4 243.9 245.2 243.4 244.8 243.4 241.6 243.0 241.2 243.0 238.0 242.6 237.6 242.6 233.6 242.2 233.2 242.2 228.0 241.8 227.6 241.8 220.8 241.4 220.4 241.4 204.0 431.6 204.0 431.6 240.6 431.2 240.2 430.8 240.2 430.4 239.8 430.0 239.8 429.6 239.4 429.2 239.4 428.8 239.0 428.4 239.0 428.0 238.6 427.6 238.6 427.2 238.2 426.8 238.2 426.4 237.8 426.0 237.8 425.6 237.4 425.2 237.4 424.8 237.0 424.4 237.0 424.0 236.6 423.6 236.6 423.2 236.2 422.8 236.2 422.4 235.8 422.0 235.8 421.6 235.4 421.2 235.4 420.8 235.0 420.4 235.0 420.0 234.6 419.6 234.6 419.2 234.2 418.8 234.2 418.4 233.8 418.0 233.8 417.6 233.4 416.8 233.3 384.2 246.8 328.3 269.2 285.5 286.0 257.3 297.2 240.4 303.7Z"/><path fill-rule="evenodd" fill="#7cbf7b" d="M242.8 300.8 242.0 301.2 242.0 300.8 242.8 300.0 242.8 299.6 243.6 298.8 243.6 298.4 244.4 297.6 244.4 297.2 245.2 296.4 245.2 296.0 246.0 295.2 246.0 294.8 246.4 294.4 246.4 294.0 247.2 293.2 247.2 292.8 247.6 292.4 247.6 292.0 248.4 291.2 248.4 290.4 248.0 290.0 248.0 287.6 247.6 287.2 247.5 283.6 247.1 283.2 247.1 279.6 246.7 279.2 246.7 274.4 246.3 274.0 246.3 269.6 245.9 269.2 245.9 265.2 245.5 264.8 245.5 260.8 245.1 260.4 245.1 256.4 244.7 256.0 244.7 253.2 244.3 252.8 244.3 248.8 243.9 248.4 243.9 245.2 243.5 244.8 243.4 241.6 243.0 241.2 243.0 238.0 242.6 237.6 242.6 233.6 242.2 233.2 242.2 228.0 241.8 227.6 241.8 220.8 241.4 220.4 241.4 204.0 431.6 204.0 431.6 236.7 431.2 236.3 430.8 236.3 430.4 235.9 430.0 235.9 429.6 235.5 429.2 235.5 428.8 235.1 428.4 235.1 428.0 234.7 427.6 234.7 427.2 234.3 426.8 234.3 426.4 233.9 426.0 233.9 425.6 233.5 425.2 233.5 424.8 233.1 424.4 233.1 424.0 232.7 423.6 232.7 423.2 232.3 422.8 232.3 422.4 231.9 422.0 231.9 421.6 231.5 421.2 231.5 420.8 231.1 420.4 231.1 420.0 230.7 419.6 230.7 419.2 230.3 418.4 230.3 389.4 242.4 367.8 251.2 315.9 272.0 242.8 300.8Z"/><path fill-rule="evenodd" fill="#87bf77" d="M244.8 298.0 244.0 298.4 244.0 298.0 244.4 297.6 244.4 297.2 245.2 296.4 245.2 296.0 246.0 295.2 246.0 294.8 246.4 294.4 246.4 294.0 247.2 293.2 247.2 292.8 247.6 292.4 247.6 292.0 248.4 291.2 248.4 290.4 248.0 290.0 248.0 287.6 247.6 287.2 247.6 283.6 247.2 283.2 247.1 279.6 246.7 279.2 246.7 274.4 246.3 274.0 246.3 269.6 245.9 269.2 245.9 265.2 245.5 264.8 245.5 260.8 245.1 260.4 245.1 256.4 244.7 256.0 244.7 253.2 244.3 252.8 244.3 248.8 243.9 248.4 243.9 245.2 243.5 244.8 243.5 241.6 243.1 241.2 243.1 238.0 242.7 237.6 242.6 233.6 242.2 233.2 242.2 228.0 241.8 227.6 241.8 220.8 241.4 220.4 241.4 204.0 431.6 204.0 431.6 233.3 431.2 233.3 430.8 232.9 430.4 232.9 430.0 232.5 429.6 232.5 429.2 232.1 428.8 232.1 428.4 231.7 428.0 231.7 427.6 231.3 427.2 231.3 426.8 230.9 426.4 230.9 426.0 230.5 425.6 230.5 425.2 230.1 424.8 230.1 424.4 229.7 424.0 229.7 423.6 229.3 423.2 229.3 422.8 228.9 422.4 228.9 422.0 228.5 421.6 228.5 421.2 228.1 420.8 228.1 420.0 227.4 419.6 227.5 385.8 241.6 363.4 250.8 311.5 271.6 271.9 287.2 244.8 298.0ZM243.6 298.5 243.6 298.4 243.9 298.4 243.6 298.5Z"/><path fill-rule="evenodd" fill="#92bf73" d="M246.4 295.3 246.0 295.5 246.0 294.8 246.4 294.4 246.4 294.0 247.2 293.2 247.2 292.8 247.6 292.4 247.6 292.0 248.4 291.2 248.4 290.4 248.0 290.0 248.0 287.6 247.6 287.2 247.6 283.6 247.2 283.2 247.2 279.6 246.8 279.2 246.7 274.4 246.3 274.0 246.3 269.6 245.9 269.2 245.9 265.2 245.5 264.8 245.5 260.8 245.1 260.4 245.1 256.4 244.7 256.0 244.7 253.2 244.3 252.8 244.3 248.8 243.9 248.4 243.9 245.2 243.5 244.8 243.5 241.6 243.1 241.2 243.1 238.0 242.7 237.6 242.7 233.6 242.3 233.2 242.2 228.0 241.8 227.6 241.8 220.8 241.4 220.4 241.4 204.0 431.6 204.0 431.6 230.0 431.2 229.6 430.8 229.6 430.4 229.2 430.0 229.2 429.6 228.8 429.2 228.8 428.8 228.4 428.4 228.4 428.0 228.0 427.6 228.0 427.2 227.6 426.8 227.6 426.4 227.2 426.0 227.2 425.6 226.8 425.2 226.8 424.8 226.4 424.4 226.4 424.0 226.0 423.6 226.0 423.2 225.6 422.8 225.6 422.4 225.2 422.0 225.2 421.2 224.5 420.8 224.6 382.2 240.8 358.0 250.8 306.2 271.6 265.6 287.6 246.4 295.3ZM245.6 295.6 245.7 295.6 245.6 295.6Z"/><path fill-rule="evenodd" fill="#9cbf6f" d="M248.0 292.5 247.6 292.7 247.6 292.0 248.4 291.2 248.4 290.4 248.0 290.0 248.0 287.6 247.6 287.2 247.6 283.6 247.2 283.2 247.2 279.6 246.8 279.2 246.8 274.4 246.4 274.0 246.3 269.6 245.9 269.2 245.9 265.2 245.5 264.8 245.5 260.8 245.1 260.4 245.1 256.4 244.7 256.0 244.7 253.2 244.3 252.8 244.3 248.8 243.9 248.4 243.9 245.2 243.5 244.8 243.5 241.6 243.1 241.2 243.1 238.0 242.7 237.6 242.7 233.6 242.3 233.2 242.2 228.0 241.8 227.6 241.8 220.8 241.4 220.4 241.4 204.0 431.6 204.0 431.6 226.2 431.2 225.8 430.8 225.8 430.4 225.4 430.0 225.4 429.6 225.0 429.2 225.0 428.8 224.6 428.4 224.6 428.0 224.2 427.6 224.2 427.2 223.8 426.8 223.8 426.4 223.4 426.0 223.4 425.6 223.0 425.2 223.0 424.8 222.6 424.4 222.6 424.0 222.2 423.6 222.2 423.2 221.8 422.4 221.6 380.5 239.2 351.5 251.2 299.8 272.0 248.0 292.5ZM247.2 292.9 247.4 292.8 247.2 292.9Z"/><path fill-rule="evenodd" fill="#a5be6b" d="M248.8 290.1 248.0 290.0 248.0 287.6 247.6 287.2 247.6 283.6 247.2 283.2 247.2 279.6 246.8 279.2 246.8 274.4 246.4 274.0 246.4 269.6 246.0 269.2 245.9 265.2 245.5 264.8 245.5 260.8 245.1 260.4 245.1 256.4 244.7 256.0 244.7 253.2 244.3 252.8 244.3 248.8 243.9 248.4 243.9 245.2 243.5 244.8 243.5 241.6 243.1 241.2 243.1 238.0 242.7 237.6 242.7 233.6 242.3 233.2 242.3 228.0 241.9 227.6 241.8 220.8 241.4 220.4 241.4 204.0 431.6 204.0 431.6 222.4 431.2 222.4 430.8 222.0 430.4 222.0 430.0 221.6 429.5 221.6 429.2 221.3 428.7 221.2 428.4 220.9 428.0 220.9 427.6 220.5 427.2 220.5 426.8 220.1 426.4 220.1 426.0 219.7 425.6 219.7 425.2 219.3 424.8 219.3 424.0 218.7 423.6 218.8 394.8 230.9 345.1 251.6 293.4 272.4 248.8 290.1Z"/><path fill-rule="evenodd" fill="#aebe67" d="M251.6 286.9 250.8 287.2 250.0 287.0 249.6 286.6 249.2 286.6 248.8 286.2 248.4 286.2 247.6 285.4 247.6 283.6 247.2 283.2 247.2 279.6 246.8 279.2 246.8 274.4 246.4 274.0 246.4 269.6 246.0 269.2 246.0 265.2 245.6 264.8 245.5 260.8 245.1 260.4 245.1 256.4 244.7 256.0 244.7 253.2 244.3 252.8 244.3 248.8 243.9 248.4 243.9 245.2 243.5 244.8 243.5 241.6 243.1 241.2 243.1 238.0 242.7 237.6 242.7 233.6 242.3 233.2 242.3 228.0 241.9 227.6 241.9 220.8 241.5 220.4 241.4 204.0 431.6 204.0 431.6 218.6 431.2 218.6 430.8 218.2 430.4 218.2 430.0 217.8 429.6 217.8 429.2 217.4 428.8 217.4 428.4 217.0 428.0 217.0 427.6 216.6 427.2 216.6 426.8 216.2 426.4 216.2 426.0 215.8 425.2 215.7 394.8 228.6 339.6 251.6 289.0 272.0 251.6 286.9Z"/><path fill-rule="evenodd" fill="#b7bd64" d="M252.4 284.4 251.6 283.6 251.2 283.5 250.8 283.1 250.4 283.1 249.6 282.3 249.2 282.3 248.4 281.5 248.0 281.5 247.2 280.7 247.2 279.6 246.8 279.2 246.8 274.4 246.4 274.0 246.4 269.6 246.0 269.2 246.0 265.2 245.6 264.8 245.6 260.8 245.2 260.4 245.1 256.4 244.7 256.0 244.7 253.2 244.3 252.8 244.3 248.8 243.9 248.4 243.9 245.2 243.5 244.8 243.5 241.6 243.1 241.2 243.1 238.0 242.7 237.6 242.7 233.6 242.3 233.2 242.3 228.0 241.9 227.6 241.9 220.8 241.5 220.4 241.4 204.0 431.6 204.0 431.6 215.4 431.2 215.0 430.8 215.0 430.4 214.6 430.0 214.6 429.6 214.2 429.2 214.2 428.8 213.8 428.4 213.8 428.0 213.4 427.6 213.4 427.2 213.0 426.4 212.8 393.6 226.8 334.1 251.6 284.7 271.6 252.4 284.4Z"/><path fill-rule="evenodd" fill="#c0bc60" d="M254.0 281.7 253.2 281.6 252.8 281.2 252.4 281.2 252.0 280.8 251.6 280.8 250.8 280.0 250.4 280.0 249.6 279.2 249.2 279.2 248.4 278.4 248.0 278.4 247.2 277.6 246.8 277.6 246.8 274.4 246.4 274.0 246.4 269.6 246.0 269.2 246.0 265.2 245.6 264.8 245.6 260.8 245.2 260.4 245.1 256.4 244.7 256.0 244.7 253.2 244.3 252.8 244.3 248.8 243.9 248.4 243.9 245.2 243.5 244.8 243.5 241.6 243.1 241.2 243.1 238.0 242.7 237.6 242.7 233.6 242.3 233.2 242.3 228.0 241.9 227.6 241.9 220.8 241.5 220.4 241.4 204.0 420.7 204.0 420.7 204.8 421.1 205.2 421.1 206.8 421.5 207.2 421.5 208.8 421.9 209.2 422.0 212.4 421.6 212.6 386.8 227.4 326.7 252.4 286.2 268.8 254.0 281.7Z"/><path fill-rule="evenodd" fill="#c8bc5d" d="M256.8 278.4 256.0 278.8 255.2 278.6 254.8 278.2 254.4 278.2 254.0 277.8 253.6 277.8 252.8 277.0 252.4 277.0 251.6 276.2 251.2 276.2 250.4 275.4 250.0 275.4 249.4 274.8 248.8 274.6 248.0 273.9 247.6 273.9 246.8 273.1 246.4 273.1 246.4 269.6 246.0 269.2 246.0 265.2 245.6 264.8 245.6 260.8 245.2 260.4 245.2 256.4 244.8 256.0 244.8 253.2 244.4 252.8 244.3 248.8 243.9 248.4 243.9 245.2 243.5 244.8 243.5 241.6 243.1 241.2 243.1 238.0 242.7 237.6 242.7 233.6 242.3 233.2 242.3 228.0 241.9 227.6 241.9 220.8 241.5 220.4 241.5 204.0 413.5 204.0 413.5 205.6 413.9 206.0 413.9 207.6 414.2 208.0 414.2 209.6 414.6 210.0 414.7 213.2 414.4 213.4 380.8 227.6 319.3 253.2 256.8 278.4Z"/><path fill-rule="evenodd" fill="#d1bb59" d="M258.4 275.7 257.6 276.0 256.8 275.8 256.4 275.4 256.0 275.4 255.6 275.0 255.2 275.0 254.8 274.6 254.4 274.6 254.0 274.2 253.6 274.2 253.2 273.8 252.8 273.8 252.4 273.4 252.0 273.4 251.6 273.0 251.2 273.0 250.8 272.6 249.6 272.1 249.2 271.7 248.8 271.7 248.0 270.9 247.6 270.9 247.2 270.5 246.8 270.5 246.4 270.1 246.4 269.6 246.0 269.2 246.0 265.2 245.6 264.8 245.6 260.8 245.2 260.4 245.2 256.4 244.8 256.0 244.8 253.2 244.4 252.8 244.3 248.8 243.9 248.4 243.9 245.2 243.5 244.8 243.5 241.6 243.1 241.2 243.1 238.0 242.7 237.6 242.7 233.6 242.3 233.2 242.3 228.0 241.9 227.6 241.9 220.8 241.5 220.4 241.5 204.0 407.2 204.0 407.2 206.4 407.4 206.8 407.4 214.0 378.8 226.1 312.8 253.6 258.4 275.7Z"/><path fill-rule="evenodd" fill="#d9ba56" d="M260.0 272.8 259.2 273.2 258.4 273.0 258.0 272.6 257.6 272.6 257.2 272.2 256.8 272.2 256.4 271.8 256.0 271.8 255.6 271.4 255.2 271.4 254.8 271.0 254.4 271.0 254.0 270.6 253.6 270.6 253.2 270.2 252.8 270.2 252.4 269.8 252.0 269.8 251.6 269.4 251.2 269.4 250.8 269.0 250.4 269.0 250.0 268.6 249.6 268.6 249.2 268.2 248.8 268.2 248.4 267.8 248.0 267.8 247.6 267.4 247.2 267.4 246.8 267.0 246.4 267.0 246.0 266.6 246.0 265.2 245.6 264.8 245.6 260.8 245.2 260.4 245.2 256.4 244.8 256.0 244.8 253.2 244.4 252.8 244.4 248.8 244.0 248.4 243.9 245.2 243.5 244.8 243.5 241.6 243.1 241.2 243.1 238.0 242.7 237.6 242.7 233.6 242.3 233.2 242.3 228.0 241.9 227.6 241.9 220.8 241.5 220.4 241.5 204.0 400.0 204.0 400.0 204.8 400.4 205.2 400.4 214.8 399.6 215.0 399.2 214.8 399.2 215.2 370.4 227.3 301.5 256.0 260.0 272.8Z"/><path fill-rule="evenodd" fill="#e1b952" d="M261.6 270.0 261.2 270.2 260.8 270.0 260.4 270.0 259.2 269.1 258.8 269.1 258.0 268.3 257.6 268.3 256.8 267.5 256.4 267.5 255.6 266.7 255.2 266.7 254.5 266.0 254.0 265.9 253.2 265.1 252.8 265.1 252.0 264.3 251.6 264.3 251.2 263.9 250.8 263.9 250.0 263.1 249.6 263.1 249.2 262.7 248.8 262.7 248.0 261.9 247.6 261.9 247.2 261.5 246.8 261.5 246.1 260.8 245.6 260.7 245.2 260.3 245.2 256.4 244.8 256.0 244.8 253.2 244.4 252.8 244.4 248.8 244.0 248.4 244.0 245.2 243.6 244.8 243.5 241.6 243.1 241.2 243.1 238.0 242.7 237.6 242.7 233.6 242.3 233.2 242.3 228.0 241.9 227.6 241.9 220.8 241.5 220.4 241.5 204.0 392.8 204.0 392.8 205.6 393.2 206.0 393.2 215.6 392.8 215.6 392.0 214.9 391.9 216.0 391.2 216.3 297.0 255.6 261.6 270.0Z"/><path fill-rule="evenodd" fill="#e9b94e" d="M262.8 267.4 262.4 267.1 262.0 267.1 261.6 266.7 261.2 266.7 260.8 266.3 260.4 266.3 259.6 265.5 259.2 265.5 258.4 264.7 258.0 264.7 257.2 263.9 256.8 263.9 256.1 263.2 255.6 263.1 254.8 262.3 254.4 262.3 253.6 261.5 253.2 261.5 252.8 261.1 252.4 261.1 251.6 260.3 251.2 260.3 250.8 259.9 250.4 259.9 249.6 259.1 249.2 259.1 248.8 258.7 248.4 258.7 247.6 257.9 247.2 257.9 246.8 257.5 246.4 257.5 245.6 256.7 245.2 256.7 245.2 256.4 244.8 256.0 244.8 253.2 244.4 252.8 244.4 248.8 244.0 248.4 244.0 245.2 243.6 244.8 243.6 241.6 243.2 241.2 243.2 238.0 242.8 237.6 242.7 233.6 242.3 233.2 242.3 228.0 241.9 227.6 241.9 220.8 241.5 220.4 241.5 204.0 382.4 204.0 382.4 204.4 382.8 204.8 382.8 206.8 383.2 207.2 383.2 209.2 383.6 209.6 383.6 211.2 384.0 211.6 384.0 213.2 384.4 213.6 384.4 214.4 384.7 214.8 384.6 216.8 289.6 256.4 262.8 267.4Z"/><path fill-rule="evenodd" fill="#f1b94a" d="M264.4 264.5 264.0 264.7 263.2 264.6 262.8 264.2 262.4 264.2 262.0 263.8 261.6 263.8 261.2 263.4 260.8 263.4 260.4 263.0 260.0 263.0 259.6 262.6 259.2 262.6 258.8 262.2 258.4 262.2 258.0 261.8 257.6 261.8 257.2 261.4 256.8 261.4 256.4 261.0 256.0 261.0 255.6 260.6 255.2 260.6 254.8 260.2 254.4 260.2 254.0 259.8 253.6 259.8 253.2 259.4 252.8 259.4 252.4 259.0 252.0 259.0 251.6 258.6 251.2 258.6 250.8 258.2 250.4 258.2 250.0 257.8 249.6 257.8 249.2 257.4 248.8 257.4 248.4 257.0 248.0 257.0 247.6 256.6 247.2 256.6 246.8 256.2 246.4 256.2 246.0 255.8 245.6 255.8 245.2 255.4 244.8 255.4 244.8 253.2 244.4 252.8 244.4 248.8 244.0 248.4 244.0 245.2 243.6 244.8 243.6 241.6 243.2 241.2 243.2 238.0 242.8 237.6 242.8 233.6 242.4 233.2 242.3 228.0 241.9 227.6 241.9 220.8 241.5 220.4 241.5 204.0 376.5 204.0 376.5 204.4 376.9 204.8 376.9 207.6 377.3 208.0 377.3 210.0 377.5 210.4 377.5 217.6 377.2 217.8 376.8 217.8 264.4 264.5Z"/><path fill-rule="evenodd" fill="#f8bb44" d="M266.0 261.6 265.6 261.8 264.8 261.7 264.4 261.3 264.0 261.3 263.6 260.9 263.2 260.9 262.8 260.5 262.4 260.5 262.0 260.1 261.6 260.1 261.2 259.7 260.8 259.7 260.4 259.3 260.0 259.3 259.6 258.9 259.2 258.9 258.8 258.5 258.3 258.4 258.0 258.1 257.6 258.0 257.2 257.6 256.8 257.6 256.0 256.8 255.6 256.8 255.2 256.4 254.8 256.4 254.0 255.6 253.6 255.6 253.2 255.2 252.8 255.2 252.0 254.4 251.6 254.4 251.2 254.0 250.8 254.0 250.0 253.4 248.8 252.8 248.0 252.2 247.6 252.2 247.2 251.8 246.8 251.8 246.4 251.4 246.0 251.4 245.2 250.6 244.8 250.6 244.4 250.2 244.4 248.8 244.0 248.4 244.0 245.2 243.6 244.8 243.6 241.6 243.2 241.2 243.2 238.0 242.8 237.6 242.8 233.6 242.4 233.2 242.3 228.0 241.9 227.6 241.9 220.8 241.5 220.4 241.5 204.0 369.3 204.0 369.3 205.2 369.7 205.6 369.7 208.4 370.1 208.8 370.1 210.8 370.2 211.2 370.2 218.4 370.0 218.5 369.6 218.6 311.0 242.8 266.0 261.6Z"/><path fill-rule="evenodd" fill="#fdbe3d" d="M267.2 258.9 266.8 258.7 266.4 258.7 266.0 258.3 265.6 258.3 265.2 257.9 264.8 257.9 264.4 257.5 264.0 257.5 263.6 257.1 263.2 257.1 262.8 256.7 262.4 256.7 262.0 256.3 261.6 256.3 261.2 255.9 260.8 255.9 260.4 255.5 260.0 255.5 259.6 255.1 259.2 255.1 258.8 254.7 258.4 254.7 258.0 254.3 257.6 254.3 257.2 253.9 256.8 253.9 256.4 253.5 256.0 253.5 255.6 253.1 255.2 253.1 254.8 252.7 254.4 252.7 254.0 252.3 253.6 252.3 253.2 251.9 252.8 251.9 252.4 251.5 252.0 251.5 251.6 251.1 251.2 251.1 250.8 250.7 250.4 250.7 250.0 250.3 249.6 250.3 249.2 249.9 248.8 249.9 248.4 249.5 248.0 249.5 247.6 249.1 247.2 249.1 246.8 248.7 246.4 248.7 246.0 248.3 245.6 248.3 245.2 247.9 244.8 247.9 244.4 247.5 244.0 247.5 244.0 245.2 243.6 244.8 243.6 241.6 243.2 241.2 243.2 238.0 242.8 237.6 242.8 233.6 242.4 233.2 242.4 228.0 242.0 227.6 241.9 220.8 241.5 220.4 241.5 204.0 362.5 204.0 362.5 206.0 362.9 206.4 362.9 209.6 362.9 218.8 362.8 219.3 362.4 219.4 362.0 219.1 361.8 219.2 361.8 219.6 302.6 244.0 267.2 258.9Z"/><path fill-rule="evenodd" fill="#ffc337" d="M268.4 256.0 267.6 256.0 267.2 255.6 266.8 255.6 266.4 255.2 266.0 255.2 265.6 254.8 265.2 254.8 264.8 254.4 264.4 254.4 264.0 254.0 263.6 254.0 263.2 253.6 262.8 253.6 262.4 253.2 262.0 253.2 261.6 252.8 261.2 252.8 260.8 252.4 260.4 252.4 260.0 252.0 259.6 252.0 259.2 251.6 258.8 251.6 258.4 251.2 258.0 251.2 257.6 250.8 257.2 250.8 256.8 250.4 256.4 250.4 256.0 250.0 255.6 250.0 255.2 249.6 254.8 249.6 254.4 249.2 254.0 249.2 253.6 248.8 253.2 248.8 252.8 248.4 252.4 248.4 252.0 248.0 251.6 248.0 251.2 247.6 250.8 247.6 250.4 247.2 250.0 247.2 249.6 246.8 249.2 246.8 248.8 246.4 248.4 246.4 248.0 246.0 247.6 246.0 247.2 245.6 246.8 245.6 246.4 245.2 246.0 245.2 245.6 244.8 245.2 244.8 244.8 244.4 244.4 244.4 244.0 244.0 243.6 244.0 243.6 241.6 243.2 241.2 243.2 238.0 242.8 237.6 242.8 233.6 242.4 233.2 242.4 228.0 242.0 227.6 242.0 220.8 241.6 220.4 241.5 204.0 355.2 204.0 355.2 206.8 355.6 207.2 355.7 219.6 355.6 220.1 355.2 220.1 354.8 219.8 354.6 220.0 354.6 220.4 296.1 244.4 268.4 256.0Z"/><path fill-rule="evenodd" fill="#fec832" d="M270.4 252.9 270.0 253.0 269.2 252.9 268.8 252.6 268.4 252.6 268.0 252.2 267.2 252.2 266.8 251.8 266.0 251.8 265.6 251.4 264.8 251.4 264.4 251.0 263.6 250.9 263.2 250.6 262.4 250.5 262.0 250.1 261.2 250.1 260.8 249.7 260.4 249.7 260.0 249.3 259.2 249.3 258.8 248.9 258.4 248.9 258.0 248.5 257.2 248.5 256.8 248.1 256.4 248.1 256.0 247.7 255.2 247.7 254.8 247.3 254.4 247.3 254.0 246.9 253.2 246.9 252.8 246.5 252.4 246.5 252.0 246.1 251.6 246.1 251.2 245.7 250.4 245.7 250.0 245.3 249.6 245.3 249.2 244.9 248.8 244.9 248.4 244.5 247.6 244.5 247.2 244.1 246.8 244.1 246.4 243.7 246.0 243.7 245.6 243.3 244.8 243.3 244.4 242.9 244.0 242.9 243.6 242.5 243.6 241.6 243.2 241.2 243.2 238.0 242.8 237.6 242.8 233.6 242.4 233.2 242.4 228.0 242.0 227.6 242.0 220.8 241.6 220.4 241.5 204.0 345.8 204.0 345.8 204.4 346.2 204.8 346.2 208.0 346.6 208.4 346.6 211.2 347.0 211.6 347.0 213.6 347.2 214.0 347.3 221.2 291.6 244.0 270.4 252.9Z"/><path fill-rule="evenodd" fill="#fcce2e" d="M271.6 250.0 271.2 250.2 270.4 250.1 270.0 249.7 269.6 249.7 269.2 249.3 268.8 249.3 268.4 248.9 268.0 248.9 267.6 248.5 267.2 248.5 266.8 248.1 266.4 248.1 266.0 247.7 265.6 247.7 265.2 247.3 264.8 247.3 264.4 246.9 264.0 246.9 263.6 246.5 263.2 246.5 262.8 246.1 262.4 246.1 262.0 245.7 261.6 245.7 261.2 245.3 260.8 245.3 260.4 244.9 260.0 244.9 259.6 244.5 259.2 244.5 258.8 244.1 258.4 244.1 258.0 243.7 257.6 243.7 257.2 243.3 256.8 243.3 256.4 242.9 256.0 242.9 255.6 242.5 255.2 242.5 254.8 242.1 254.4 242.1 254.0 241.7 253.6 241.7 253.2 241.3 252.8 241.3 252.4 240.9 252.0 240.9 251.6 240.5 251.2 240.5 250.8 240.1 250.4 240.1 250.0 239.7 249.6 239.7 249.2 239.3 248.8 239.3 248.4 238.9 248.0 238.9 247.6 238.5 247.2 238.5 246.8 238.1 246.4 238.1 246.0 237.7 245.6 237.7 245.2 237.3 244.8 237.3 244.4 236.9 244.0 236.9 243.6 236.5 243.2 236.5 242.8 236.1 242.8 233.6 242.4 233.2 242.4 228.0 242.0 227.6 242.0 220.8 241.6 220.4 241.5 204.0 338.6 204.0 338.6 205.2 339.0 205.6 339.0 208.8 339.3 209.2 339.3 212.0 339.7 212.4 339.7 214.4 340.0 214.8 340.0 222.0 286.1 244.0 271.6 250.0Z"/><path fill-rule="evenodd" fill="#fad32a" d="M273.6 246.9 272.8 247.2 272.0 247.0 271.6 246.6 271.2 246.6 270.8 246.2 270.4 246.2 270.0 245.8 269.6 245.8 269.2 245.4 268.8 245.4 268.4 245.0 268.0 245.0 267.6 244.6 267.2 244.6 266.8 244.2 266.4 244.2 266.0 243.8 265.6 243.8 265.2 243.4 264.8 243.4 264.4 243.0 264.0 243.0 263.6 242.6 263.2 242.6 262.8 242.2 262.4 242.2 262.0 241.8 261.6 241.8 261.2 241.4 260.8 241.4 260.4 241.0 260.0 241.0 259.6 240.6 259.2 240.6 258.8 240.2 258.4 240.2 258.0 239.8 257.6 239.8 257.2 239.4 256.8 239.4 256.4 239.0 256.0 239.0 255.6 238.6 255.2 238.6 254.8 238.2 254.4 238.2 254.0 237.8 253.6 237.8 253.2 237.4 252.8 237.4 252.4 237.0 252.0 237.0 251.6 236.6 251.2 236.6 250.8 236.2 250.4 236.2 250.0 235.8 249.6 235.8 249.2 235.4 248.8 235.4 248.4 235.0 248.0 235.0 247.6 234.6 247.2 234.6 246.8 234.2 246.4 234.2 246.0 233.8 245.6 233.8 245.2 233.4 244.8 233.4 244.4 233.0 244.0 233.0 243.6 232.6 243.2 232.6 242.8 232.2 242.4 232.2 242.4 228.0 242.0 227.6 242.0 220.8 241.6 220.4 241.6 204.0 331.7 204.0 331.7 206.0 332.1 206.4 332.1 209.6 332.5 210.0 332.5 212.8 332.7 213.2 332.7 222.4 332.4 223.0 273.6 246.9Z"/><path fill-rule="evenodd" fill="#f7d826" d="M274.0 244.4 273.2 244.4 272.8 244.0 272.4 244.0 272.0 243.6 271.6 243.6 271.2 243.2 270.8 243.2 270.4 242.8 270.0 242.8 269.6 242.4 269.2 242.4 268.8 242.0 268.4 242.0 268.0 241.6 267.6 241.6 267.2 241.2 266.8 241.2 266.4 240.8 266.0 240.8 265.6 240.4 265.2 240.4 264.8 240.0 264.4 240.0 264.0 239.6 263.6 239.6 263.2 239.2 262.8 239.2 262.4 238.8 262.0 238.8 261.6 238.4 261.2 238.4 260.8 238.0 260.4 238.0 260.0 237.6 259.6 237.6 259.2 237.2 258.8 237.2 258.4 236.8 258.0 236.8 257.6 236.4 257.2 236.4 256.8 236.0 256.4 236.0 256.0 235.6 255.6 235.6 255.2 235.2 254.8 235.2 254.4 234.8 254.0 234.8 253.6 234.4 253.2 234.4 252.8 234.0 252.4 234.0 252.0 233.6 251.6 233.6 251.2 233.2 250.8 233.2 250.4 232.8 250.0 232.8 249.6 232.4 249.2 232.4 248.8 232.0 248.4 232.0 248.0 231.6 247.6 231.6 247.2 231.2 246.8 231.2 246.4 230.8 246.0 230.8 245.6 230.4 245.2 230.4 244.8 230.0 244.4 230.0 244.0 229.6 243.6 229.6 243.2 229.2 242.8 229.2 242.4 228.8 242.4 228.0 242.0 227.6 242.0 220.8 241.6 220.4 241.6 204.0 322.3 204.0 322.3 207.2 322.7 207.6 322.7 210.8 323.1 211.2 323.1 213.6 323.5 214.0 323.5 216.4 323.9 216.8 323.9 218.4 324.2 218.8 324.2 220.4 324.5 220.8 324.5 224.0 274.0 244.4Z"/><path fill-rule="evenodd" fill="#f5de21" d="M276.4 241.2 276.0 241.4 275.6 241.2 275.2 241.2 274.8 240.8 274.4 240.8 274.0 240.4 273.6 240.4 273.2 240.0 272.8 240.0 272.4 239.6 272.0 239.6 271.6 239.2 271.2 239.2 270.8 238.8 270.4 238.8 270.0 238.4 269.6 238.4 269.2 238.0 268.8 238.0 268.4 237.6 268.0 237.6 267.6 237.2 267.2 237.2 266.8 236.8 266.4 236.8 266.0 236.4 265.6 236.4 265.2 236.0 264.8 236.0 264.4 235.6 264.0 235.6 263.6 235.2 263.2 235.2 262.8 234.8 262.4 234.8 262.0 234.4 261.6 234.4 261.2 234.0 260.8 234.0 260.0 233.3 258.8 232.8 258.0 232.1 257.6 232.1 257.2 231.7 256.8 231.7 256.4 231.3 256.0 231.3 255.2 230.5 254.8 230.5 254.4 230.1 254.0 230.1 253.6 229.7 253.2 229.7 252.4 228.9 252.0 228.9 251.6 228.5 251.2 228.5 250.8 228.1 250.4 228.1 249.6 227.3 249.2 227.3 248.8 226.9 248.4 226.9 248.0 226.5 247.6 226.5 246.8 225.8 246.4 225.7 246.0 225.4 245.6 225.3 245.2 225.0 244.8 224.9 244.0 224.2 243.6 224.2 243.2 223.8 242.8 223.8 242.4 223.4 242.0 223.4 242.0 220.8 241.6 220.4 241.6 204.0 318.0 204.0 318.4 204.4 318.4 224.5 318.0 224.5 317.6 224.2 317.2 224.4 317.2 224.8 316.4 225.2 276.4 241.2Z"/><path fill-rule="evenodd" fill="#f5e41d" d="M277.6 238.6 277.2 238.3 276.8 238.3 276.4 237.9 276.0 237.9 275.6 237.5 275.2 237.5 274.8 237.1 274.4 237.1 274.0 236.7 273.6 236.7 273.2 236.3 272.8 236.3 272.4 235.9 272.0 235.9 271.6 235.5 271.2 235.5 270.8 235.1 269.6 234.5 269.2 234.1 268.8 234.1 268.0 233.3 267.6 233.3 267.2 232.9 266.8 232.9 266.0 232.1 265.6 232.1 265.2 231.7 264.8 231.7 264.0 230.9 263.6 230.9 263.2 230.5 262.8 230.5 262.0 229.8 260.8 229.3 260.0 228.6 259.6 228.6 259.2 228.2 258.8 228.2 258.4 227.8 258.0 227.8 257.2 227.0 256.8 227.0 256.4 226.6 256.0 226.6 255.6 226.2 255.2 226.2 254.4 225.4 254.0 225.4 253.6 225.0 253.2 225.0 252.8 224.6 252.4 224.6 251.6 223.8 251.2 223.8 250.8 223.4 250.4 223.4 250.0 223.0 249.6 223.0 248.8 222.2 248.4 222.2 248.0 221.8 247.6 221.8 247.2 221.4 246.8 221.4 246.0 220.6 245.6 220.6 245.2 220.2 244.8 220.2 244.4 219.8 244.0 219.8 243.2 219.0 242.8 219.0 242.4 218.6 242.0 218.6 241.6 218.2 241.6 204.0 307.8 204.0 307.8 206.0 308.2 206.4 308.2 209.2 308.6 209.6 308.6 212.4 309.0 212.8 309.0 215.6 309.4 216.0 309.4 218.0 309.7 218.4 309.7 220.0 310.0 220.4 310.0 225.6 277.6 238.6Z"/><path fill-rule="evenodd" fill="#f5eb18" d="M279.2 235.8 278.8 235.5 278.4 235.5 278.0 235.1 277.6 235.1 277.2 234.7 276.8 234.7 276.4 234.3 276.0 234.3 275.6 233.9 275.2 233.9 274.8 233.5 274.4 233.5 274.0 233.1 273.6 233.1 273.2 232.7 272.8 232.7 272.4 232.3 271.2 231.7 270.8 231.3 270.4 231.3 269.6 230.5 269.2 230.5 268.8 230.1 268.4 230.1 267.6 229.3 267.2 229.3 266.8 228.9 266.4 228.9 265.6 228.1 265.2 228.1 264.8 227.7 264.4 227.7 263.6 226.9 263.2 226.9 262.8 226.5 262.4 226.5 261.6 225.7 261.2 225.7 260.8 225.3 260.4 225.3 259.6 224.5 259.2 224.5 258.8 224.1 258.4 224.1 257.6 223.3 257.2 223.3 256.8 222.9 256.4 222.9 255.6 222.1 255.2 222.1 254.8 221.7 254.4 221.7 253.6 220.9 253.2 220.9 252.8 220.5 252.4 220.5 251.6 219.7 251.2 219.7 250.8 219.3 250.4 219.3 249.6 218.5 249.2 218.5 248.8 218.1 248.4 218.1 247.6 217.3 247.2 217.3 246.8 216.9 246.4 216.9 245.6 216.1 245.2 216.1 244.8 215.7 244.4 215.7 243.6 214.9 243.2 214.9 242.8 214.5 242.4 214.5 241.6 213.7 241.6 204.0 301.0 204.0 301.0 206.0 301.4 206.4 301.4 209.6 301.8 210.0 301.8 213.2 302.2 213.6 302.2 216.4 302.4 216.8 302.4 226.0 302.2 226.4 302.0 226.7 279.2 235.8Z"/><path fill-rule="evenodd" fill="#f6f313" d="M281.2 232.8 280.8 233.0 280.0 232.9 279.6 232.5 279.2 232.5 278.8 232.1 278.4 232.1 277.6 231.3 277.2 231.3 276.4 230.5 276.0 230.5 275.2 229.7 274.8 229.7 274.3 229.2 273.6 228.9 272.8 228.2 272.4 228.2 271.6 227.4 271.2 227.4 270.8 227.0 270.4 227.0 269.6 226.2 269.2 226.2 268.8 225.8 268.4 225.8 267.6 225.0 267.2 225.0 266.8 224.6 266.4 224.6 265.6 223.8 265.2 223.8 264.8 223.4 264.4 223.4 263.6 222.6 263.2 222.6 262.8 222.2 262.4 222.2 261.6 221.4 261.2 221.4 260.8 221.0 260.4 221.0 259.6 220.2 259.2 220.2 258.8 219.8 258.4 219.8 257.6 219.0 257.2 219.0 256.8 218.6 256.4 218.6 255.6 217.8 255.2 217.8 254.8 217.4 254.4 217.4 253.6 216.6 253.2 216.6 252.8 216.2 252.4 216.2 251.6 215.4 251.2 215.4 250.8 215.0 250.2 214.8 249.6 214.2 248.4 213.7 247.6 213.0 247.2 212.9 246.8 212.5 246.4 212.5 245.6 211.7 245.2 211.7 244.8 211.3 244.4 211.3 243.6 210.5 243.2 210.5 242.4 209.7 242.0 209.7 241.6 209.3 241.6 204.0 291.6 204.0 291.6 207.2 292.0 207.6 292.0 210.8 292.4 211.2 292.4 214.4 292.8 214.8 292.8 217.2 293.2 217.6 293.2 220.0 293.6 220.4 293.6 222.0 293.9 222.4 293.9 224.0 294.3 224.4 294.3 225.2 294.5 225.6 294.4 227.6 281.2 232.8Z"/><path fill-rule="evenodd" fill="#f9fb0e" d="M282.8 230.1 282.4 229.9 282.0 229.9 281.6 229.5 281.2 229.4 280.8 229.0 280.4 229.0 279.6 228.2 279.2 228.2 278.4 227.4 278.0 227.4 277.2 226.6 276.8 226.6 276.0 225.8 275.6 225.8 274.8 225.0 274.4 225.0 273.6 224.2 273.2 224.2 272.4 223.4 272.0 223.4 271.2 222.6 270.8 222.6 270.0 221.8 269.6 221.8 268.8 221.0 268.4 221.0 267.6 220.2 267.2 220.2 266.4 219.4 266.0 219.4 265.2 218.6 264.8 218.6 264.0 217.8 263.6 217.8 262.8 217.0 262.4 217.0 261.6 216.2 261.2 216.2 260.4 215.4 260.0 215.4 259.2 214.6 258.8 214.6 258.0 213.8 257.6 213.8 256.8 213.0 256.4 213.0 255.6 212.2 255.2 212.2 254.4 211.4 254.0 211.4 253.2 210.6 252.8 210.6 252.0 209.8 251.6 209.8 250.8 209.0 250.4 209.0 249.6 208.2 249.2 208.2 248.4 207.4 248.0 207.4 247.2 206.6 246.8 206.6 246.0 205.8 245.6 205.8 244.8 205.0 244.4 205.0 243.6 204.2 243.2 204.2 243.0 204.0 286.5 204.0 286.9 204.4 286.9 207.6 287.3 208.0 287.3 211.2 287.7 211.6 287.7 214.8 288.1 215.2 288.2 227.6 288.0 228.2 287.6 228.2 287.2 228.0 287.2 228.4 282.8 230.1Z"/></g>
<path d="M58.4 152.1 202.3 70 427.3 145.2 283.5 227.4Z" fill="#f9fb0e"/>
<g stroke-linecap="round"><line x1="58.4" y1="152.1" x2="202.3" y2="70" stroke="#000" stroke-width="1.1"/><line x1="283.5" y1="227.4" x2="58.4" y2="152.1" stroke="#000" stroke-width="1.1"/><line x1="67.8" y1="155.2" x2="211.7" y2="73.1" stroke="#000" stroke-width="1.1"/><line x1="289.5" y1="223.9" x2="64.4" y2="148.7" stroke="#000" stroke-width="1.1"/><line x1="77.2" y1="158.4" x2="221.1" y2="76.2" stroke="#000" stroke-width="1.1"/><line x1="295.5" y1="220.5" x2="70.4" y2="145.3" stroke="#000" stroke-width="1.1"/><line x1="86.6" y1="161.5" x2="230.5" y2="79.4" stroke="#000" stroke-width="1.1"/><line x1="301.5" y1="217.1" x2="76.4" y2="141.8" stroke="#000" stroke-width="1.1"/><line x1="95.9" y1="164.6" x2="239.8" y2="82.5" stroke="#000" stroke-width="1.1"/><line x1="307.4" y1="213.7" x2="82.4" y2="138.4" stroke="#000" stroke-width="1.1"/><line x1="105.3" y1="167.8" x2="249.2" y2="85.6" stroke="#000" stroke-width="1.1"/><line x1="313.4" y1="210.3" x2="88.4" y2="135" stroke="#000" stroke-width="1.1"/><line x1="114.7" y1="170.9" x2="258.6" y2="88.8" stroke="#000" stroke-width="1.1"/><line x1="319.4" y1="206.8" x2="94.4" y2="131.6" stroke="#000" stroke-width="1.1"/><line x1="124.1" y1="174.1" x2="268" y2="91.9" stroke="#000" stroke-width="1.1"/><line x1="325.4" y1="203.4" x2="100.4" y2="128.1" stroke="#000" stroke-width="1.1"/><line x1="133.5" y1="177.2" x2="277.3" y2="95" stroke="#000" stroke-width="1.1"/><line x1="331.4" y1="200" x2="106.4" y2="124.7" stroke="#000" stroke-width="1.1"/><line x1="142.8" y1="180.3" x2="286.7" y2="98.2" stroke="#000" stroke-width="1.1"/><line x1="337.4" y1="196.6" x2="112.4" y2="121.3" stroke="#000" stroke-width="1.1"/><line x1="152.2" y1="183.5" x2="296.1" y2="101.3" stroke="#000" stroke-width="1.1"/><line x1="343.4" y1="193.1" x2="118.4" y2="117.9" stroke="#000" stroke-width="1.1"/><line x1="161.6" y1="186.6" x2="305.5" y2="104.5" stroke="#000" stroke-width="1.1"/><line x1="349.4" y1="189.7" x2="124.4" y2="114.5" stroke="#000" stroke-width="1.1"/><line x1="171" y1="189.7" x2="314.8" y2="107.6" stroke="#000" stroke-width="1.1"/><line x1="355.4" y1="186.3" x2="130.4" y2="111" stroke="#000" stroke-width="1.1"/><line x1="180.3" y1="192.9" x2="324.2" y2="110.7" stroke="#000" stroke-width="1.1"/><line x1="361.4" y1="182.9" x2="136.4" y2="107.6" stroke="#000" stroke-width="1.1"/><line x1="189.7" y1="196" x2="333.6" y2="113.9" stroke="#000" stroke-width="1.1"/><line x1="367.4" y1="179.4" x2="142.4" y2="104.2" stroke="#000" stroke-width="1.1"/><line x1="199.1" y1="199.1" x2="343" y2="117" stroke="#000" stroke-width="1.1"/><line x1="373.4" y1="176" x2="148.4" y2="100.8" stroke="#000" stroke-width="1.1"/><line x1="208.5" y1="202.3" x2="352.3" y2="120.1" stroke="#000" stroke-width="1.1"/><line x1="379.4" y1="172.6" x2="154.4" y2="97.3" stroke="#000" stroke-width="1.1"/><line x1="217.8" y1="205.4" x2="361.7" y2="123.3" stroke="#000" stroke-width="1.1"/><line x1="385.4" y1="169.2" x2="160.4" y2="93.9" stroke="#000" stroke-width="1.1"/><line x1="227.2" y1="208.6" x2="371.1" y2="126.4" stroke="#000" stroke-width="1.1"/><line x1="391.4" y1="165.8" x2="166.4" y2="90.5" stroke="#000" stroke-width="1.1"/><line x1="236.6" y1="211.7" x2="380.5" y2="129.5" stroke="#000" stroke-width="1.1"/><line x1="397.4" y1="162.3" x2="172.4" y2="87.1" stroke="#000" stroke-width="1.1"/><line x1="246" y1="214.8" x2="389.8" y2="132.7" stroke="#000" stroke-width="1.1"/><line x1="403.4" y1="158.9" x2="178.3" y2="83.6" stroke="#000" stroke-width="1.1"/><line x1="255.3" y1="218" x2="399.2" y2="135.8" stroke="#000" stroke-width="1.1"/><line x1="409.4" y1="155.5" x2="184.3" y2="80.2" stroke="#000" stroke-width="1.1"/><line x1="264.7" y1="221.1" x2="408.6" y2="138.9" stroke="#000" stroke-width="1.1"/><line x1="415.4" y1="152.1" x2="190.3" y2="76.8" stroke="#000" stroke-width="1.1"/><line x1="274.1" y1="224.2" x2="418" y2="142.1" stroke="#000" stroke-width="1.1"/><line x1="421.4" y1="148.6" x2="196.3" y2="73.4" stroke="#000" stroke-width="1.1"/><line x1="283.5" y1="227.4" x2="427.3" y2="145.2" stroke="#000" stroke-width="1.1"/><line x1="427.3" y1="145.2" x2="202.3" y2="70" stroke="#000" stroke-width="1.1"/></g>
<g><line x1="52.5" y1="375.9" x2="52.5" y2="111.3" stroke="#262626" stroke-width="1.15"/><line x1="52.6" y1="375.9" x2="287" y2="454.3" stroke="#262626" stroke-width="1.15"/><line x1="287" y1="454.3" x2="466.7" y2="351.7" stroke="#262626" stroke-width="1.15"/><line x1="52.6" y1="375.9" x2="46.3" y2="373.8" stroke="#262626" stroke-width="1.15"/><line x1="52.6" y1="331.8" x2="46.3" y2="329.7" stroke="#262626" stroke-width="1.15"/><line x1="52.6" y1="287.7" x2="46.3" y2="285.6" stroke="#262626" stroke-width="1.15"/><line x1="52.6" y1="243.6" x2="46.3" y2="241.5" stroke="#262626" stroke-width="1.15"/><line x1="52.6" y1="199.5" x2="46.3" y2="197.4" stroke="#262626" stroke-width="1.15"/><line x1="52.6" y1="155.4" x2="46.3" y2="153.3" stroke="#262626" stroke-width="1.15"/><line x1="52.6" y1="111.3" x2="46.3" y2="109.3" stroke="#262626" stroke-width="1.15"/><line x1="287" y1="454.3" x2="281.3" y2="457.6" stroke="#262626" stroke-width="1.15"/><line x1="240.1" y1="438.6" x2="234.4" y2="441.9" stroke="#262626" stroke-width="1.15"/><line x1="193.2" y1="422.9" x2="187.5" y2="426.2" stroke="#262626" stroke-width="1.15"/><line x1="146.4" y1="407.3" x2="140.6" y2="410.5" stroke="#262626" stroke-width="1.15"/><line x1="99.5" y1="391.6" x2="93.7" y2="394.9" stroke="#262626" stroke-width="1.15"/><line x1="52.6" y1="375.9" x2="46.9" y2="379.2" stroke="#262626" stroke-width="1.15"/><line x1="287" y1="454.3" x2="293.3" y2="456.4" stroke="#262626" stroke-width="1.15"/><line x1="316.8" y1="437.3" x2="323.1" y2="439.4" stroke="#262626" stroke-width="1.15"/><line x1="346.8" y1="420.2" x2="353.1" y2="422.3" stroke="#262626" stroke-width="1.15"/><line x1="376.8" y1="403" x2="383" y2="405.1" stroke="#262626" stroke-width="1.15"/><line x1="406.8" y1="385.9" x2="413" y2="388" stroke="#262626" stroke-width="1.15"/><line x1="436.7" y1="368.8" x2="443" y2="370.9" stroke="#262626" stroke-width="1.15"/></g>
<g font-size="14" fill="#262626"><text x="40.1" y="373.4" text-anchor="end" dominant-baseline="central">0.9</text><text x="40.1" y="329.3" text-anchor="end" dominant-baseline="central">0.92</text><text x="40.1" y="285.2" text-anchor="end" dominant-baseline="central">0.94</text><text x="40.1" y="241.1" text-anchor="end" dominant-baseline="central">0.96</text><text x="40.1" y="197" text-anchor="end" dominant-baseline="central">0.98</text><text x="40.1" y="152.9" text-anchor="end" dominant-baseline="central">1</text><text x="40.1" y="108.9" text-anchor="end" dominant-baseline="central">1.02</text><text x="275.3" y="470.2" text-anchor="end" dominant-baseline="central">0</text><text x="228.4" y="454.5" text-anchor="end" dominant-baseline="central">5</text><text x="181.5" y="438.8" text-anchor="end" dominant-baseline="central">10</text><text x="134.6" y="423.1" text-anchor="end" dominant-baseline="central">15</text><text x="87.7" y="407.5" text-anchor="end" dominant-baseline="central">20</text><text x="40.9" y="391.8" text-anchor="end" dominant-baseline="central">25</text><text x="298.5" y="468" text-anchor="start" dominant-baseline="central">1</text><text x="328.3" y="451" text-anchor="start" dominant-baseline="central">200</text><text x="358.3" y="433.9" text-anchor="start" dominant-baseline="central">400</text><text x="388.2" y="416.7" text-anchor="start" dominant-baseline="central">600</text><text x="418.2" y="399.6" text-anchor="start" dominant-baseline="central">800</text><text x="448.2" y="382.5" text-anchor="start" dominant-baseline="central">1000</text></g>
<g font-size="15.6" fill="#262626"><text text-anchor="middle" dominant-baseline="central" transform="translate(141.5 454.5) rotate(20)">Squint angle</text><text text-anchor="middle" dominant-baseline="central" transform="translate(410.7 449) rotate(-38)">Offset</text></g>
<g><defs><linearGradient id="cbg" x1="0" y1="1" x2="0" y2="0"><stop offset="0.0000" stop-color="#352a87"/><stop offset="0.0156" stop-color="#352a87"/><stop offset="0.0156" stop-color="#363093"/><stop offset="0.0312" stop-color="#363093"/><stop offset="0.0312" stop-color="#3637a0"/><stop offset="0.0469" stop-color="#3637a0"/><stop offset="0.0469" stop-color="#353dad"/><stop offset="0.0625" stop-color="#353dad"/><stop offset="0.0625" stop-color="#3243ba"/><stop offset="0.0781" stop-color="#3243ba"/><stop offset="0.0781" stop-color="#2c4ac7"/><stop offset="0.0938" stop-color="#2c4ac7"/><stop offset="0.0938" stop-color="#2053d4"/><stop offset="0.1094" stop-color="#2053d4"/><stop offset="0.1094" stop-color="#0f5cdd"/><stop offset="0.1250" stop-color="#0f5cdd"/><stop offset="0.1250" stop-color="#0363e1"/><stop offset="0.1406" stop-color="#0363e1"/><stop offset="0.1406" stop-color="#0268e1"/><stop offset="0.1562" stop-color="#0268e1"/><stop offset="0.1562" stop-color="#046de0"/><stop offset="0.1719" stop-color="#046de0"/><stop offset="0.1719" stop-color="#0871de"/><stop offset="0.1875" stop-color="#0871de"/><stop offset="0.1875" stop-color="#0d75dc"/><stop offset="0.2031" stop-color="#0d75dc"/><stop offset="0.2031" stop-color="#1079da"/><stop offset="0.2188" stop-color="#1079da"/><stop offset="0.2188" stop-color="#127dd8"/><stop offset="0.2344" stop-color="#127dd8"/><stop offset="0.2344" stop-color="#1481d6"/><stop offset="0.2500" stop-color="#1481d6"/><stop offset="0.2500" stop-color="#1485d4"/><stop offset="0.2656" stop-color="#1485d4"/><stop offset="0.2656" stop-color="#1389d3"/><stop offset="0.2812" stop-color="#1389d3"/><stop offset="0.2812" stop-color="#108ed2"/><stop offset="0.2969" stop-color="#108ed2"/><stop offset="0.2969" stop-color="#0c93d2"/><stop offset="0.3125" stop-color="#0c93d2"/><stop offset="0.3125" stop-color="#0998d1"/><stop offset="0.3281" stop-color="#0998d1"/><stop offset="0.3281" stop-color="#079ccf"/><stop offset="0.3438" stop-color="#079ccf"/><stop offset="0.3438" stop-color="#06a0cd"/><stop offset="0.3594" stop-color="#06a0cd"/><stop offset="0.3594" stop-color="#06a4ca"/><stop offset="0.3750" stop-color="#06a4ca"/><stop offset="0.3750" stop-color="#06a7c6"/><stop offset="0.3906" stop-color="#06a7c6"/><stop offset="0.3906" stop-color="#07a9c2"/><stop offset="0.4062" stop-color="#07a9c2"/><stop offset="0.4062" stop-color="#0aacbe"/><stop offset="0.4219" stop-color="#0aacbe"/><stop offset="0.4219" stop-color="#0faeb9"/><stop offset="0.4375" stop-color="#0faeb9"/><stop offset="0.4375" stop-color="#15b1b4"/><stop offset="0.4531" stop-color="#15b1b4"/><stop offset="0.4531" stop-color="#1db3af"/><stop offset="0.4688" stop-color="#1db3af"/><stop offset="0.4688" stop-color="#25b5a9"/><stop offset="0.4844" stop-color="#25b5a9"/><stop offset="0.4844" stop-color="#2eb7a4"/><stop offset="0.5000" stop-color="#2eb7a4"/><stop offset="0.5000" stop-color="#38b99e"/><stop offset="0.5156" stop-color="#38b99e"/><stop offset="0.5156" stop-color="#42bb98"/><stop offset="0.5312" stop-color="#42bb98"/><stop offset="0.5312" stop-color="#4dbc92"/><stop offset="0.5469" stop-color="#4dbc92"/><stop offset="0.5469" stop-color="#59bd8c"/><stop offset="0.5625" stop-color="#59bd8c"/><stop offset="0.5625" stop-color="#65be86"/><stop offset="0.5781" stop-color="#65be86"/><stop offset="0.5781" stop-color="#71bf80"/><stop offset="0.5938" stop-color="#71bf80"/><stop offset="0.5938" stop-color="#7cbf7b"/><stop offset="0.6094" stop-color="#7cbf7b"/><stop offset="0.6094" stop-color="#87bf77"/><stop offset="0.6250" stop-color="#87bf77"/><stop offset="0.6250" stop-color="#92bf73"/><stop offset="0.6406" stop-color="#92bf73"/><stop offset="0.6406" stop-color="#9cbf6f"/><stop offset="0.6562" stop-color="#9cbf6f"/><stop offset="0.6562" stop-color="#a5be6b"/><stop offset="0.6719" stop-color="#a5be6b"/><stop offset="0.6719" stop-color="#aebe67"/><stop offset="0.6875" stop-color="#aebe67"/><stop offset="0.6875" stop-color="#b7bd64"/><stop offset="0.7031" stop-color="#b7bd64"/><stop offset="0.7031" stop-color="#c0bc60"/><stop offset="0.7188" stop-color="#c0bc60"/><stop offset="0.7188" stop-color="#c8bc5d"/><stop offset="0.7344" stop-color="#c8bc5d"/><stop offset="0.7344" stop-color="#d1bb59"/><stop offset="0.7500" stop-color="#d1bb59"/><stop offset="0.7500" stop-color="#d9ba56"/><stop offset="0.7656" stop-color="#d9ba56"/><stop offset="0.7656" stop-color="#e1b952"/><stop offset="0.7812" stop-color="#e1b952"/><stop offset="0.7812" stop-color="#e9b94e"/><stop offset="0.7969" stop-color="#e9b94e"/><stop offset="0.7969" stop-color="#f1b94a"/><stop offset="0.8125" stop-color="#f1b94a"/><stop offset="0.8125" stop-color="#f8bb44"/><stop offset="0.8281" stop-color="#f8bb44"/><stop offset="0.8281" stop-color="#fdbe3d"/><stop offset="0.8438" stop-color="#fdbe3d"/><stop offset="0.8438" stop-color="#ffc337"/><stop offset="0.8594" stop-color="#ffc337"/><stop offset="0.8594" stop-color="#fec832"/><stop offset="0.8750" stop-color="#fec832"/><stop offset="0.8750" stop-color="#fcce2e"/><stop offset="0.8906" stop-color="#fcce2e"/><stop offset="0.8906" stop-color="#fad32a"/><stop offset="0.9062" stop-color="#fad32a"/><stop offset="0.9062" stop-color="#f7d826"/><stop offset="0.9219" stop-color="#f7d826"/><stop offset="0.9219" stop-color="#f5de21"/><stop offset="0.9375" stop-color="#f5de21"/><stop offset="0.9375" stop-color="#f5e41d"/><stop offset="0.9531" stop-color="#f5e41d"/><stop offset="0.9531" stop-color="#f5eb18"/><stop offset="0.9688" stop-color="#f5eb18"/><stop offset="0.9688" stop-color="#f6f313"/><stop offset="0.9844" stop-color="#f6f313"/><stop offset="0.9844" stop-color="#f9fb0e"/><stop offset="1.0000" stop-color="#f9fb0e"/></linearGradient></defs><rect x="484.5" y="18.7" width="25.9" height="457.8" fill="url(#cbg)"/></g>
<rect x="484.5" y="18.7" width="25.9" height="457.8" fill="none" stroke="#262626" stroke-width="1"/>
<g font-size="12.4" fill="#262626"><line x1="510.4" y1="438.3" x2="505.4" y2="438.3" stroke="#262626" stroke-width="1"/><text x="516.4" y="438.6" dominant-baseline="central">0.91</text><line x1="510.4" y1="391.7" x2="505.4" y2="391.7" stroke="#262626" stroke-width="1"/><text x="516.4" y="392" dominant-baseline="central">0.92</text><line x1="510.4" y1="345" x2="505.4" y2="345" stroke="#262626" stroke-width="1"/><text x="516.4" y="345.3" dominant-baseline="central">0.93</text><line x1="510.4" y1="298.4" x2="505.4" y2="298.4" stroke="#262626" stroke-width="1"/><text x="516.4" y="298.7" dominant-baseline="central">0.94</text><line x1="510.4" y1="251.8" x2="505.4" y2="251.8" stroke="#262626" stroke-width="1"/><text x="516.4" y="252.1" dominant-baseline="central">0.95</text><line x1="510.4" y1="205.2" x2="505.4" y2="205.2" stroke="#262626" stroke-width="1"/><text x="516.4" y="205.5" dominant-baseline="central">0.96</text><line x1="510.4" y1="158.6" x2="505.4" y2="158.6" stroke="#262626" stroke-width="1"/><text x="516.4" y="158.9" dominant-baseline="central">0.97</text><line x1="510.4" y1="111.9" x2="505.4" y2="111.9" stroke="#262626" stroke-width="1"/><text x="516.4" y="112.2" dominant-baseline="central">0.98</text><line x1="510.4" y1="65.3" x2="505.4" y2="65.3" stroke="#262626" stroke-width="1"/><text x="516.4" y="65.6" dominant-baseline="central">0.99</text><line x1="510.4" y1="18.7" x2="505.4" y2="18.7" stroke="#262626" stroke-width="1"/><text x="516.4" y="19" dominant-baseline="central">1</text></g>
<line x1="309.6" y1="68.4" x2="299" y2="114" stroke="#ff0000" stroke-width="2.6"/><path d="M296.1 126.7 L293.9 111.8 L298.8 115 L304.6 114.3 Z" fill="#ff0000"/>
<line x1="288" y1="363.6" x2="278.7" y2="316.7" stroke="#ff0000" stroke-width="2.6"/><path d="M276.2 303.9 L284.3 316.6 L278.5 315.7 L273.5 318.7 Z" fill="#ff0000"/>
<rect x="267.7" y="17.8" width="129.1" height="50.7" fill="#00ffff"/><text x="273.8" y="39.8" font-size="18" fill="#ff0000">Phase error of</text><text x="273.8" y="63.4" font-size="18" fill="#ff0000">Block_FFBP</text>
<rect x="217.0" y="363.6" width="129.0" height="50.9" fill="#00ffff"/><text x="223.1" y="385.6" font-size="18" fill="#ff0000">Phase error of</text><text x="223.1" y="409.2" font-size="18" fill="#ff0000">MoBulk_FFBP</text>
</svg></body></html>
